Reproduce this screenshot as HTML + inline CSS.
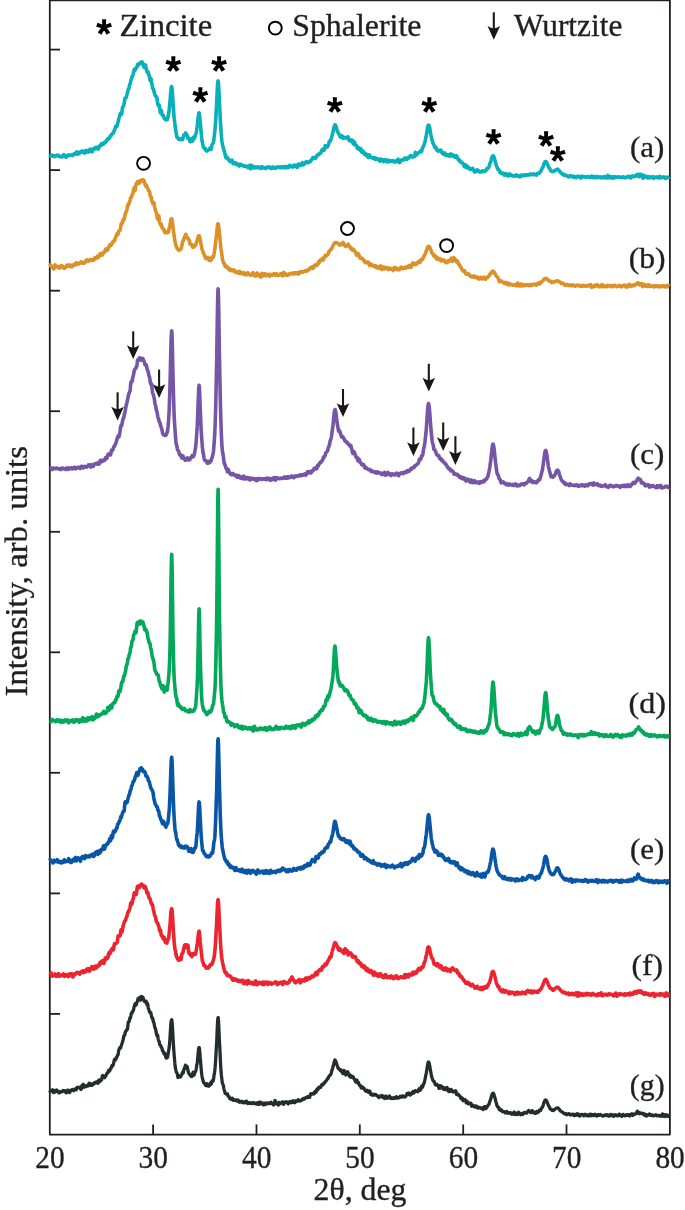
<!DOCTYPE html>
<html lang="en"><head><meta charset="utf-8"><title>XRD patterns</title>
<style>html,body{margin:0;padding:0;background:#fff}svg{display:block}text{font-family:"Liberation Serif","DejaVu Serif",serif;fill:#231f20;stroke:#231f20;stroke-width:0.35px}.ast{font-family:"Liberation Sans","DejaVu Sans",sans-serif;font-weight:normal;fill:#000;stroke:#000;stroke-width:1.5px;stroke-linejoin:miter}</style></head><body>
<svg width="685" height="1210" viewBox="0 0 685 1210">
<rect width="685" height="1210" fill="#fff"/>
<g stroke="#231f20" stroke-width="1.8" fill="none" stroke-linecap="butt" stroke-linejoin="round">
<path d="M49.8 1134.6 V0.3 H669.9 V1134.6 Z"/>
<path d="M49.8 49.6 h10.2"/>
<path d="M49.8 170.1 h10.2"/>
<path d="M49.8 290.7 h10.2"/>
<path d="M49.8 411.2 h10.2"/>
<path d="M49.8 531.8 h10.2"/>
<path d="M49.8 652.3 h10.2"/>
<path d="M49.8 772.8 h10.2"/>
<path d="M49.8 893.4 h10.2"/>
<path d="M49.8 1013.9 h10.2"/>
<path d="M153.1 1134.6 v-10.2"/>
<path d="M256.5 1134.6 v-10.2"/>
<path d="M359.8 1134.6 v-10.2"/>
<path d="M463.2 1134.6 v-10.2"/>
<path d="M566.5 1134.6 v-10.2"/>
</g>
<g fill="none" stroke-linejoin="round" stroke-linecap="butt">
<polyline stroke="#08b0b9" stroke-width="3.6" points="49.8,155.7 50.1,156.3 50.4,156.4 50.7,156.0 51.0,155.2 51.3,155.0 51.6,155.3 52.0,155.8 52.3,155.4 52.6,155.4 52.9,155.6 53.2,156.0 53.5,156.4 53.8,155.9 54.1,155.9 54.4,156.2 54.7,156.5 55.0,156.5 55.4,156.5 55.7,156.2 56.0,155.8 56.3,155.6 56.6,155.5 56.9,155.5 57.2,155.2 57.5,155.0 57.8,155.1 58.1,155.2 58.5,155.2 58.8,155.8 59.1,156.5 59.4,156.6 59.7,156.3 60.0,156.3 60.3,156.6 60.6,156.8 60.9,156.9 61.2,156.9 61.5,156.6 61.9,156.1 62.2,156.0 62.5,156.6 62.8,156.6 63.1,156.0 63.4,155.3 63.7,154.6 64.0,154.8 64.3,155.3 64.6,155.7 65.0,156.4 65.3,156.7 65.6,157.0 65.9,157.2 66.2,156.9 66.5,156.3 66.8,155.9 67.1,155.8 67.4,155.3 67.7,155.3 68.1,155.0 68.4,155.3 68.7,155.7 69.0,155.5 69.3,155.4 69.6,155.0 69.9,155.0 70.2,155.0 70.5,155.0 70.8,155.0 71.1,154.9 71.5,155.1 71.8,155.1 72.1,155.0 72.4,155.0 72.7,155.6 73.0,155.3 73.3,154.7 73.6,154.2 73.9,154.0 74.2,153.9 74.6,153.7 74.9,153.4 75.2,153.5 75.5,154.0 75.8,153.5 76.1,153.3 76.4,152.3 76.7,151.9 77.0,152.9 77.3,154.1 77.6,154.2 78.0,153.2 78.3,152.3 78.6,152.6 78.9,153.6 79.2,153.5 79.5,152.8 79.8,152.3 80.1,152.2 80.4,152.0 80.7,151.9 81.1,152.0 81.4,152.2 81.7,152.2 82.0,151.6 82.3,151.0 82.6,151.3 82.9,151.7 83.2,151.6 83.5,151.6 83.8,151.6 84.1,152.7 84.5,153.2 84.8,152.5 85.1,151.3 85.4,150.7 85.7,151.8 86.0,152.5 86.3,152.3 86.6,151.4 86.9,150.6 87.2,150.7 87.6,150.7 87.9,150.6 88.2,151.3 88.5,151.7 88.8,152.0 89.1,151.7 89.4,151.3 89.7,150.4 90.0,149.2 90.3,149.1 90.7,149.4 91.0,150.3 91.3,150.8 91.6,151.1 91.9,151.6 92.2,151.7 92.5,151.4 92.8,150.5 93.1,149.5 93.4,148.8 93.7,148.4 94.1,148.3 94.4,148.3 94.7,148.6 95.0,148.9 95.3,148.2 95.6,147.5 95.9,147.3 96.2,148.0 96.5,148.7 96.8,148.3 97.2,147.4 97.5,147.1 97.8,147.5 98.1,148.4 98.4,149.0 98.7,148.2 99.0,147.3 99.3,146.3 99.6,145.9 99.9,146.3 100.2,146.1 100.6,145.8 100.9,144.9 101.2,144.1 101.5,143.6 101.8,143.5 102.1,143.8 102.4,143.9 102.7,144.3 103.0,144.5 103.3,144.4 103.7,143.9 104.0,143.2 104.3,142.7 104.6,142.1 104.9,142.0 105.2,142.0 105.5,142.2 105.8,141.7 106.1,141.3 106.4,140.9 106.8,140.3 107.1,140.1 107.4,139.4 107.7,139.5 108.0,139.4 108.3,138.8 108.6,138.0 108.9,138.0 109.2,138.4 109.5,138.1 109.8,137.4 110.2,136.0 110.5,136.0 110.8,135.8 111.1,135.5 111.4,135.4 111.7,134.3 112.0,133.9 112.3,133.5 112.6,133.5 112.9,133.6 113.3,133.1 113.6,132.4 113.9,131.7 114.2,130.8 114.5,130.0 114.8,129.1 115.1,128.4 115.4,127.7 115.7,126.5 116.0,125.9 116.3,125.8 116.7,126.5 117.0,126.2 117.3,125.1 117.6,123.6 117.9,122.5 118.2,121.8 118.5,120.0 118.8,118.9 119.1,117.7 119.4,116.9 119.8,116.1 120.1,114.4 120.4,113.3 120.7,113.1 121.0,114.1 121.3,114.4 121.6,114.0 121.9,112.4 122.2,109.8 122.5,108.0 122.8,106.8 123.2,106.3 123.5,106.0 123.8,105.1 124.1,103.7 124.4,101.8 124.7,99.8 125.0,98.5 125.3,98.0 125.6,97.8 125.9,97.9 126.3,97.2 126.6,96.1 126.9,94.6 127.2,93.4 127.5,92.9 127.8,91.3 128.1,89.8 128.4,89.2 128.7,88.8 129.0,87.7 129.4,85.9 129.7,84.5 130.0,84.0 130.3,83.1 130.6,82.1 130.9,80.4 131.2,79.5 131.5,78.6 131.8,76.9 132.1,76.7 132.4,76.2 132.8,75.4 133.1,74.7 133.4,73.2 133.7,71.7 134.0,70.4 134.3,69.4 134.6,69.7 134.9,70.3 135.2,69.9 135.5,69.2 135.9,68.2 136.2,68.0 136.5,67.7 136.8,67.2 137.1,66.7 137.4,65.4 137.7,64.2 138.0,64.1 138.3,64.5 138.6,64.9 138.9,64.7 139.3,63.6 139.6,63.4 139.9,63.1 140.2,63.0 140.5,62.5 140.8,62.7 141.1,63.1 141.4,62.6 141.7,62.4 142.0,61.9 142.4,62.7 142.7,63.2 143.0,63.5 143.3,65.6 143.6,66.6 143.9,67.1 144.2,66.1 144.5,65.3 144.8,65.4 145.1,64.8 145.5,65.2 145.8,66.3 146.1,68.7 146.4,69.9 146.7,70.2 147.0,71.7 147.3,72.4 147.6,72.7 147.9,72.2 148.2,71.9 148.5,73.7 148.9,75.2 149.2,75.8 149.5,76.3 149.8,78.0 150.1,80.4 150.4,80.7 150.7,79.8 151.0,78.8 151.3,80.0 151.6,82.3 152.0,84.3 152.3,86.5 152.6,87.9 152.9,88.8 153.2,88.7 153.5,89.2 153.8,90.5 154.1,92.1 154.4,93.1 154.7,94.1 155.0,94.9 155.4,95.9 155.7,96.4 156.0,96.3 156.3,96.9 156.6,96.8 156.9,97.9 157.2,99.8 157.5,101.9 157.8,104.2 158.1,104.9 158.5,105.9 158.8,105.5 159.1,105.0 159.4,105.7 159.7,107.8 160.0,111.0 160.3,112.8 160.6,112.8 160.9,111.1 161.2,110.4 161.5,111.0 161.9,113.2 162.2,114.9 162.5,115.3 162.8,115.1 163.1,115.1 163.4,115.6 163.7,116.5 164.0,117.7 164.3,118.1 164.6,118.7 165.0,118.8 165.3,119.2 165.6,119.7 165.9,119.7 166.2,119.2 166.5,119.2 166.8,119.4 167.1,119.7 167.4,119.3 167.7,117.9 168.1,116.5 168.4,114.8 168.7,113.3 169.0,111.7 169.3,109.1 169.6,105.8 169.9,102.3 170.2,98.8 170.5,94.9 170.8,91.2 171.1,88.3 171.5,86.7 171.7,86.8 171.8,87.0 172.1,89.1 172.4,92.7 172.7,97.2 173.0,102.0 173.3,106.6 173.6,111.0 173.9,114.9 174.2,118.4 174.6,121.4 174.9,123.9 175.2,126.6 175.5,128.9 175.8,130.6 176.1,132.3 176.4,134.1 176.7,136.0 177.0,137.3 177.3,137.7 177.6,137.7 178.0,137.7 178.3,138.4 178.6,139.3 178.9,139.5 179.2,139.4 179.5,138.8 179.8,139.0 180.1,139.3 180.4,138.9 180.7,139.0 181.1,139.1 181.4,138.9 181.7,138.9 182.0,139.4 182.3,139.3 182.6,139.5 182.9,138.4 183.2,137.1 183.5,136.5 183.8,134.9 184.2,134.9 184.5,135.2 184.8,135.1 185.1,134.8 185.4,133.5 185.7,133.0 186.0,133.7 186.3,134.0 186.6,134.4 186.9,134.7 187.2,135.7 187.6,137.6 187.9,138.5 188.2,138.3 188.5,138.2 188.8,138.3 189.1,138.8 189.4,139.7 189.7,140.7 190.0,141.6 190.3,141.7 190.7,141.2 191.0,140.0 191.3,139.5 191.6,139.0 191.9,139.6 192.2,140.8 192.5,141.0 192.8,140.5 193.1,138.4 193.4,137.4 193.7,137.7 194.1,138.0 194.4,138.2 194.7,137.4 195.0,136.2 195.3,135.5 195.6,134.8 195.9,134.0 196.2,132.9 196.5,131.0 196.8,128.6 197.2,126.2 197.5,123.7 197.8,120.8 198.1,118.1 198.4,115.5 198.7,113.5 199.0,112.8 199.1,112.8 199.3,113.5 199.6,115.5 199.9,118.6 200.2,122.2 200.6,126.0 200.9,129.7 201.2,132.8 201.5,135.9 201.8,138.7 202.1,141.0 202.4,142.4 202.7,143.7 203.0,145.4 203.3,146.8 203.7,147.8 204.0,147.8 204.3,147.8 204.6,147.8 204.9,148.2 205.2,149.2 205.5,149.7 205.8,150.1 206.1,150.4 206.4,150.7 206.8,151.2 207.1,150.9 207.4,150.5 207.7,150.3 208.0,150.0 208.3,150.2 208.6,149.8 208.9,149.7 209.2,149.4 209.5,149.0 209.8,148.4 210.2,147.8 210.5,148.3 210.8,148.9 211.1,149.3 211.4,148.1 211.7,146.3 212.0,144.9 212.3,143.9 212.6,143.8 212.9,143.5 213.3,142.7 213.6,141.5 213.9,139.3 214.2,136.9 214.5,134.1 214.8,131.3 215.1,128.5 215.4,125.0 215.7,120.7 216.0,115.1 216.3,108.8 216.7,102.1 217.0,95.2 217.3,89.0 217.6,84.1 217.9,81.3 218.1,81.0 218.2,81.2 218.5,83.6 218.8,88.4 219.1,94.6 219.4,101.6 219.8,108.8 220.1,115.3 220.4,121.1 220.7,126.0 221.0,130.4 221.3,134.7 221.6,138.3 221.9,141.3 222.2,143.2 222.5,144.7 222.9,146.2 223.2,147.6 223.5,149.0 223.8,149.8 224.1,150.4 224.4,151.6 224.7,152.7 225.0,153.8 225.3,155.3 225.6,156.4 225.9,157.5 226.3,157.9 226.6,157.6 226.9,157.5 227.2,157.1 227.5,157.6 227.8,158.1 228.1,158.9 228.4,159.8 228.7,159.6 229.0,159.9 229.4,160.3 229.7,160.9 230.0,161.7 230.3,161.1 230.6,160.7 230.9,160.6 231.2,160.6 231.5,160.9 231.8,160.2 232.1,160.3 232.4,161.4 232.8,162.7 233.1,163.6 233.4,163.3 233.7,162.8 234.0,163.0 234.3,163.4 234.6,163.4 234.9,163.4 235.2,163.2 235.5,162.7 235.9,163.2 236.2,163.8 236.5,164.2 236.8,164.7 237.1,164.3 237.4,164.0 237.7,164.5 238.0,164.5 238.3,164.7 238.6,165.1 238.9,165.5 239.3,166.0 239.6,165.6 239.9,164.4 240.2,164.1 240.5,164.2 240.8,164.9 241.1,165.0 241.4,164.7 241.7,164.7 242.0,165.2 242.4,165.6 242.7,165.7 243.0,165.8 243.3,165.9 243.6,166.1 243.9,165.9 244.2,165.7 244.5,165.8 244.8,166.4 245.1,166.4 245.5,166.4 245.8,166.2 246.1,166.3 246.4,166.4 246.7,166.3 247.0,166.2 247.3,166.3 247.6,167.1 247.9,167.6 248.2,167.6 248.5,167.6 248.9,166.9 249.2,166.2 249.5,165.4 249.8,165.2 250.1,166.7 250.4,167.9 250.7,168.7 251.0,168.5 251.3,167.2 251.6,165.9 252.0,165.5 252.3,166.2 252.6,167.0 252.9,167.5 253.2,167.0 253.5,167.2 253.8,167.9 254.1,168.0 254.4,167.8 254.7,167.3 255.0,166.9 255.4,167.4 255.7,167.4 256.0,167.4 256.3,167.7 256.6,167.6 256.9,167.5 257.2,167.2 257.5,166.8 257.8,166.7 258.1,166.7 258.5,167.1 258.8,167.4 259.1,167.7 259.4,167.9 259.7,167.6 260.0,167.7 260.3,168.0 260.6,168.4 260.9,168.2 261.2,167.4 261.6,166.8 261.9,166.7 262.2,167.3 262.5,167.7 262.8,168.0 263.1,167.9 263.4,167.5 263.7,167.5 264.0,167.8 264.3,167.8 264.6,167.6 265.0,167.9 265.3,168.3 265.6,168.4 265.9,168.5 266.2,168.2 266.5,167.9 266.8,167.6 267.1,167.1 267.4,167.0 267.7,167.2 268.1,167.2 268.4,167.4 268.7,167.2 269.0,166.9 269.3,167.2 269.6,167.5 269.9,167.4 270.2,167.7 270.5,167.7 270.8,168.2 271.1,168.6 271.5,168.3 271.8,167.7 272.1,167.0 272.4,166.9 272.7,167.5 273.0,167.9 273.3,168.0 273.6,168.2 273.9,168.0 274.2,168.0 274.6,167.7 274.9,167.5 275.2,167.4 275.5,167.5 275.8,168.1 276.1,168.1 276.4,167.6 276.7,167.0 277.0,167.0 277.3,167.4 277.6,167.0 278.0,167.0 278.3,167.1 278.6,167.2 278.9,167.2 279.2,166.8 279.5,167.2 279.8,167.6 280.1,167.7 280.4,167.4 280.7,166.8 281.1,167.0 281.4,167.5 281.7,167.8 282.0,167.7 282.3,167.3 282.6,167.2 282.9,166.7 283.2,166.9 283.5,167.0 283.8,167.0 284.2,167.4 284.5,167.4 284.8,167.7 285.1,167.5 285.4,166.6 285.7,166.3 286.0,166.7 286.3,167.1 286.6,167.7 286.9,167.4 287.2,166.9 287.6,166.9 287.9,166.8 288.2,167.5 288.5,167.5 288.8,167.0 289.1,166.2 289.4,165.5 289.7,165.4 290.0,165.4 290.3,165.9 290.7,166.2 291.0,166.1 291.3,166.6 291.6,166.8 291.9,166.8 292.2,166.9 292.5,166.8 292.8,167.1 293.1,166.5 293.4,165.4 293.7,165.3 294.1,165.9 294.4,166.1 294.7,165.9 295.0,165.9 295.3,165.9 295.6,165.7 295.9,165.0 296.2,165.2 296.5,166.5 296.8,167.3 297.2,167.4 297.5,166.6 297.8,165.5 298.1,164.9 298.4,164.5 298.7,164.0 299.0,164.1 299.3,164.0 299.6,164.6 299.9,165.2 300.3,165.6 300.6,165.3 300.9,164.9 301.2,164.7 301.5,164.9 301.8,164.9 302.1,163.7 302.4,162.7 302.7,163.0 303.0,164.1 303.3,164.8 303.7,164.6 304.0,164.1 304.3,164.1 304.6,163.8 304.9,163.2 305.2,162.9 305.5,162.6 305.8,162.1 306.1,161.7 306.4,161.8 306.8,162.3 307.1,162.7 307.4,162.5 307.7,162.7 308.0,162.8 308.3,162.7 308.6,162.6 308.9,162.1 309.2,161.7 309.5,161.3 309.8,161.3 310.2,161.6 310.5,161.4 310.8,160.8 311.1,159.9 311.4,159.7 311.7,159.7 312.0,159.2 312.3,158.9 312.6,157.9 312.9,157.5 313.3,157.6 313.6,157.5 313.9,158.1 314.2,157.8 314.5,157.5 314.8,157.5 315.1,157.7 315.4,158.3 315.7,158.0 316.0,157.3 316.3,156.4 316.7,156.1 317.0,155.7 317.3,155.4 317.6,155.0 317.9,154.6 318.2,154.4 318.5,154.6 318.8,154.5 319.1,154.2 319.4,153.7 319.8,153.2 320.1,153.4 320.4,153.2 320.7,153.1 321.0,152.3 321.3,151.6 321.6,150.6 321.9,150.1 322.2,150.0 322.5,149.4 322.9,149.2 323.2,149.5 323.5,150.2 323.8,150.4 324.1,150.3 324.4,149.3 324.7,147.8 325.0,146.4 325.3,145.6 325.6,146.3 325.9,147.6 326.3,147.4 326.6,147.3 326.9,147.1 327.2,146.9 327.5,146.7 327.8,146.1 328.1,145.5 328.4,144.7 328.7,143.6 329.0,142.1 329.4,141.6 329.7,141.4 330.0,141.2 330.3,141.0 330.6,140.1 330.9,139.5 331.2,138.5 331.5,137.8 331.8,136.6 332.1,135.3 332.4,134.1 332.8,132.8 333.1,131.5 333.4,129.9 333.7,128.4 334.0,127.1 334.3,126.2 334.6,125.6 334.9,125.1 334.9,124.9 335.2,124.9 335.5,125.4 335.9,126.1 336.2,127.1 336.5,128.3 336.8,129.6 337.1,130.6 337.4,131.3 337.7,131.8 338.0,132.2 338.3,133.0 338.6,133.6 339.0,134.2 339.3,135.1 339.6,135.6 339.9,136.3 340.2,136.9 340.5,137.1 340.8,136.6 341.1,135.8 341.4,135.6 341.7,135.7 342.0,136.1 342.4,136.2 342.7,136.7 343.0,137.8 343.3,138.3 343.6,138.1 343.9,137.7 344.2,137.5 344.5,137.4 344.8,137.8 345.1,138.0 345.5,137.9 345.8,138.0 346.1,137.8 346.4,138.1 346.7,137.9 347.0,137.3 347.3,137.1 347.6,136.9 347.9,136.7 348.2,137.4 348.5,138.6 348.9,139.7 349.2,140.5 349.5,140.2 349.8,140.6 350.1,140.2 350.4,139.8 350.7,140.0 351.0,140.5 351.3,141.4 351.6,141.3 352.0,140.8 352.3,140.2 352.6,140.8 352.9,142.4 353.2,143.8 353.5,143.7 353.8,142.4 354.1,141.7 354.4,142.0 354.7,143.3 355.0,144.6 355.4,145.2 355.7,145.2 356.0,145.0 356.3,145.1 356.6,145.7 356.9,146.5 357.2,147.8 357.5,148.4 357.8,148.6 358.1,148.2 358.5,147.5 358.8,147.9 359.1,148.7 359.4,149.5 359.7,150.0 360.0,150.1 360.3,149.7 360.6,148.6 360.9,148.8 361.2,150.2 361.6,151.9 361.9,152.2 362.2,150.8 362.5,150.9 362.8,151.0 363.1,151.3 363.4,151.8 363.7,152.4 364.0,153.7 364.3,153.9 364.6,154.5 365.0,154.6 365.3,153.9 365.6,153.5 365.9,153.6 366.2,154.7 366.5,155.5 366.8,155.4 367.1,154.7 367.4,154.9 367.7,155.7 368.1,157.0 368.4,157.5 368.7,156.5 369.0,155.4 369.3,154.9 369.6,155.6 369.9,156.6 370.2,156.9 370.5,156.8 370.8,156.7 371.1,157.0 371.5,157.6 371.8,157.6 372.1,157.8 372.4,158.1 372.7,158.3 373.0,158.2 373.3,158.1 373.6,158.2 373.9,157.8 374.2,157.7 374.6,157.8 374.9,158.5 375.2,159.3 375.5,159.2 375.8,159.2 376.1,159.1 376.4,159.1 376.7,158.5 377.0,158.7 377.3,158.7 377.7,158.8 378.0,159.1 378.3,159.1 378.6,159.8 378.9,160.2 379.2,160.4 379.5,160.6 379.8,161.2 380.1,161.0 380.4,160.5 380.7,159.8 381.1,159.0 381.4,159.3 381.7,159.8 382.0,160.2 382.3,160.0 382.6,159.8 382.9,159.8 383.2,160.9 383.5,161.7 383.8,161.7 384.2,161.2 384.5,160.5 384.8,160.2 385.1,159.8 385.4,159.6 385.7,159.6 386.0,159.9 386.3,160.2 386.6,160.7 386.9,161.4 387.2,162.0 387.6,161.8 387.9,160.9 388.2,160.3 388.5,160.2 388.8,160.6 389.1,160.9 389.4,161.2 389.7,161.5 390.0,161.5 390.3,161.1 390.7,160.6 391.0,160.6 391.3,160.7 391.6,160.7 391.9,161.0 392.2,161.3 392.5,161.4 392.8,161.0 393.1,160.7 393.4,161.0 393.7,161.6 394.1,161.9 394.4,161.3 394.7,161.2 395.0,161.3 395.3,161.7 395.6,162.0 395.9,161.2 396.2,160.8 396.5,160.5 396.8,160.9 397.2,161.4 397.5,160.5 397.8,159.5 398.1,159.2 398.4,160.1 398.7,161.3 399.0,162.1 399.3,162.5 399.6,162.6 399.9,162.4 400.3,161.1 400.6,160.4 400.9,160.1 401.2,160.1 401.5,160.4 401.8,160.3 402.1,160.2 402.4,160.1 402.7,159.8 403.0,159.7 403.3,159.8 403.7,159.9 404.0,159.4 404.3,158.9 404.6,158.3 404.9,158.0 405.2,158.5 405.5,158.9 405.8,159.3 406.1,159.3 406.4,159.4 406.8,159.3 407.1,159.2 407.4,158.5 407.7,157.7 408.0,157.7 408.3,157.4 408.6,157.7 408.9,157.9 409.2,157.6 409.5,157.4 409.8,156.9 410.2,156.1 410.5,155.8 410.8,155.5 411.1,155.9 411.4,156.3 411.7,156.6 412.0,156.6 412.3,156.6 412.6,156.9 412.9,156.6 413.3,156.5 413.6,156.1 413.9,156.3 414.2,156.7 414.5,156.5 414.8,155.4 415.1,153.5 415.4,152.4 415.7,152.8 416.0,153.9 416.4,154.9 416.7,154.7 417.0,154.0 417.3,153.6 417.6,153.6 417.9,153.2 418.2,153.2 418.5,152.8 418.8,152.5 419.1,152.4 419.4,152.1 419.8,151.9 420.1,151.3 420.4,151.0 420.7,150.7 421.0,151.4 421.3,151.7 421.6,151.3 421.9,150.5 422.2,149.0 422.5,147.9 422.9,147.1 423.2,146.8 423.5,146.3 423.8,145.8 424.1,144.6 424.4,143.6 424.7,142.7 425.0,141.7 425.3,140.5 425.6,138.9 425.9,137.1 426.3,135.3 426.6,133.4 426.9,131.7 427.2,129.8 427.5,128.1 427.8,126.7 428.1,125.6 428.4,125.1 428.5,125.0 428.7,125.1 429.0,125.7 429.4,126.7 429.7,127.9 430.0,129.6 430.3,131.7 430.6,133.7 430.9,135.2 431.2,136.5 431.5,138.0 431.8,139.5 432.1,140.5 432.4,141.5 432.8,142.5 433.1,143.3 433.4,144.0 433.7,144.4 434.0,145.1 434.3,146.1 434.6,146.9 434.9,147.5 435.2,147.8 435.5,147.5 435.9,147.3 436.2,147.9 436.5,149.3 436.8,150.2 437.1,150.0 437.4,149.8 437.7,150.2 438.0,150.9 438.3,151.2 438.6,150.7 439.0,150.5 439.3,150.3 439.6,150.3 439.9,150.7 440.2,150.8 440.5,150.6 440.8,150.2 441.1,150.5 441.4,151.4 441.7,152.3 442.0,152.8 442.4,153.2 442.7,153.9 443.0,154.0 443.3,153.7 443.6,153.4 443.9,153.2 444.2,152.9 444.5,152.8 444.8,153.0 445.1,154.2 445.5,155.2 445.8,155.4 446.1,155.2 446.4,155.2 446.7,155.5 447.0,155.5 447.3,155.1 447.6,154.6 447.9,155.0 448.2,155.6 448.5,155.7 448.9,155.5 449.2,155.8 449.5,156.0 449.8,156.3 450.1,155.7 450.4,154.4 450.7,154.0 451.0,154.5 451.3,155.3 451.6,155.4 452.0,154.9 452.3,154.7 452.6,155.4 452.9,156.4 453.2,156.4 453.5,156.2 453.8,155.3 454.1,155.2 454.4,155.6 454.7,156.3 455.1,157.3 455.4,157.3 455.7,157.2 456.0,156.7 456.3,155.9 456.6,155.9 456.9,156.5 457.2,157.2 457.5,158.2 457.8,158.8 458.1,159.4 458.5,159.9 458.8,159.4 459.1,159.5 459.4,160.2 459.7,161.2 460.0,161.8 460.3,161.7 460.6,161.8 460.9,162.1 461.2,161.9 461.6,162.2 461.9,162.3 462.2,162.8 462.5,163.3 462.8,163.6 463.1,164.0 463.4,164.4 463.7,165.0 464.0,165.8 464.3,166.7 464.6,166.5 465.0,165.4 465.3,164.7 465.6,165.1 465.9,166.6 466.2,167.6 466.5,167.4 466.8,167.1 467.1,166.6 467.4,166.4 467.7,166.3 468.1,167.0 468.4,167.8 468.7,168.5 469.0,168.8 469.3,168.2 469.6,168.5 469.9,168.4 470.2,168.8 470.5,169.5 470.8,169.4 471.1,169.3 471.5,169.0 471.8,169.0 472.1,169.1 472.4,168.9 472.7,168.4 473.0,168.9 473.3,169.5 473.6,170.1 473.9,170.6 474.2,171.1 474.6,171.8 474.9,172.0 475.2,171.3 475.5,170.9 475.8,170.8 476.1,170.9 476.4,171.0 476.7,170.2 477.0,169.8 477.3,169.9 477.7,170.3 478.0,170.5 478.3,170.6 478.6,170.9 478.9,171.4 479.2,171.6 479.5,172.0 479.8,172.0 480.1,172.2 480.4,171.8 480.7,171.5 481.1,171.5 481.4,171.6 481.7,171.7 482.0,171.2 482.3,170.9 482.6,170.8 482.9,171.2 483.2,171.8 483.5,171.8 483.8,171.7 484.2,171.2 484.5,171.2 484.8,171.2 485.1,170.6 485.4,170.5 485.7,170.6 486.0,170.5 486.3,169.8 486.6,169.0 486.9,168.5 487.2,168.4 487.6,168.4 487.9,168.5 488.2,168.2 488.5,167.8 488.8,167.2 489.1,166.3 489.4,165.2 489.7,164.1 490.0,163.2 490.3,162.6 490.7,161.9 491.0,160.9 491.3,159.8 491.6,158.6 491.9,157.5 492.2,156.6 492.5,156.1 492.8,155.9 493.0,155.8 493.1,155.8 493.4,155.9 493.8,156.6 494.1,157.4 494.4,158.3 494.7,159.5 495.0,160.6 495.3,161.7 495.6,162.8 495.9,163.9 496.2,164.9 496.5,165.9 496.8,166.6 497.2,167.5 497.5,168.4 497.8,169.0 498.1,169.6 498.4,169.7 498.7,169.8 499.0,170.0 499.3,170.5 499.6,171.5 499.9,172.3 500.3,172.3 500.6,172.3 500.9,172.4 501.2,173.0 501.5,173.6 501.8,173.3 502.1,173.2 502.4,173.1 502.7,173.4 503.0,173.4 503.3,173.3 503.7,173.4 504.0,173.8 504.3,174.7 504.6,175.2 504.9,175.2 505.2,174.4 505.5,173.6 505.8,173.6 506.1,174.2 506.4,174.8 506.8,175.0 507.1,175.1 507.4,175.3 507.7,175.8 508.0,176.0 508.3,175.9 508.6,175.2 508.9,174.3 509.2,174.0 509.5,173.9 509.8,174.4 510.2,175.2 510.5,175.6 510.8,175.7 511.1,175.3 511.4,175.1 511.7,175.1 512.0,175.3 512.3,175.5 512.6,175.7 512.9,176.0 513.3,175.9 513.6,175.8 513.9,176.1 514.2,176.2 514.5,176.3 514.8,176.2 515.1,175.7 515.4,175.4 515.7,175.0 516.0,175.0 516.4,175.0 516.7,175.0 517.0,175.4 517.3,175.6 517.6,176.0 517.9,176.1 518.2,176.1 518.5,175.9 518.8,175.6 519.1,176.0 519.4,176.4 519.8,176.9 520.1,176.7 520.4,176.3 520.7,175.8 521.0,175.3 521.3,175.1 521.6,175.5 521.9,175.9 522.2,176.0 522.5,175.8 522.9,175.6 523.2,175.5 523.5,175.1 523.8,175.0 524.1,174.9 524.4,174.8 524.7,174.8 525.0,174.7 525.3,175.1 525.6,175.2 525.9,175.3 526.3,175.2 526.6,174.7 526.9,174.7 527.2,174.9 527.5,175.0 527.8,174.9 528.1,174.7 528.4,174.6 528.7,175.0 529.0,174.9 529.4,174.8 529.7,174.7 529.7,174.4 530.0,174.2 530.3,174.0 530.6,174.2 530.9,174.5 531.2,174.8 531.5,174.7 531.8,174.5 532.1,174.5 532.5,174.2 532.8,174.1 533.1,173.9 533.4,173.9 533.7,174.4 534.0,174.6 534.3,174.8 534.6,174.8 534.9,174.7 535.2,174.6 535.5,174.4 535.9,174.5 536.2,174.9 536.5,175.1 536.8,174.7 537.1,174.1 537.4,173.6 537.7,173.4 538.0,173.3 538.3,173.4 538.6,173.3 539.0,173.2 539.3,173.2 539.6,172.6 539.9,172.2 540.2,171.7 540.5,171.7 540.8,171.4 541.1,170.6 541.4,169.6 541.7,168.9 542.0,168.4 542.4,168.0 542.7,167.5 543.0,166.9 543.3,166.0 543.6,165.0 543.9,164.3 544.2,163.5 544.5,162.9 544.8,162.2 545.1,161.7 545.5,161.5 545.7,161.5 545.8,161.6 546.1,161.7 546.4,162.0 546.7,162.5 547.0,163.2 547.3,164.0 547.6,164.7 547.9,165.4 548.2,166.1 548.5,166.8 548.9,167.6 549.2,168.1 549.5,168.3 549.8,168.8 550.1,169.4 550.4,170.1 550.7,170.5 551.0,170.7 551.3,171.0 551.6,171.4 552.0,171.5 552.3,171.4 552.6,171.5 552.9,171.6 553.2,171.5 553.5,171.4 553.8,171.3 554.1,171.0 554.4,170.8 554.7,170.6 555.1,170.4 555.4,170.3 555.7,170.2 556.0,169.8 556.3,169.7 556.6,169.6 556.9,169.4 557.2,169.2 557.5,169.1 557.5,169.2 557.8,169.4 558.1,169.7 558.5,169.9 558.8,170.2 559.1,170.6 559.4,170.9 559.7,171.3 560.0,171.5 560.3,172.0 560.6,172.5 560.9,172.8 561.2,173.2 561.6,173.4 561.9,173.4 562.2,173.6 562.5,174.0 562.8,174.5 563.1,174.8 563.4,174.5 563.7,174.3 564.0,174.5 564.3,175.0 564.6,175.5 565.0,175.3 565.3,175.0 565.6,175.1 565.9,175.3 566.2,175.7 566.5,175.7 566.8,175.7 567.1,175.7 567.4,175.9 567.7,176.1 568.1,176.6 568.4,176.9 568.7,177.0 569.0,176.7 569.3,176.4 569.6,176.3 569.9,175.9 570.2,175.5 570.5,175.5 570.8,175.8 571.2,176.4 571.5,176.7 571.8,176.4 572.1,176.2 572.4,176.3 572.7,176.6 573.0,176.5 573.3,176.1 573.6,176.2 573.9,177.0 574.2,177.2 574.6,176.9 574.9,176.6 575.2,176.7 575.5,177.4 575.8,177.6 576.1,177.7 576.4,177.2 576.7,176.9 577.0,176.7 577.3,176.2 577.7,176.2 578.0,176.1 578.3,176.5 578.6,176.6 578.9,176.6 579.2,176.7 579.5,176.5 579.8,176.6 580.1,176.9 580.4,177.8 580.7,178.1 581.1,177.8 581.4,177.1 581.7,176.4 582.0,176.6 582.3,176.4 582.6,176.5 582.9,176.9 583.2,176.8 583.5,176.8 583.8,176.7 584.2,176.6 584.5,177.0 584.8,177.1 585.1,177.1 585.4,177.5 585.7,177.2 586.0,177.2 586.3,177.1 586.6,176.8 586.9,176.8 587.2,176.6 587.6,176.9 587.9,177.0 588.2,176.9 588.5,176.7 588.8,177.0 589.1,177.4 589.4,177.6 589.7,177.2 590.0,176.9 590.3,177.0 590.7,177.1 591.0,177.4 591.3,176.8 591.6,176.1 591.9,176.2 592.2,176.9 592.5,177.3 592.8,177.5 593.1,177.1 593.4,176.9 593.8,176.6 594.1,176.5 594.4,177.4 594.7,177.8 595.0,177.7 595.3,177.4 595.6,177.7 595.9,177.7 596.2,177.2 596.5,176.8 596.8,176.5 597.2,176.9 597.5,176.9 597.8,177.1 598.1,177.4 598.4,177.3 598.7,177.0 599.0,177.0 599.3,177.2 599.6,177.1 599.9,176.8 600.3,176.7 600.6,177.2 600.9,177.9 601.2,177.9 601.5,177.2 601.8,177.2 602.1,177.5 602.4,177.6 602.7,177.4 603.0,177.0 603.3,176.9 603.7,176.9 604.0,177.0 604.3,177.4 604.6,177.7 604.9,177.4 605.2,176.7 605.5,176.5 605.8,177.0 606.1,177.5 606.4,177.9 606.8,178.0 607.1,177.7 607.4,176.9 607.7,176.0 608.0,175.5 608.3,175.8 608.6,176.7 608.9,177.4 609.2,177.9 609.5,177.6 609.9,177.6 610.2,177.7 610.5,177.8 610.8,177.6 611.1,176.6 611.4,176.5 611.7,176.7 612.0,177.4 612.3,178.1 612.6,178.2 612.9,178.3 613.3,178.0 613.6,177.5 613.9,177.1 614.2,176.7 614.5,176.6 614.8,176.7 615.1,177.1 615.4,177.5 615.7,177.2 616.0,177.0 616.4,177.2 616.7,177.3 617.0,177.3 617.3,177.0 617.6,176.7 617.9,176.8 618.2,176.9 618.5,176.8 618.8,177.0 619.1,177.2 619.4,177.1 619.8,177.1 620.1,177.2 620.4,177.3 620.7,177.6 621.0,177.6 621.3,177.4 621.6,177.5 621.9,177.5 622.2,177.1 622.5,177.0 622.9,176.9 623.2,177.3 623.5,177.4 623.8,177.1 624.1,177.2 624.4,177.3 624.7,177.7 625.0,177.8 625.3,177.7 625.6,177.6 625.9,177.2 626.3,177.2 626.6,177.2 626.9,177.0 627.2,176.8 627.5,176.6 627.8,176.8 628.1,177.0 628.4,176.9 628.7,176.5 629.0,176.3 629.4,176.5 629.7,176.9 630.0,177.5 630.3,177.9 630.6,177.9 630.9,177.6 631.2,177.2 631.5,177.2 631.8,176.8 632.1,176.1 632.5,175.8 632.8,176.4 633.1,176.6 633.4,176.6 633.7,176.4 634.0,176.3 634.3,176.5 634.6,176.1 634.9,176.2 635.2,176.1 635.5,176.3 635.9,176.2 636.2,175.7 636.5,175.3 636.8,174.8 637.1,174.7 637.4,175.0 637.7,175.1 638.0,174.6 638.3,174.2 638.5,174.4 638.6,175.5 639.0,176.4 639.3,176.7 639.6,176.3 639.9,175.9 640.2,174.9 640.5,174.3 640.8,174.7 641.1,174.9 641.4,175.1 641.7,174.6 642.0,174.7 642.4,175.8 642.7,177.3 643.0,178.3 643.3,178.0 643.6,176.7 643.9,175.7 644.2,175.9 644.5,176.4 644.8,176.5 645.1,176.2 645.5,176.1 645.8,176.5 646.1,176.8 646.4,177.2 646.7,177.4 647.0,177.5 647.3,177.8 647.6,177.6 647.9,177.1 648.2,176.6 648.6,176.7 648.9,177.4 649.2,177.8 649.5,177.5 649.8,177.3 650.1,177.1 650.4,177.0 650.7,177.1 651.0,177.1 651.3,177.5 651.6,177.7 652.0,177.6 652.3,177.5 652.6,176.8 652.9,176.6 653.2,177.4 653.5,178.0 653.8,178.4 654.1,177.9 654.4,177.5 654.7,177.4 655.1,177.4 655.4,177.3 655.7,177.1 656.0,177.1 656.3,177.1 656.6,176.9 656.9,177.2 657.2,177.6 657.5,177.5 657.8,177.6 658.1,177.3 658.5,177.6 658.8,178.0 659.1,177.7 659.4,176.9 659.7,176.3 660.0,176.4 660.3,177.2 660.6,177.9 660.9,177.7 661.2,177.5 661.6,177.4 661.9,177.5 662.2,177.5 662.5,177.2 662.8,177.5 663.1,177.5 663.4,177.5 663.7,177.3 664.0,176.9 664.3,177.1 664.6,177.4 665.0,178.1 665.3,178.5 665.6,178.2 665.9,178.0 666.2,177.4 666.5,177.2 666.8,177.3 667.1,177.5 667.4,177.7 667.7,177.2 668.1,177.2 668.4,177.4 668.7,177.4 669.0,177.0 669.3,176.5"/>
<polyline stroke="#dc9128" stroke-width="3.6" points="49.8,265.7 50.1,265.0 50.4,264.8 50.7,265.8 51.0,266.2 51.3,266.7 51.6,267.1 52.0,267.1 52.3,267.1 52.6,266.5 52.9,266.6 53.2,267.8 53.5,268.7 53.8,269.0 54.1,268.4 54.4,267.3 54.7,266.0 55.0,264.9 55.4,265.0 55.7,265.6 56.0,266.1 56.3,266.5 56.6,266.8 56.9,266.8 57.2,266.6 57.5,266.8 57.8,267.5 58.1,267.5 58.5,266.8 58.8,266.5 59.1,266.8 59.4,267.5 59.7,268.1 60.0,267.2 60.3,267.0 60.6,266.5 60.9,266.1 61.2,266.1 61.5,265.6 61.9,266.1 62.2,266.6 62.5,266.4 62.8,266.3 63.1,266.8 63.4,267.6 63.7,268.2 64.0,268.2 64.3,268.4 64.6,268.3 65.0,268.1 65.3,267.4 65.6,267.0 65.9,267.1 66.2,266.4 66.5,265.8 66.8,265.6 67.1,265.3 67.4,265.0 67.7,265.3 68.1,265.6 68.4,266.2 68.7,266.3 69.0,265.8 69.3,265.8 69.6,265.4 69.9,265.0 70.2,264.9 70.5,265.0 70.8,265.7 71.1,266.2 71.5,266.8 71.8,266.9 72.1,266.6 72.4,266.4 72.7,265.7 73.0,265.3 73.3,265.0 73.6,264.6 73.9,264.5 74.2,264.7 74.6,265.0 74.9,265.1 75.2,263.7 75.5,263.3 75.8,263.5 76.1,263.4 76.4,263.6 76.7,262.9 77.0,263.4 77.3,263.9 77.6,264.1 78.0,264.3 78.3,264.1 78.6,263.9 78.9,263.8 79.2,263.3 79.5,263.2 79.8,263.2 80.1,263.0 80.4,262.9 80.7,262.1 81.1,261.8 81.4,262.2 81.7,262.1 82.0,262.2 82.3,262.4 82.6,262.6 82.9,263.2 83.2,263.0 83.5,262.7 83.8,263.2 84.1,263.2 84.5,263.1 84.8,262.3 85.1,261.7 85.4,261.7 85.7,261.6 86.0,260.9 86.3,260.1 86.6,259.9 86.9,259.8 87.2,260.2 87.6,260.9 87.9,261.5 88.2,261.4 88.5,261.0 88.8,260.9 89.1,260.8 89.4,260.7 89.7,260.1 90.0,259.8 90.3,259.6 90.7,259.7 91.0,259.9 91.3,259.8 91.6,259.7 91.9,259.8 92.2,260.5 92.5,260.3 92.8,260.0 93.1,259.5 93.4,259.7 93.7,260.2 94.1,259.6 94.4,258.9 94.7,258.0 95.0,257.7 95.3,258.4 95.6,258.7 95.9,258.4 96.2,258.5 96.5,258.0 96.8,257.8 97.2,257.3 97.5,256.1 97.8,256.3 98.1,256.7 98.4,257.1 98.7,257.2 99.0,256.4 99.3,255.2 99.6,254.7 99.9,254.1 100.2,253.7 100.6,254.0 100.9,254.3 101.2,254.6 101.5,254.8 101.8,255.1 102.1,255.2 102.4,255.0 102.7,254.0 103.0,253.0 103.3,252.3 103.7,252.1 104.0,252.3 104.3,252.4 104.6,252.1 104.9,251.1 105.2,250.3 105.5,249.8 105.8,249.0 106.1,249.1 106.4,249.4 106.8,249.8 107.1,250.5 107.4,250.2 107.7,250.1 108.0,249.0 108.3,247.5 108.6,247.3 108.9,247.2 109.2,246.9 109.5,245.6 109.8,244.8 110.2,244.6 110.5,245.1 110.8,245.5 111.1,245.1 111.4,244.8 111.7,244.2 112.0,244.0 112.3,243.3 112.6,242.5 112.9,241.7 113.3,241.2 113.6,241.2 113.9,240.9 114.2,241.1 114.5,240.8 114.8,239.7 115.1,238.6 115.4,237.7 115.7,237.1 116.0,236.5 116.3,235.4 116.7,234.3 117.0,233.8 117.3,234.4 117.6,234.8 117.9,234.5 118.2,233.3 118.5,231.7 118.8,231.0 119.1,231.0 119.4,230.7 119.8,230.6 120.1,230.1 120.4,228.4 120.7,226.8 121.0,224.8 121.3,223.4 121.6,223.3 121.9,223.5 122.2,223.5 122.5,222.5 122.8,221.0 123.2,219.7 123.5,219.9 123.8,220.0 124.1,219.2 124.4,218.2 124.7,216.2 125.0,215.0 125.3,213.6 125.6,213.0 125.9,212.4 126.3,211.6 126.6,210.8 126.9,209.7 127.2,208.4 127.5,206.5 127.8,205.1 128.1,204.2 128.4,204.4 128.7,204.5 129.0,204.0 129.4,202.7 129.7,201.2 130.0,200.2 130.3,199.0 130.6,197.8 130.9,197.6 131.2,197.6 131.5,196.7 131.8,195.7 132.1,194.6 132.4,194.4 132.8,194.1 133.1,192.3 133.4,190.6 133.7,188.7 134.0,187.9 134.3,188.5 134.6,189.9 134.9,190.7 135.2,189.8 135.5,188.0 135.9,185.2 136.2,183.7 136.5,183.6 136.8,183.9 137.1,182.7 137.4,181.8 137.7,182.0 138.0,182.8 138.3,183.2 138.6,182.9 138.9,183.4 139.3,183.1 139.6,181.9 139.9,180.6 140.2,180.6 140.5,181.7 140.8,181.4 141.1,181.2 141.4,181.1 141.7,181.0 142.0,180.6 142.4,179.8 142.7,179.8 143.0,180.8 143.3,180.8 143.6,180.2 143.9,180.2 144.2,181.5 144.5,182.8 144.8,183.6 145.1,184.8 145.5,185.7 145.8,186.2 146.1,185.4 146.4,185.0 146.7,186.0 147.0,187.2 147.3,187.8 147.6,188.2 147.9,188.9 148.2,189.6 148.5,190.8 148.9,190.8 149.2,191.2 149.5,191.8 149.8,192.9 150.1,195.3 150.4,196.4 150.7,197.0 151.0,196.7 151.3,197.3 151.6,199.5 152.0,201.0 152.3,201.9 152.6,202.8 152.9,203.8 153.2,203.9 153.5,203.1 153.8,202.5 154.1,203.7 154.4,205.5 154.7,207.4 155.0,208.6 155.4,210.0 155.7,210.9 156.0,211.7 156.3,212.8 156.6,213.9 156.9,216.0 157.2,217.5 157.5,218.9 157.8,218.5 158.1,217.3 158.5,215.5 158.8,215.8 159.1,218.3 159.4,221.3 159.7,222.9 160.0,223.6 160.3,224.0 160.6,224.9 160.9,224.9 161.2,223.9 161.5,225.0 161.9,226.6 162.2,228.0 162.5,228.2 162.8,228.5 163.1,228.6 163.4,229.5 163.7,229.4 164.0,229.8 164.3,231.0 164.6,231.9 165.0,232.8 165.3,232.7 165.6,232.6 165.9,232.1 166.2,232.2 166.5,232.1 166.8,232.0 167.1,232.4 167.4,232.5 167.7,232.7 168.1,232.5 168.4,232.0 168.7,230.8 169.0,229.3 169.3,228.1 169.6,226.9 169.9,225.6 170.2,223.9 170.5,221.9 170.8,220.3 171.1,219.1 171.5,218.7 171.7,218.8 171.8,218.9 172.1,220.0 172.4,222.0 172.7,224.7 173.0,227.4 173.3,229.8 173.6,231.9 173.9,234.1 174.2,236.3 174.6,238.9 174.9,240.9 175.2,242.4 175.5,243.7 175.8,244.7 176.1,245.9 176.4,246.6 176.7,247.2 177.0,248.0 177.3,248.7 177.6,248.8 178.0,249.0 178.3,249.8 178.6,250.2 178.9,250.2 179.2,250.3 179.5,249.6 179.8,249.7 180.1,249.6 180.4,249.3 180.7,249.3 181.1,248.6 181.4,247.7 181.7,246.7 182.0,244.8 182.3,242.9 182.6,241.8 182.9,240.9 183.2,241.1 183.5,240.7 183.8,239.1 184.2,237.8 184.5,237.0 184.8,237.0 185.1,236.8 185.4,235.4 185.7,234.3 186.0,234.6 186.3,235.9 186.6,237.0 186.9,237.7 187.2,237.6 187.6,237.7 187.9,238.0 188.2,238.7 188.5,239.4 188.8,239.8 189.1,239.9 189.4,240.5 189.7,242.4 190.0,243.7 190.3,244.2 190.7,243.8 191.0,243.8 191.3,244.3 191.6,244.6 191.9,244.8 192.2,245.9 192.5,247.0 192.8,247.3 193.1,246.7 193.4,246.0 193.7,246.5 194.1,246.8 194.4,246.0 194.7,245.2 195.0,245.0 195.3,245.2 195.6,245.2 195.9,244.3 196.2,243.5 196.5,242.6 196.8,241.7 197.2,240.6 197.5,239.3 197.8,238.1 198.1,237.0 198.4,236.1 198.7,235.7 199.0,235.7 199.1,235.9 199.3,236.1 199.6,236.9 199.9,238.2 200.2,239.9 200.6,241.6 200.9,243.3 201.2,245.0 201.5,246.6 201.8,248.2 202.1,249.2 202.4,250.1 202.7,250.6 203.0,251.7 203.3,253.1 203.7,253.7 204.0,254.2 204.3,254.7 204.6,255.5 204.9,256.2 205.2,257.4 205.5,258.3 205.8,258.5 206.1,258.2 206.4,257.8 206.8,257.9 207.1,258.3 207.4,258.1 207.7,257.4 208.0,257.5 208.3,258.1 208.6,259.3 208.9,260.1 209.2,259.6 209.5,259.2 209.8,259.1 210.2,259.6 210.5,260.3 210.8,260.5 211.1,259.9 211.4,258.9 211.7,257.6 212.0,257.1 212.3,257.3 212.6,257.6 212.9,257.7 213.3,257.2 213.6,256.0 213.9,254.6 214.2,253.0 214.5,251.3 214.8,249.3 215.1,247.0 215.4,244.4 215.7,241.9 216.0,239.3 216.3,236.4 216.7,233.2 217.0,229.9 217.3,227.1 217.6,224.8 217.9,223.7 218.1,223.7 218.2,223.9 218.5,225.2 218.8,227.4 219.1,230.3 219.4,233.5 219.8,236.6 220.1,240.0 220.4,243.4 220.7,246.3 221.0,249.0 221.3,251.0 221.6,252.9 221.9,255.0 222.2,257.1 222.5,259.3 222.9,260.8 223.2,261.8 223.5,262.7 223.8,263.0 224.1,263.2 224.4,264.2 224.7,265.2 225.0,266.0 225.3,266.6 225.6,266.9 225.9,267.0 226.3,266.5 226.6,266.2 226.9,266.6 227.2,267.3 227.5,267.3 227.8,267.4 228.1,268.2 228.4,269.2 228.7,269.5 229.0,269.1 229.4,268.7 229.7,268.6 230.0,268.9 230.3,269.4 230.6,270.4 230.9,270.6 231.2,270.0 231.5,269.8 231.8,269.8 232.1,270.4 232.4,270.8 232.8,270.6 233.1,270.3 233.4,270.3 233.7,269.8 234.0,270.2 234.3,270.2 234.6,270.6 234.9,271.6 235.2,271.9 235.5,272.5 235.9,272.3 236.2,271.8 236.5,271.7 236.8,271.7 237.1,272.2 237.4,272.5 237.7,272.2 238.0,272.4 238.3,272.8 238.6,273.2 238.9,272.9 239.3,272.0 239.6,271.3 239.9,271.7 240.2,272.7 240.5,273.4 240.8,273.5 241.1,273.0 241.4,273.0 241.7,272.9 242.0,272.7 242.4,272.9 242.7,273.3 243.0,273.9 243.3,273.6 243.6,272.7 243.9,272.6 244.2,273.2 244.5,274.3 244.8,274.7 245.1,274.4 245.5,273.8 245.8,273.8 246.1,273.9 246.4,274.0 246.7,274.6 247.0,274.6 247.3,274.4 247.6,273.4 247.9,272.6 248.2,273.0 248.5,273.6 248.9,273.9 249.2,274.1 249.5,274.4 249.8,274.8 250.1,275.0 250.4,275.3 250.7,275.1 251.0,275.0 251.3,275.1 251.6,275.0 252.0,274.8 252.3,274.1 252.6,272.9 252.9,272.6 253.2,273.3 253.5,273.6 253.8,274.5 254.1,275.2 254.4,275.9 254.7,276.0 255.0,275.2 255.4,274.8 255.7,275.1 256.0,275.8 256.3,275.3 256.6,274.3 256.9,273.3 257.2,273.0 257.5,273.7 257.8,274.7 258.1,275.5 258.5,275.8 258.8,275.5 259.1,274.8 259.4,275.1 259.7,274.9 260.0,274.8 260.3,275.2 260.6,276.3 260.9,277.1 261.2,276.2 261.6,274.5 261.9,273.4 262.2,273.7 262.5,274.3 262.8,275.1 263.1,275.5 263.4,275.6 263.7,275.0 264.0,274.3 264.3,274.2 264.6,273.7 265.0,273.9 265.3,274.4 265.6,275.1 265.9,275.8 266.2,275.6 266.5,275.0 266.8,274.7 267.1,274.4 267.4,274.5 267.7,274.9 268.1,275.0 268.4,274.7 268.7,274.4 269.0,274.8 269.3,275.7 269.6,276.2 269.9,275.6 270.2,275.1 270.5,275.1 270.8,274.8 271.1,274.4 271.5,274.6 271.8,274.8 272.1,275.2 272.4,274.8 272.7,274.5 273.0,274.9 273.3,274.7 273.6,274.1 273.9,273.6 274.2,273.8 274.6,274.5 274.9,274.9 275.2,274.5 275.5,275.0 275.8,275.3 276.1,275.3 276.4,274.6 276.7,273.8 277.0,274.1 277.3,274.8 277.6,275.4 278.0,275.4 278.3,275.2 278.6,275.0 278.9,275.0 279.2,274.8 279.5,275.0 279.8,274.8 280.1,274.7 280.4,274.2 280.7,273.6 281.1,274.2 281.4,274.5 281.7,274.9 282.0,275.5 282.3,275.8 282.6,275.9 282.9,275.1 283.2,273.5 283.5,272.6 283.8,272.3 284.2,273.1 284.5,274.3 284.8,274.4 285.1,274.3 285.4,273.8 285.7,274.1 286.0,275.0 286.3,275.4 286.6,275.2 286.9,274.7 287.2,274.7 287.6,275.1 287.9,275.2 288.2,274.6 288.5,274.3 288.8,273.9 289.1,273.9 289.4,274.1 289.7,273.6 290.0,273.6 290.3,273.4 290.7,273.6 291.0,273.9 291.3,274.0 291.6,274.0 291.9,273.6 292.2,273.5 292.5,273.6 292.8,273.7 293.1,273.5 293.4,272.8 293.7,272.9 294.1,273.5 294.4,274.0 294.7,273.9 295.0,273.0 295.3,272.9 295.6,272.7 295.9,273.0 296.2,273.0 296.5,272.9 296.8,272.9 297.2,272.7 297.5,272.8 297.8,273.2 298.1,274.1 298.4,274.2 298.7,273.8 299.0,272.7 299.3,272.2 299.6,272.4 299.9,272.7 300.3,272.4 300.6,271.6 300.9,271.6 301.2,271.8 301.5,272.1 301.8,272.2 302.1,272.0 302.4,272.2 302.7,272.2 303.0,271.9 303.3,271.6 303.7,271.5 304.0,271.6 304.3,271.4 304.6,271.0 304.9,270.7 305.2,270.8 305.5,270.8 305.8,271.0 306.1,270.6 306.4,270.6 306.8,271.0 307.1,270.5 307.4,270.3 307.7,270.0 308.0,270.0 308.3,270.4 308.6,269.6 308.9,269.3 309.2,269.2 309.5,268.9 309.8,268.7 310.2,267.9 310.5,267.8 310.8,267.9 311.1,267.9 311.4,267.6 311.7,267.1 312.0,266.9 312.3,266.7 312.6,267.4 312.9,268.3 313.3,268.1 313.6,267.6 313.9,266.6 314.2,265.8 314.5,265.7 314.8,265.1 315.1,264.9 315.4,265.1 315.7,265.6 316.0,265.8 316.3,265.5 316.7,265.0 317.0,264.6 317.3,264.9 317.6,264.7 317.9,263.6 318.2,262.5 318.5,262.0 318.8,262.5 319.1,262.8 319.4,261.8 319.8,260.7 320.1,260.1 320.4,259.8 320.7,260.0 321.0,259.9 321.3,260.1 321.6,260.1 321.9,259.3 322.2,258.7 322.5,259.1 322.9,259.9 323.2,260.0 323.5,258.8 323.8,257.6 324.1,257.7 324.4,257.2 324.7,257.0 325.0,255.8 325.3,255.4 325.6,256.1 325.9,255.9 326.3,256.0 326.6,255.6 326.9,255.1 327.2,254.9 327.5,254.6 327.8,254.1 328.1,254.3 328.4,253.3 328.7,252.4 329.0,251.4 329.4,250.8 329.7,251.0 330.0,250.5 330.3,250.2 330.6,249.8 330.9,249.3 331.2,249.0 331.5,248.5 331.8,248.1 332.1,247.9 332.4,247.1 332.8,246.1 333.1,245.4 333.4,244.6 333.7,244.2 334.0,243.8 334.3,243.3 334.6,243.0 334.9,242.7 334.9,242.8 335.2,242.7 335.5,242.7 335.9,242.6 336.2,242.5 336.5,242.6 336.8,242.9 337.1,243.1 337.4,243.1 337.7,243.1 338.0,243.2 338.3,243.6 338.6,244.0 339.0,244.6 339.3,245.0 339.6,245.1 339.9,245.0 340.2,244.4 340.5,244.4 340.8,244.3 341.1,244.2 341.4,244.5 341.7,244.3 342.0,244.4 342.4,243.6 342.7,242.8 343.0,242.5 343.3,242.8 343.6,243.9 343.9,244.4 344.2,244.8 344.5,244.9 344.8,245.2 345.1,245.9 345.5,246.4 345.8,246.2 346.1,245.8 346.4,245.5 346.7,245.4 347.0,245.5 347.3,245.2 347.6,245.0 347.9,244.4 348.2,244.2 348.5,244.8 348.9,246.0 349.2,246.6 349.5,246.7 349.8,246.7 350.1,246.7 350.4,248.0 350.7,248.5 351.0,248.3 351.3,248.0 351.6,248.1 352.0,249.1 352.3,250.1 352.6,250.0 352.9,249.4 353.2,249.4 353.5,249.4 353.8,250.1 354.1,250.6 354.4,251.0 354.7,251.0 355.0,251.3 355.4,251.9 355.7,252.6 356.0,253.7 356.3,254.3 356.6,254.8 356.9,255.3 357.2,255.3 357.5,254.8 357.8,254.1 358.1,253.6 358.5,254.1 358.8,254.9 359.1,255.6 359.4,256.5 359.7,257.3 360.0,257.9 360.3,258.3 360.6,258.3 360.9,258.1 361.2,258.0 361.6,258.2 361.9,258.2 362.2,258.3 362.5,258.7 362.8,259.4 363.1,259.8 363.4,259.9 363.7,260.1 364.0,260.3 364.3,261.0 364.6,261.7 365.0,262.2 365.3,262.7 365.6,262.5 365.9,262.7 366.2,262.6 366.5,262.1 366.8,262.0 367.1,262.1 367.4,262.5 367.7,262.3 368.1,262.0 368.4,262.2 368.7,262.8 369.0,264.1 369.3,265.2 369.6,265.5 369.9,265.5 370.2,264.3 370.5,263.9 370.8,264.5 371.1,265.0 371.5,265.1 371.8,264.5 372.1,264.6 372.4,265.5 372.7,265.9 373.0,265.8 373.3,265.5 373.6,265.7 373.9,266.1 374.2,266.3 374.6,266.0 374.9,265.5 375.2,265.5 375.5,265.9 375.8,267.1 376.1,267.6 376.4,267.0 376.7,266.5 377.0,266.3 377.3,266.6 377.7,266.9 378.0,267.4 378.3,267.8 378.6,268.4 378.9,268.3 379.2,267.5 379.5,267.3 379.8,267.0 380.1,266.9 380.4,266.5 380.7,265.8 381.1,266.2 381.4,267.4 381.7,268.7 382.0,269.5 382.3,269.2 382.6,268.3 382.9,268.0 383.2,267.6 383.5,267.2 383.8,266.9 384.2,267.1 384.5,268.1 384.8,268.8 385.1,268.5 385.4,267.6 385.7,267.5 386.0,267.8 386.3,268.1 386.6,268.5 386.9,268.5 387.2,268.1 387.6,267.7 387.9,267.8 388.2,268.7 388.5,269.6 388.8,269.4 389.1,268.9 389.4,268.6 389.7,268.5 390.0,268.2 390.3,268.2 390.7,268.5 391.0,268.7 391.3,268.9 391.6,269.5 391.9,269.6 392.2,269.5 392.5,269.5 392.8,270.0 393.1,270.5 393.4,269.8 393.7,268.3 394.1,267.6 394.4,267.6 394.7,267.6 395.0,268.4 395.3,268.6 395.6,268.5 395.9,268.2 396.2,268.0 396.5,268.8 396.8,269.6 397.2,269.6 397.5,269.2 397.8,269.1 398.1,268.8 398.4,269.4 398.7,269.8 399.0,269.9 399.3,269.8 399.6,269.2 399.9,269.0 400.3,268.5 400.6,267.8 400.9,267.2 401.2,267.1 401.5,267.6 401.8,267.7 402.1,268.0 402.4,268.2 402.7,268.5 403.0,268.7 403.3,268.7 403.7,268.5 404.0,267.9 404.3,267.8 404.6,267.8 404.9,267.9 405.2,268.1 405.5,268.1 405.8,267.7 406.1,266.8 406.4,266.9 406.8,267.0 407.1,267.5 407.4,267.2 407.7,266.6 408.0,267.1 408.3,266.7 408.6,267.0 408.9,266.2 409.2,265.5 409.5,265.2 409.8,265.3 410.2,266.2 410.5,266.8 410.8,267.4 411.1,267.2 411.4,266.3 411.7,265.6 412.0,265.2 412.3,264.6 412.6,263.6 412.9,262.9 413.3,263.2 413.6,264.1 413.9,264.7 414.2,264.3 414.5,264.0 414.8,263.5 415.1,263.5 415.4,263.8 415.7,264.2 416.0,264.7 416.4,264.2 416.7,263.5 417.0,262.7 417.3,262.6 417.6,263.0 417.9,262.8 418.2,261.9 418.5,261.4 418.8,261.4 419.1,261.9 419.4,262.2 419.8,262.4 420.1,262.4 420.4,261.6 420.7,260.5 421.0,259.8 421.3,259.4 421.6,259.3 421.9,259.2 422.2,259.2 422.5,259.4 422.9,258.7 423.2,258.0 423.5,257.1 423.8,256.5 424.1,255.9 424.4,255.3 424.7,254.9 425.0,254.2 425.3,253.6 425.6,252.7 425.9,251.7 426.3,250.9 426.6,250.2 426.9,249.4 427.2,248.5 427.5,247.5 427.8,246.9 428.1,246.6 428.4,246.4 428.5,246.4 428.7,246.3 429.0,246.5 429.4,246.8 429.7,247.4 430.0,248.1 430.3,248.9 430.6,249.5 430.9,249.9 431.2,250.8 431.5,251.8 431.8,252.7 432.1,253.3 432.4,253.4 432.8,253.6 433.1,254.2 433.4,254.9 433.7,255.5 434.0,256.0 434.3,255.8 434.6,255.8 434.9,255.7 435.2,255.8 435.5,256.6 435.9,257.2 436.2,258.7 436.5,258.8 436.8,258.3 437.1,257.9 437.4,257.7 437.7,258.8 438.0,259.3 438.3,258.8 438.6,258.6 439.0,258.8 439.3,259.6 439.6,259.6 439.9,259.0 440.2,258.9 440.5,259.4 440.8,260.8 441.1,261.0 441.4,260.8 441.7,260.3 442.0,259.9 442.4,260.3 442.7,260.8 443.0,260.9 443.3,260.6 443.6,260.4 443.9,259.9 444.2,260.2 444.5,260.8 444.8,261.5 445.1,261.9 445.5,262.0 445.8,262.5 446.1,262.5 446.4,262.7 446.7,262.4 447.0,262.6 447.3,262.5 447.6,261.8 447.9,261.0 448.2,260.7 448.5,260.9 448.9,261.1 449.2,261.4 449.5,261.2 449.8,260.7 450.1,260.5 450.4,260.2 450.7,259.4 451.0,258.8 451.3,258.2 451.6,258.5 452.0,259.9 452.3,260.9 452.6,261.4 452.9,260.3 453.2,258.9 453.5,258.0 453.8,257.7 454.1,258.3 454.4,258.3 454.7,258.8 455.1,259.0 455.4,259.7 455.7,260.4 456.0,260.9 456.3,261.8 456.6,262.0 456.9,261.8 457.2,261.3 457.5,261.0 457.8,261.8 458.1,262.8 458.5,264.0 458.8,264.5 459.1,264.3 459.4,264.8 459.7,265.3 460.0,265.9 460.3,266.7 460.6,266.9 460.9,267.1 461.2,267.5 461.6,268.3 461.9,269.5 462.2,269.8 462.5,270.2 462.8,270.6 463.1,271.0 463.4,271.1 463.7,271.2 464.0,271.1 464.3,270.7 464.6,270.8 465.0,271.6 465.3,272.9 465.6,273.3 465.9,273.4 466.2,273.9 466.5,274.2 466.8,274.1 467.1,274.1 467.4,274.1 467.7,274.1 468.1,274.0 468.4,273.6 468.7,274.0 469.0,274.8 469.3,275.2 469.6,275.3 469.9,275.2 470.2,275.6 470.5,276.3 470.8,276.6 471.1,276.6 471.5,276.6 471.8,276.9 472.1,277.1 472.4,276.8 472.7,276.3 473.0,276.3 473.3,276.6 473.6,276.8 473.9,276.2 474.2,276.0 474.6,276.6 474.9,277.4 475.2,277.6 475.5,277.2 475.8,276.9 476.1,277.3 476.4,277.8 476.7,277.8 477.0,277.4 477.3,276.9 477.7,277.3 478.0,277.8 478.3,278.4 478.6,278.8 478.9,279.0 479.2,279.1 479.5,278.8 479.8,278.4 480.1,277.8 480.4,277.7 480.7,277.3 481.1,277.4 481.4,277.5 481.7,278.3 482.0,279.0 482.3,278.8 482.6,278.5 482.9,278.6 483.2,278.5 483.5,278.4 483.8,277.8 484.2,277.2 484.5,277.5 484.8,277.9 485.1,278.9 485.4,279.3 485.7,278.7 486.0,278.0 486.3,277.7 486.6,277.8 486.9,277.9 487.2,277.8 487.6,277.5 487.9,277.1 488.2,276.5 488.5,276.1 488.8,275.9 489.1,275.8 489.4,275.2 489.7,274.7 490.0,274.1 490.3,273.9 490.7,273.7 491.0,273.3 491.3,272.9 491.6,272.3 491.9,271.7 492.2,271.3 492.5,271.0 492.8,271.0 493.0,271.1 493.1,271.1 493.4,271.4 493.8,271.7 494.1,272.1 494.4,272.5 494.7,273.0 495.0,273.7 495.3,274.3 495.6,274.8 495.9,275.3 496.2,275.8 496.5,276.2 496.8,276.6 497.2,276.8 497.5,277.2 497.8,277.6 498.1,278.1 498.4,278.8 498.7,279.5 499.0,280.6 499.3,281.5 499.6,281.9 499.9,281.5 500.3,281.2 500.6,280.9 500.9,281.0 501.2,281.0 501.5,281.0 501.8,281.6 502.1,281.7 502.4,282.0 502.7,282.1 503.0,282.3 503.3,282.8 503.7,282.9 504.0,282.8 504.3,282.7 504.6,282.3 504.9,282.6 505.2,283.1 505.5,283.8 505.8,283.9 506.1,283.0 506.4,282.6 506.8,282.5 507.1,283.2 507.4,284.3 507.7,284.6 508.0,284.8 508.3,284.6 508.6,284.4 508.9,284.0 509.2,283.5 509.5,283.8 509.8,284.4 510.2,284.8 510.5,284.5 510.8,284.2 511.1,284.2 511.4,284.3 511.7,284.5 512.0,284.8 512.3,284.9 512.6,285.0 512.9,285.0 513.3,285.1 513.6,285.3 513.9,285.3 514.2,285.0 514.5,284.9 514.8,284.7 515.1,284.6 515.4,285.0 515.7,285.1 516.0,285.5 516.4,285.6 516.7,285.8 517.0,285.7 517.3,284.2 517.6,283.1 517.9,283.3 518.2,284.7 518.5,285.7 518.8,285.6 519.1,285.2 519.4,285.2 519.8,285.7 520.1,286.0 520.4,285.7 520.7,284.8 521.0,284.0 521.3,284.2 521.6,284.8 521.9,285.5 522.2,285.9 522.5,285.7 522.9,285.3 523.2,284.8 523.5,284.7 523.8,284.6 524.1,284.8 524.4,285.4 524.7,285.8 525.0,285.7 525.3,285.3 525.6,285.1 525.9,284.9 526.3,284.9 526.6,284.9 526.9,285.3 527.2,285.2 527.5,284.8 527.8,284.9 528.1,285.0 528.4,285.5 528.7,285.5 529.0,285.6 529.4,285.4 529.7,284.7 529.7,284.6 530.0,284.3 530.3,284.6 530.6,285.0 530.9,285.1 531.2,285.5 531.5,285.6 531.8,285.4 532.1,285.3 532.5,284.5 532.8,284.4 533.1,284.2 533.4,284.3 533.7,284.2 534.0,284.1 534.3,284.3 534.6,284.4 534.9,284.6 535.2,284.4 535.5,284.4 535.9,284.9 536.2,285.3 536.5,285.1 536.8,284.5 537.1,284.2 537.4,284.1 537.7,283.9 538.0,283.2 538.3,282.9 538.6,282.9 539.0,283.3 539.3,283.8 539.6,283.9 539.9,283.7 540.2,283.3 540.5,282.7 540.8,282.2 541.1,282.1 541.4,281.8 541.7,281.6 542.0,281.5 542.4,281.2 542.7,281.0 543.0,280.6 543.3,280.2 543.6,279.8 543.9,279.3 544.2,278.9 544.5,278.8 544.8,278.8 545.1,278.6 545.5,278.4 545.7,278.4 545.8,278.4 546.1,278.4 546.4,278.5 546.7,278.6 547.0,278.9 547.3,279.1 547.6,279.4 547.9,279.8 548.2,280.2 548.5,280.6 548.9,280.9 549.2,280.9 549.5,280.8 549.8,280.8 550.1,281.1 550.4,281.3 550.7,281.5 551.0,281.7 551.3,282.0 551.6,282.4 552.0,282.6 552.3,282.6 552.6,282.3 552.9,282.0 553.2,281.7 553.5,281.8 553.8,282.0 554.1,282.0 554.4,281.7 554.7,281.5 555.1,281.4 555.4,281.3 555.7,281.3 556.0,281.2 556.3,281.0 556.6,280.9 556.9,280.8 557.2,280.8 557.5,280.9 557.5,281.0 557.8,281.1 558.1,281.1 558.5,281.2 558.8,281.3 559.1,281.5 559.4,281.8 559.7,282.0 560.0,282.2 560.3,282.4 560.6,282.7 560.9,283.1 561.2,283.4 561.6,283.5 561.9,283.3 562.2,282.9 562.5,283.0 562.8,283.3 563.1,283.7 563.4,284.0 563.7,283.8 564.0,283.8 564.3,284.0 564.6,284.4 565.0,285.2 565.3,285.5 565.6,285.5 565.9,285.1 566.2,284.6 566.5,284.6 566.8,284.5 567.1,284.5 567.4,284.5 567.7,284.9 568.1,285.3 568.4,285.4 568.7,285.3 569.0,285.3 569.3,285.5 569.6,285.5 569.9,285.2 570.2,285.0 570.5,285.1 570.8,285.0 571.2,285.3 571.5,285.9 571.8,286.0 572.1,285.9 572.4,285.2 572.7,284.8 573.0,284.9 573.3,285.0 573.6,285.4 573.9,285.4 574.2,285.5 574.6,285.6 574.9,286.0 575.2,286.2 575.5,286.1 575.8,285.7 576.1,285.7 576.4,285.6 576.7,285.3 577.0,285.4 577.3,285.3 577.7,285.4 578.0,285.1 578.3,285.1 578.6,285.3 578.9,285.8 579.2,285.9 579.5,285.7 579.8,285.9 580.1,285.8 580.4,286.0 580.7,286.2 581.1,286.0 581.4,285.6 581.7,285.5 582.0,285.8 582.3,286.3 582.6,285.9 582.9,285.3 583.2,285.3 583.5,285.5 583.8,285.7 584.2,285.8 584.5,286.1 584.8,286.0 585.1,285.9 585.4,286.0 585.7,285.9 586.0,285.7 586.3,285.5 586.6,285.8 586.9,286.2 587.2,286.2 587.6,286.0 587.9,285.6 588.2,285.7 588.5,285.8 588.8,285.7 589.1,285.8 589.4,285.6 589.7,285.4 590.0,284.9 590.3,284.5 590.7,284.7 591.0,285.4 591.3,286.8 591.6,287.3 591.9,286.9 592.2,286.6 592.5,285.9 592.8,286.0 593.1,286.0 593.4,286.2 593.8,286.7 594.1,286.5 594.4,285.9 594.7,285.3 595.0,285.2 595.3,285.4 595.6,285.7 595.9,286.1 596.2,286.0 596.5,285.7 596.8,285.1 597.2,284.6 597.5,284.9 597.8,285.2 598.1,285.4 598.4,285.9 598.7,286.3 599.0,286.3 599.3,286.2 599.6,286.5 599.9,287.0 600.3,286.8 600.6,286.5 600.9,286.0 601.2,285.7 601.5,285.1 601.8,284.5 602.1,284.5 602.4,285.1 602.7,285.7 603.0,286.5 603.3,286.9 603.7,286.5 604.0,286.2 604.3,286.0 604.6,285.9 604.9,286.1 605.2,286.1 605.5,286.3 605.8,286.2 606.1,286.0 606.4,286.5 606.8,286.7 607.1,286.5 607.4,285.8 607.7,285.4 608.0,285.8 608.3,285.8 608.6,285.7 608.9,285.8 609.2,285.9 609.5,285.8 609.9,285.4 610.2,285.7 610.5,286.2 610.8,286.6 611.1,286.5 611.4,286.3 611.7,285.9 612.0,285.9 612.3,286.3 612.6,286.6 612.9,286.7 613.3,285.9 613.6,285.3 613.9,285.4 614.2,285.5 614.5,285.6 614.8,285.4 615.1,285.5 615.4,285.7 615.7,285.9 616.0,286.1 616.4,286.3 616.7,286.7 617.0,286.6 617.3,286.3 617.6,286.3 617.9,286.1 618.2,286.2 618.5,286.0 618.8,285.7 619.1,285.8 619.4,285.3 619.8,285.5 620.1,285.8 620.4,286.0 620.7,286.1 621.0,286.0 621.3,286.3 621.6,286.9 621.9,286.6 622.2,286.1 622.5,286.0 622.9,285.8 623.2,285.7 623.5,285.3 623.8,285.2 624.1,285.4 624.4,285.2 624.7,285.0 625.0,285.2 625.3,286.1 625.6,286.8 625.9,287.0 626.3,286.7 626.6,286.3 626.9,286.8 627.2,287.1 627.5,286.7 627.8,285.8 628.1,285.0 628.4,285.0 628.7,284.8 629.0,284.6 629.4,284.4 629.7,285.0 630.0,286.1 630.3,286.5 630.6,286.3 630.9,285.9 631.2,285.7 631.5,285.7 631.8,285.7 632.1,285.3 632.5,285.3 632.8,285.8 633.1,285.6 633.4,285.6 633.7,285.0 634.0,285.0 634.3,285.6 634.6,285.4 634.9,285.1 635.2,284.3 635.5,284.2 635.9,284.3 636.2,284.2 636.5,284.4 636.8,284.2 637.1,284.0 637.4,283.3 637.7,282.7 638.0,282.7 638.3,282.9 638.5,283.4 638.6,283.7 639.0,284.1 639.3,284.5 639.6,284.9 639.9,284.8 640.2,284.1 640.5,283.9 640.8,284.1 641.1,284.1 641.4,283.8 641.7,283.6 642.0,284.3 642.4,285.7 642.7,286.5 643.0,286.6 643.3,286.0 643.6,285.1 643.9,284.6 644.2,284.3 644.5,284.5 644.8,285.1 645.1,285.8 645.5,286.0 645.8,285.9 646.1,286.0 646.4,286.3 646.7,286.4 647.0,286.1 647.3,286.0 647.6,285.7 647.9,285.3 648.2,284.8 648.6,284.8 648.9,285.5 649.2,285.9 649.5,286.3 649.8,286.4 650.1,286.5 650.4,286.5 650.7,286.0 651.0,286.1 651.3,286.3 651.6,286.1 652.0,286.0 652.3,285.8 652.6,285.9 652.9,286.0 653.2,286.1 653.5,286.5 653.8,286.9 654.1,286.7 654.4,286.3 654.7,286.0 655.1,285.8 655.4,285.7 655.7,285.8 656.0,286.4 656.3,286.2 656.6,286.3 656.9,286.3 657.2,286.1 657.5,286.0 657.8,285.9 658.1,286.2 658.5,286.6 658.8,286.9 659.1,286.9 659.4,286.8 659.7,286.3 660.0,286.1 660.3,285.8 660.6,286.1 660.9,286.3 661.2,286.6 661.6,286.7 661.9,286.2 662.2,286.4 662.5,286.3 662.8,286.4 663.1,286.2 663.4,285.7 663.7,286.0 664.0,286.0 664.3,286.5 664.6,286.8 665.0,286.3 665.3,286.0 665.6,285.7 665.9,285.8 666.2,286.2 666.5,286.5 666.8,286.9 667.1,286.9 667.4,286.7 667.7,286.2 668.1,285.5 668.4,285.4 668.7,285.5 669.0,285.8 669.3,286.1"/>
<polyline stroke="#7655a6" stroke-width="3.6" points="49.8,468.2 50.1,468.3 50.4,468.4 50.7,468.0 51.0,468.0 51.3,468.0 51.6,468.5 52.0,469.4 52.3,469.6 52.6,469.3 52.9,468.4 53.2,468.0 53.5,468.0 53.8,468.3 54.1,468.5 54.4,468.3 54.7,468.5 55.0,468.6 55.4,468.6 55.7,468.6 56.0,468.6 56.3,468.3 56.6,468.1 56.9,468.2 57.2,468.5 57.5,468.6 57.8,468.4 58.1,468.6 58.5,468.7 58.8,469.0 59.1,469.0 59.4,468.8 59.7,469.2 60.0,468.7 60.3,468.9 60.6,469.6 60.9,469.6 61.2,469.3 61.5,468.6 61.9,468.1 62.2,468.4 62.5,468.2 62.8,468.2 63.1,468.4 63.4,468.4 63.7,468.7 64.0,468.9 64.3,468.9 64.6,468.8 65.0,468.9 65.3,468.9 65.6,469.5 65.9,469.1 66.2,468.6 66.5,468.3 66.8,467.9 67.1,468.5 67.4,468.9 67.7,469.4 68.1,469.4 68.4,468.5 68.7,468.3 69.0,467.9 69.3,468.5 69.6,468.5 69.9,468.2 70.2,468.7 70.5,468.7 70.8,468.5 71.1,467.9 71.5,467.8 71.8,468.3 72.1,468.9 72.4,469.0 72.7,468.7 73.0,468.5 73.3,467.9 73.6,467.7 73.9,467.8 74.2,467.5 74.6,467.3 74.9,467.3 75.2,468.4 75.5,468.9 75.8,468.4 76.1,467.9 76.4,467.9 76.7,468.2 77.0,468.0 77.3,467.6 77.6,467.4 78.0,467.3 78.3,467.2 78.6,467.3 78.9,467.4 79.2,467.5 79.5,467.7 79.8,468.4 80.1,468.6 80.4,468.2 80.7,467.4 81.1,466.7 81.4,466.2 81.7,466.2 82.0,466.2 82.3,466.8 82.6,467.3 82.9,467.6 83.2,468.0 83.5,467.7 83.8,467.3 84.1,466.7 84.5,466.3 84.8,466.6 85.1,466.8 85.4,466.8 85.7,466.5 86.0,466.6 86.3,467.0 86.6,467.2 86.9,466.8 87.2,466.4 87.6,466.3 87.9,466.1 88.2,465.5 88.5,464.7 88.8,464.7 89.1,465.4 89.4,465.9 89.7,465.9 90.0,465.7 90.3,466.5 90.7,467.1 91.0,466.5 91.3,465.3 91.6,464.5 91.9,465.2 92.2,465.6 92.5,466.1 92.8,466.5 93.1,466.4 93.4,466.2 93.7,465.4 94.1,464.6 94.4,464.3 94.7,464.0 95.0,463.7 95.3,463.6 95.6,463.9 95.9,464.0 96.2,464.0 96.5,463.4 96.8,463.2 97.2,463.5 97.5,464.0 97.8,464.2 98.1,463.4 98.4,463.0 98.7,462.7 99.0,463.3 99.3,463.9 99.6,463.0 99.9,461.5 100.2,460.5 100.6,460.4 100.9,460.5 101.2,460.2 101.5,460.4 101.8,461.2 102.1,461.6 102.4,461.1 102.7,460.6 103.0,460.4 103.3,460.8 103.7,460.3 104.0,460.2 104.3,460.5 104.6,460.3 104.9,460.1 105.2,458.9 105.5,457.8 105.8,457.5 106.1,457.8 106.4,458.3 106.8,458.4 107.1,457.6 107.4,456.5 107.7,455.5 108.0,454.4 108.3,454.1 108.6,454.0 108.9,454.2 109.2,454.1 109.5,454.1 109.8,454.6 110.2,454.9 110.5,455.0 110.8,453.9 111.1,452.4 111.4,450.8 111.7,450.0 112.0,450.3 112.3,450.1 112.6,450.3 112.9,449.7 113.3,448.3 113.6,447.4 113.9,446.6 114.2,446.7 114.5,446.0 114.8,445.4 115.1,444.5 115.4,444.2 115.7,443.8 116.0,442.6 116.3,441.9 116.7,440.3 117.0,438.9 117.3,438.0 117.6,437.1 117.9,436.3 118.2,436.1 118.5,436.4 118.8,436.9 119.1,436.5 119.4,434.6 119.8,432.6 120.1,430.7 120.4,428.1 120.7,426.4 121.0,425.6 121.3,426.0 121.6,425.7 121.9,424.6 122.2,423.2 122.5,421.3 122.8,419.8 123.2,418.5 123.5,418.1 123.8,417.6 124.1,415.9 124.4,414.1 124.7,413.3 125.0,411.9 125.3,410.8 125.6,408.5 125.9,406.7 126.3,405.0 126.6,403.6 126.9,402.9 127.2,401.3 127.5,400.3 127.8,398.4 128.1,397.0 128.4,395.6 128.7,394.3 129.0,393.2 129.4,392.4 129.7,391.9 130.0,390.7 130.3,388.7 130.6,385.2 130.9,382.4 131.2,381.8 131.5,381.7 131.8,381.8 132.1,381.3 132.4,379.5 132.8,378.0 133.1,376.3 133.4,375.0 133.7,373.9 134.0,372.0 134.3,370.2 134.6,369.4 134.9,369.2 135.2,369.0 135.5,368.7 135.9,367.8 136.2,367.5 136.5,367.0 136.8,365.8 137.1,364.0 137.4,361.4 137.7,360.0 138.0,359.6 138.3,359.6 138.6,360.3 138.9,359.7 139.3,358.3 139.6,357.8 139.9,357.9 140.2,358.4 140.5,359.0 140.8,359.5 141.1,360.1 141.4,359.7 141.7,358.9 142.0,358.4 142.4,358.6 142.7,359.1 143.0,358.7 143.3,359.6 143.6,360.1 143.9,360.8 144.2,361.9 144.5,363.0 144.8,364.3 145.1,364.9 145.5,364.9 145.8,364.6 146.1,364.6 146.4,365.5 146.7,366.6 147.0,368.4 147.3,370.0 147.6,370.4 147.9,370.8 148.2,371.6 148.5,373.4 148.9,375.5 149.2,376.2 149.5,376.8 149.8,378.7 150.1,380.7 150.4,383.1 150.7,383.9 151.0,383.8 151.3,383.6 151.6,385.0 152.0,387.8 152.3,390.8 152.6,392.6 152.9,393.7 153.2,394.3 153.5,395.3 153.8,396.4 154.1,397.4 154.4,399.5 154.7,401.6 155.0,403.8 155.4,405.0 155.7,406.3 156.0,408.2 156.3,409.8 156.6,410.9 156.9,411.4 157.2,412.9 157.5,414.9 157.8,416.6 158.1,417.9 158.5,418.5 158.8,419.8 159.1,421.4 159.4,421.9 159.7,422.2 160.0,422.8 160.3,424.1 160.6,425.6 160.9,426.2 161.2,427.2 161.5,428.3 161.9,429.5 162.2,431.0 162.5,432.5 162.8,434.0 163.1,434.3 163.4,434.5 163.7,434.6 164.0,435.1 164.3,435.0 164.6,435.0 165.0,435.0 165.3,434.9 165.6,435.4 165.9,435.1 166.2,434.8 166.5,433.8 166.8,433.0 167.1,432.7 167.4,431.9 167.7,429.6 168.1,426.2 168.4,422.6 168.7,418.7 169.0,413.7 169.3,406.7 169.6,398.4 169.9,388.8 170.2,377.5 170.5,364.4 170.8,351.1 171.1,339.5 171.5,332.4 171.7,330.9 171.8,331.2 172.1,337.1 172.4,348.2 172.7,361.9 173.0,375.7 173.3,388.0 173.6,398.8 173.9,408.6 174.2,417.1 174.6,423.6 174.9,428.3 175.2,432.2 175.5,436.2 175.8,440.2 176.1,443.0 176.4,444.3 176.7,445.5 177.0,446.9 177.3,448.6 177.6,449.8 178.0,450.2 178.3,450.9 178.6,451.6 178.9,452.2 179.2,453.0 179.5,454.2 179.8,455.0 180.1,455.3 180.4,454.8 180.7,454.8 181.1,455.9 181.4,456.8 181.7,458.0 182.0,458.0 182.3,457.1 182.6,456.5 182.9,455.9 183.2,456.6 183.5,457.8 183.8,458.4 184.2,458.7 184.5,458.8 184.8,459.5 185.1,460.2 185.4,460.3 185.7,460.0 186.0,459.6 186.3,459.6 186.6,459.1 186.9,458.3 187.2,457.9 187.6,458.1 187.9,459.1 188.2,459.9 188.5,459.5 188.8,459.0 189.1,458.8 189.4,459.5 189.7,459.9 190.0,459.1 190.3,458.4 190.7,457.5 191.0,458.0 191.3,457.8 191.6,457.2 191.9,456.5 192.2,455.5 192.5,455.7 192.8,455.8 193.1,456.2 193.4,456.6 193.7,455.8 194.1,454.9 194.4,453.6 194.7,452.1 195.0,450.6 195.3,448.9 195.6,447.1 195.9,444.4 196.2,441.1 196.5,437.1 196.8,432.3 197.2,426.9 197.5,420.1 197.8,412.5 198.1,404.3 198.4,396.1 198.7,389.3 199.0,385.7 199.1,385.3 199.3,386.3 199.6,391.2 199.9,399.0 200.2,407.9 200.6,416.6 200.9,424.3 201.2,430.6 201.5,435.5 201.8,439.5 202.1,443.3 202.4,447.2 202.7,450.1 203.0,452.4 203.3,453.9 203.7,455.4 204.0,457.6 204.3,459.2 204.6,460.1 204.9,460.2 205.2,460.5 205.5,460.8 205.8,460.9 206.1,460.8 206.4,461.4 206.8,462.2 207.1,462.9 207.4,463.3 207.7,463.3 208.0,463.2 208.3,462.1 208.6,461.3 208.9,461.4 209.2,462.1 209.5,462.6 209.8,462.4 210.2,461.6 210.5,461.6 210.8,461.5 211.1,460.5 211.4,459.6 211.7,458.1 212.0,457.9 212.3,456.9 212.6,455.5 212.9,454.6 213.3,452.5 213.6,450.0 213.9,446.1 214.2,442.2 214.5,438.0 214.8,432.3 215.1,425.5 215.4,417.0 215.7,406.8 216.0,394.0 216.3,378.6 216.7,360.5 217.0,340.4 217.3,319.9 217.6,302.2 217.9,291.0 218.1,288.7 218.2,289.3 218.5,297.7 218.8,313.8 219.1,334.2 219.4,354.8 219.8,373.8 220.1,390.1 220.4,403.5 220.7,415.0 221.0,424.4 221.3,432.6 221.6,439.8 221.9,445.3 222.2,448.8 222.5,451.7 222.9,453.8 223.2,455.6 223.5,457.9 223.8,460.2 224.1,462.5 224.4,463.8 224.7,464.3 225.0,464.8 225.3,465.7 225.6,466.9 225.9,468.2 226.3,468.4 226.6,468.6 226.9,469.4 227.2,470.8 227.5,471.8 227.8,470.9 228.1,470.0 228.4,469.5 228.7,470.8 229.0,472.0 229.4,472.5 229.7,472.8 230.0,473.1 230.3,474.0 230.6,474.3 230.9,474.5 231.2,474.7 231.5,474.6 231.8,474.6 232.1,474.0 232.4,473.6 232.8,473.6 233.1,473.5 233.4,474.0 233.7,474.3 234.0,474.6 234.3,474.9 234.6,475.4 234.9,475.7 235.2,475.7 235.5,475.5 235.9,475.2 236.2,475.1 236.5,475.8 236.8,476.5 237.1,477.1 237.4,477.1 237.7,476.3 238.0,475.9 238.3,475.6 238.6,475.5 238.9,475.7 239.3,476.4 239.6,477.2 239.9,477.8 240.2,478.0 240.5,477.3 240.8,477.3 241.1,476.9 241.4,477.2 241.7,477.8 242.0,477.8 242.4,478.5 242.7,478.8 243.0,478.5 243.3,477.4 243.6,476.2 243.9,476.3 244.2,477.4 244.5,478.4 244.8,478.9 245.1,479.1 245.5,479.0 245.8,478.1 246.1,477.5 246.4,477.5 246.7,478.0 247.0,477.9 247.3,477.5 247.6,477.6 247.9,478.4 248.2,479.1 248.5,479.0 248.9,478.2 249.2,477.8 249.5,478.5 249.8,479.2 250.1,480.0 250.4,479.7 250.7,479.0 251.0,478.7 251.3,478.5 251.6,478.4 252.0,478.6 252.3,478.9 252.6,478.6 252.9,478.6 253.2,478.5 253.5,478.6 253.8,478.8 254.1,478.7 254.4,479.2 254.7,479.6 255.0,479.4 255.4,479.1 255.7,479.2 256.0,480.0 256.3,480.6 256.6,480.7 256.9,480.5 257.2,480.0 257.5,479.3 257.8,478.6 258.1,478.4 258.5,478.8 258.8,479.4 259.1,479.5 259.4,479.3 259.7,479.1 260.0,479.0 260.3,479.0 260.6,478.6 260.9,478.5 261.2,478.8 261.6,479.1 261.9,479.4 262.2,479.4 262.5,479.2 262.8,479.0 263.1,478.7 263.4,478.8 263.7,478.9 264.0,479.0 264.3,478.6 264.6,478.7 265.0,479.3 265.3,479.5 265.6,479.5 265.9,479.4 266.2,479.7 266.5,479.5 266.8,478.9 267.1,478.2 267.4,478.4 267.7,478.9 268.1,478.5 268.4,478.3 268.7,478.4 269.0,479.0 269.3,479.6 269.6,479.9 269.9,480.1 270.2,480.1 270.5,480.2 270.8,479.1 271.1,478.6 271.5,478.7 271.8,479.0 272.1,479.6 272.4,479.0 272.7,478.6 273.0,478.4 273.3,478.1 273.6,478.0 273.9,477.6 274.2,477.5 274.6,478.2 274.9,479.2 275.2,480.0 275.5,480.1 275.8,479.7 276.1,479.0 276.4,478.3 276.7,477.7 277.0,477.8 277.3,478.3 277.6,478.4 278.0,478.1 278.3,478.2 278.6,478.3 278.9,478.7 279.2,478.6 279.5,478.5 279.8,478.7 280.1,478.5 280.4,478.5 280.7,478.2 281.1,478.1 281.4,478.1 281.7,478.0 282.0,478.3 282.3,478.4 282.6,478.5 282.9,478.3 283.2,478.1 283.5,478.0 283.8,477.8 284.2,477.2 284.5,477.0 284.8,477.6 285.1,478.0 285.4,478.2 285.7,477.8 286.0,477.5 286.3,477.9 286.6,478.1 286.9,478.2 287.2,477.4 287.6,476.7 287.9,476.6 288.2,477.2 288.5,477.8 288.8,477.7 289.1,477.5 289.4,477.6 289.7,477.7 290.0,477.6 290.3,477.4 290.7,477.1 291.0,476.7 291.3,476.0 291.6,476.1 291.9,476.4 292.2,476.5 292.5,476.3 292.8,476.4 293.1,477.0 293.4,477.6 293.7,477.8 294.1,477.6 294.4,477.1 294.7,476.3 295.0,476.0 295.3,476.0 295.6,476.2 295.9,476.1 296.2,475.9 296.5,476.3 296.8,476.4 297.2,476.3 297.5,476.0 297.8,475.8 298.1,476.0 298.4,475.9 298.7,475.6 299.0,475.3 299.3,475.0 299.6,475.1 299.9,475.3 300.3,475.7 300.6,475.8 300.9,475.1 301.2,474.8 301.5,474.7 301.8,474.7 302.1,475.1 302.4,475.1 302.7,475.3 303.0,475.1 303.3,474.5 303.7,474.6 304.0,474.3 304.3,474.2 304.6,474.0 304.9,474.4 305.2,475.1 305.5,475.3 305.8,475.1 306.1,474.6 306.4,474.4 306.8,473.9 307.1,473.1 307.4,472.0 307.7,471.6 308.0,472.1 308.3,472.9 308.6,473.0 308.9,472.4 309.2,471.7 309.5,471.7 309.8,471.5 310.2,471.8 310.5,471.9 310.8,472.3 311.1,472.9 311.4,472.3 311.7,471.7 312.0,470.7 312.3,470.7 312.6,470.9 312.9,470.8 313.3,470.2 313.6,469.6 313.9,469.0 314.2,468.4 314.5,468.6 314.8,468.1 315.1,468.1 315.4,468.1 315.7,468.2 316.0,468.9 316.3,468.9 316.7,468.7 317.0,467.7 317.3,466.3 317.6,465.4 317.9,465.5 318.2,465.9 318.5,465.7 318.8,464.8 319.1,463.9 319.4,463.7 319.8,462.9 320.1,462.5 320.4,462.2 320.7,462.1 321.0,462.3 321.3,461.6 321.6,461.2 321.9,460.8 322.2,460.7 322.5,460.5 322.9,459.2 323.2,458.1 323.5,457.1 323.8,457.1 324.1,457.4 324.4,456.8 324.7,456.1 325.0,455.8 325.3,454.9 325.6,453.5 325.9,452.6 326.3,452.3 326.6,452.0 326.9,451.5 327.2,451.2 327.5,450.9 327.8,450.3 328.1,448.7 328.4,447.4 328.7,446.9 329.0,446.0 329.4,444.9 329.7,443.5 330.0,441.6 330.3,440.4 330.6,439.7 330.9,439.0 331.2,437.9 331.5,436.2 331.8,434.1 332.1,431.7 332.4,429.3 332.8,426.8 333.1,424.4 333.4,421.4 333.7,418.1 334.0,414.8 334.3,412.2 334.6,410.5 334.9,409.7 334.9,409.6 335.2,409.5 335.5,410.7 335.9,412.8 336.2,415.3 336.5,417.9 336.8,420.3 337.1,422.6 337.4,424.7 337.7,426.2 338.0,427.9 338.3,429.6 338.6,430.9 339.0,431.6 339.3,431.1 339.6,430.7 339.9,431.6 340.2,432.5 340.5,433.5 340.8,434.5 341.1,435.4 341.4,436.7 341.7,437.0 342.0,436.5 342.4,436.3 342.7,436.4 343.0,437.1 343.3,438.0 343.6,438.2 343.9,438.5 344.2,438.8 344.5,439.7 344.8,440.7 345.1,441.0 345.5,441.1 345.8,441.3 346.1,441.9 346.4,442.2 346.7,442.2 347.0,442.1 347.3,442.5 347.6,443.4 347.9,443.4 348.2,443.9 348.5,444.4 348.9,444.7 349.2,444.9 349.5,445.0 349.8,446.0 350.1,446.2 350.4,445.9 350.7,445.5 351.0,445.9 351.3,447.4 351.6,448.5 352.0,450.1 352.3,451.5 352.6,452.7 352.9,453.5 353.2,452.8 353.5,452.5 353.8,452.0 354.1,451.8 354.4,452.5 354.7,453.1 355.0,454.5 355.4,455.3 355.7,456.0 356.0,456.8 356.3,457.5 356.6,457.7 356.9,457.3 357.2,457.6 357.5,459.3 357.8,460.5 358.1,460.9 358.5,460.2 358.8,459.0 359.1,459.2 359.4,459.9 359.7,461.4 360.0,462.3 360.3,462.2 360.6,462.7 360.9,463.0 361.2,463.7 361.6,464.5 361.9,464.7 362.2,465.0 362.5,464.9 362.8,464.5 363.1,464.5 363.4,464.7 363.7,464.8 364.0,465.3 364.3,465.9 364.6,467.3 365.0,468.1 365.3,468.2 365.6,467.9 365.9,467.7 366.2,467.9 366.5,467.9 366.8,468.4 367.1,468.5 367.4,468.9 367.7,469.1 368.1,469.4 368.4,469.6 368.7,469.6 369.0,469.7 369.3,469.6 369.6,469.6 369.9,469.4 370.2,469.8 370.5,470.2 370.8,470.8 371.1,471.4 371.5,471.4 371.8,471.2 372.1,471.1 372.4,471.1 372.7,471.3 373.0,471.4 373.3,471.4 373.6,471.7 373.9,472.0 374.2,472.2 374.6,472.5 374.9,472.2 375.2,472.0 375.5,471.9 375.8,472.0 376.1,472.5 376.4,473.1 376.7,473.1 377.0,472.6 377.3,472.1 377.7,471.8 378.0,472.1 378.3,472.4 378.6,472.5 378.9,472.7 379.2,472.6 379.5,472.9 379.8,473.3 380.1,473.5 380.4,473.6 380.7,473.1 381.1,473.1 381.4,473.6 381.7,474.3 382.0,474.7 382.3,474.6 382.6,474.4 382.9,474.3 383.2,473.8 383.5,473.8 383.8,473.4 384.2,472.8 384.5,472.4 384.8,473.0 385.1,474.5 385.4,475.2 385.7,475.1 386.0,474.5 386.3,474.4 386.6,474.8 386.9,474.6 387.2,474.1 387.6,473.1 387.9,472.4 388.2,473.1 388.5,473.9 388.8,474.2 389.1,473.9 389.4,473.4 389.7,473.8 390.0,474.6 390.3,475.0 390.7,475.3 391.0,475.3 391.3,475.5 391.6,475.1 391.9,474.3 392.2,473.8 392.5,474.1 392.8,474.5 393.1,474.7 393.4,474.7 393.7,474.2 394.1,474.1 394.4,474.3 394.7,474.6 395.0,475.0 395.3,475.0 395.6,474.6 395.9,474.3 396.2,473.6 396.5,473.1 396.8,473.0 397.2,473.4 397.5,473.6 397.8,474.1 398.1,474.9 398.4,475.6 398.7,475.7 399.0,474.8 399.3,474.1 399.6,473.6 399.9,473.8 400.3,473.8 400.6,473.6 400.9,473.1 401.2,472.8 401.5,473.2 401.8,473.3 402.1,473.0 402.4,472.7 402.7,473.1 403.0,473.6 403.3,473.7 403.7,473.2 404.0,472.6 404.3,472.6 404.6,472.2 404.9,472.0 405.2,471.8 405.5,472.0 405.8,472.3 406.1,472.6 406.4,472.5 406.8,472.0 407.1,471.3 407.4,470.6 407.7,470.8 408.0,471.4 408.3,471.4 408.6,471.4 408.9,471.1 409.2,470.9 409.5,471.0 409.8,470.3 410.2,469.7 410.5,469.1 410.8,468.6 411.1,469.0 411.4,469.4 411.7,468.7 412.0,468.2 412.3,467.9 412.6,468.1 412.9,467.8 413.3,467.6 413.6,467.7 413.9,467.7 414.2,467.1 414.5,465.9 414.8,465.7 415.1,465.7 415.4,465.8 415.7,465.5 416.0,465.5 416.4,464.9 416.7,464.6 417.0,464.3 417.3,464.0 417.6,464.0 417.9,463.6 418.2,463.2 418.5,462.7 418.8,461.7 419.1,460.5 419.4,459.5 419.8,458.9 420.1,459.1 420.4,459.3 420.7,459.3 421.0,458.4 421.3,456.9 421.6,455.9 421.9,456.0 422.2,455.8 422.5,455.5 422.9,453.8 423.2,451.7 423.5,450.0 423.8,448.0 424.1,447.0 424.4,445.8 424.7,444.1 425.0,441.6 425.3,438.8 425.6,436.2 425.9,433.0 426.3,429.1 426.6,424.5 426.9,419.8 427.2,415.3 427.5,411.2 427.8,407.7 428.1,405.1 428.4,403.7 428.5,403.5 428.7,403.9 429.0,405.6 429.4,408.6 429.7,412.1 430.0,416.3 430.3,420.5 430.6,424.7 430.9,428.4 431.2,431.4 431.5,434.6 431.8,437.5 432.1,440.5 432.4,442.6 432.8,443.6 433.1,444.7 433.4,446.2 433.7,448.3 434.0,449.6 434.3,449.7 434.6,449.5 434.9,449.8 435.2,450.6 435.5,451.3 435.9,452.0 436.2,453.1 436.5,454.2 436.8,454.7 437.1,454.5 437.4,454.8 437.7,455.5 438.0,455.8 438.3,455.8 438.6,455.5 439.0,456.1 439.3,457.3 439.6,458.2 439.9,458.7 440.2,458.4 440.5,458.3 440.8,458.4 441.1,458.8 441.4,459.5 441.7,460.5 442.0,460.9 442.4,460.8 442.7,460.4 443.0,461.0 443.3,461.6 443.6,461.9 443.9,462.7 444.2,462.7 444.5,463.3 444.8,462.9 445.1,463.1 445.5,464.0 445.8,464.4 446.1,464.6 446.4,464.7 446.7,465.4 447.0,466.3 447.3,467.1 447.6,467.2 447.9,467.3 448.2,467.7 448.5,468.3 448.9,468.9 449.2,469.0 449.5,468.8 449.8,468.8 450.1,469.0 450.4,470.0 450.7,470.8 451.0,470.7 451.3,470.5 451.6,470.2 452.0,470.5 452.3,471.0 452.6,471.3 452.9,471.4 453.2,471.7 453.5,472.4 453.8,473.5 454.1,474.2 454.4,474.1 454.7,473.6 455.1,473.7 455.4,473.9 455.7,474.2 456.0,474.4 456.3,474.5 456.6,474.3 456.9,474.2 457.2,474.3 457.5,474.7 457.8,475.5 458.1,475.5 458.5,475.5 458.8,475.6 459.1,476.0 459.4,476.8 459.7,477.4 460.0,477.2 460.3,477.0 460.6,476.9 460.9,477.3 461.2,478.1 461.6,478.3 461.9,478.5 462.2,478.0 462.5,477.5 462.8,477.8 463.1,478.5 463.4,478.9 463.7,478.4 464.0,477.9 464.3,478.2 464.6,478.7 465.0,479.4 465.3,480.3 465.6,480.5 465.9,480.8 466.2,481.1 466.5,480.7 466.8,480.1 467.1,479.1 467.4,479.1 467.7,479.8 468.1,480.2 468.4,480.5 468.7,480.7 469.0,480.4 469.3,479.9 469.6,480.1 469.9,481.2 470.2,482.3 470.5,481.9 470.8,480.8 471.1,480.1 471.5,480.1 471.8,481.0 472.1,481.5 472.4,482.0 472.7,482.7 473.0,482.6 473.3,482.7 473.6,482.3 473.9,481.7 474.2,481.2 474.6,480.7 474.9,481.2 475.2,482.2 475.5,482.5 475.8,482.6 476.1,482.6 476.4,482.8 476.7,482.6 477.0,482.1 477.3,482.0 477.7,482.0 478.0,482.0 478.3,482.0 478.6,482.3 478.9,483.0 479.2,483.4 479.5,483.0 479.8,482.3 480.1,481.8 480.4,481.7 480.7,482.3 481.1,482.6 481.4,482.3 481.7,482.3 482.0,482.2 482.3,482.0 482.6,481.8 482.9,481.2 483.2,481.0 483.5,481.4 483.8,481.7 484.2,481.6 484.5,480.9 484.8,480.1 485.1,479.7 485.4,479.5 485.7,479.2 486.0,479.0 486.3,479.3 486.6,478.9 486.9,478.4 487.2,477.4 487.6,477.0 487.9,476.4 488.2,475.3 488.5,473.9 488.8,472.4 489.1,471.1 489.4,469.5 489.7,468.0 490.0,465.7 490.3,463.3 490.7,460.8 491.0,458.1 491.3,455.2 491.6,452.1 491.9,449.5 492.2,447.2 492.5,445.6 492.8,444.4 493.0,444.1 493.1,444.1 493.4,444.9 493.8,446.6 494.1,448.8 494.4,451.5 494.7,454.4 495.0,457.4 495.3,460.3 495.6,462.7 495.9,465.1 496.2,467.4 496.5,469.8 496.8,472.1 497.2,473.5 497.5,474.4 497.8,474.5 498.1,475.0 498.4,475.9 498.7,477.1 499.0,478.3 499.3,478.8 499.6,479.2 499.9,479.3 500.3,480.0 500.6,480.9 500.9,482.1 501.2,482.9 501.5,482.8 501.8,482.5 502.1,482.4 502.4,482.3 502.7,482.4 503.0,482.4 503.3,482.0 503.7,482.5 504.0,482.8 504.3,483.2 504.6,483.4 504.9,483.1 505.2,483.2 505.5,483.7 505.8,484.0 506.1,484.6 506.4,484.7 506.8,484.5 507.1,484.2 507.4,483.9 507.7,484.1 508.0,484.5 508.3,485.0 508.6,485.2 508.9,484.8 509.2,484.2 509.5,483.9 509.8,484.2 510.2,484.4 510.5,484.4 510.8,484.6 511.1,484.8 511.4,485.1 511.7,484.9 512.0,484.9 512.3,484.8 512.6,484.5 512.9,485.0 513.3,485.3 513.6,485.6 513.9,485.2 514.2,484.5 514.5,484.5 514.8,484.4 515.1,484.1 515.4,483.8 515.7,484.2 516.0,484.7 516.4,485.6 516.7,486.0 517.0,486.0 517.3,485.7 517.6,484.9 517.9,485.3 518.2,485.3 518.5,485.2 518.8,485.2 519.1,485.2 519.4,485.7 519.8,485.3 520.1,485.0 520.4,484.6 520.7,484.8 521.0,484.8 521.3,484.4 521.6,484.1 521.9,483.8 522.2,484.1 522.5,484.1 522.9,483.7 523.2,483.8 523.5,484.2 523.8,484.9 524.1,485.0 524.4,484.4 524.7,483.7 525.0,483.2 525.3,483.2 525.6,483.4 525.9,483.3 526.3,483.2 526.6,483.1 526.9,482.7 527.2,482.3 527.5,482.1 527.8,481.7 528.1,481.3 528.4,480.6 528.7,480.2 529.0,479.5 529.4,478.6 529.7,478.4 529.7,478.6 530.0,479.7 530.3,480.7 530.6,481.0 530.9,481.6 531.2,481.4 531.5,481.2 531.8,480.9 532.1,480.7 532.5,481.4 532.8,482.0 533.1,482.5 533.4,482.2 533.7,482.0 534.0,481.8 534.3,481.8 534.6,481.9 534.9,482.0 535.2,482.4 535.5,482.6 535.9,482.8 536.2,482.8 536.5,482.7 536.8,482.2 537.1,481.3 537.4,481.1 537.7,481.3 538.0,481.1 538.3,480.3 538.6,479.7 539.0,479.5 539.3,479.8 539.6,479.9 539.9,479.2 540.2,478.3 540.5,476.8 540.8,475.8 541.1,474.7 541.4,473.7 541.7,472.5 542.0,471.4 542.4,470.0 542.7,468.1 543.0,466.1 543.3,463.8 543.6,461.6 543.9,459.3 544.2,457.0 544.5,454.8 544.8,452.9 545.1,451.4 545.5,450.6 545.7,450.4 545.8,450.5 546.1,451.1 546.4,452.3 546.7,454.1 547.0,456.1 547.3,458.2 547.6,460.5 547.9,462.8 548.2,465.2 548.5,466.9 548.9,468.4 549.2,469.7 549.5,471.0 549.8,472.1 550.1,473.0 550.4,474.3 550.7,475.8 551.0,476.7 551.3,476.5 551.6,475.9 552.0,476.1 552.3,476.6 552.6,477.2 552.9,477.2 553.2,476.9 553.5,476.5 553.8,476.3 554.1,476.1 554.4,475.8 554.7,475.3 555.1,474.6 555.4,473.9 555.7,473.1 556.0,472.3 556.3,471.5 556.6,470.8 556.9,470.4 557.2,470.2 557.5,470.2 557.5,470.1 557.8,470.3 558.1,470.7 558.5,471.2 558.8,472.0 559.1,473.1 559.4,474.3 559.7,475.3 560.0,476.1 560.3,476.8 560.6,477.7 560.9,478.7 561.2,479.6 561.6,480.1 561.9,480.7 562.2,481.0 562.5,481.3 562.8,481.8 563.1,481.9 563.4,481.9 563.7,482.1 564.0,482.6 564.3,483.3 564.6,483.8 565.0,483.5 565.3,483.2 565.6,483.6 565.9,484.2 566.2,484.7 566.5,484.6 566.8,484.3 567.1,484.3 567.4,484.3 567.7,484.2 568.1,484.2 568.4,484.2 568.7,484.4 569.0,485.2 569.3,485.6 569.6,485.3 569.9,484.8 570.2,483.9 570.5,484.3 570.8,484.8 571.2,485.0 571.5,485.1 571.8,485.1 572.1,485.3 572.4,485.3 572.7,485.2 573.0,485.0 573.3,485.2 573.6,485.2 573.9,485.4 574.2,485.6 574.6,485.7 574.9,485.7 575.2,485.3 575.5,485.0 575.8,484.9 576.1,485.1 576.4,485.1 576.7,484.8 577.0,484.9 577.3,485.4 577.7,485.9 578.0,486.2 578.3,486.0 578.6,486.2 578.9,486.0 579.2,485.7 579.5,485.9 579.8,485.6 580.1,485.5 580.4,485.1 580.7,485.2 581.1,485.6 581.4,485.7 581.7,485.7 582.0,485.2 582.3,485.0 582.6,484.7 582.9,484.9 583.2,485.1 583.5,485.4 583.8,485.6 584.2,485.7 584.5,486.1 584.8,486.1 585.1,486.1 585.4,485.6 585.7,485.0 586.0,484.7 586.3,484.9 586.6,485.1 586.9,485.1 587.2,485.3 587.6,485.5 587.9,485.7 588.2,485.4 588.5,484.7 588.8,484.2 589.1,483.9 589.4,483.9 589.7,484.0 590.0,484.0 590.3,483.9 590.7,483.9 591.0,483.6 591.3,483.5 591.6,483.7 591.9,484.0 592.2,484.6 592.5,484.9 592.8,485.0 593.1,485.1 593.1,484.7 593.4,483.7 593.8,483.0 594.1,483.2 594.4,483.7 594.7,484.0 595.0,484.3 595.3,484.3 595.6,484.7 595.9,484.6 596.2,484.2 596.5,484.1 596.8,484.0 597.2,484.0 597.5,483.9 597.8,484.3 598.1,484.9 598.4,485.6 598.7,485.6 599.0,485.8 599.3,485.8 599.6,485.6 599.9,485.5 600.3,485.2 600.6,485.4 600.9,485.8 601.2,486.2 601.5,486.3 601.8,486.4 602.1,486.1 602.4,486.0 602.7,486.0 603.0,486.0 603.3,485.9 603.7,485.7 604.0,485.6 604.3,485.5 604.6,485.4 604.9,485.0 605.2,484.7 605.5,485.1 605.8,485.9 606.1,486.5 606.4,486.6 606.8,486.2 607.1,486.2 607.4,486.5 607.7,486.9 608.0,487.2 608.3,487.3 608.6,486.8 608.9,486.0 609.2,485.6 609.5,485.5 609.9,485.8 610.2,485.7 610.5,485.2 610.8,485.2 611.1,485.4 611.4,486.0 611.7,486.3 612.0,486.3 612.3,486.4 612.6,486.6 612.9,486.7 613.3,486.6 613.6,486.7 613.9,486.4 614.2,486.3 614.5,486.2 614.8,486.1 615.1,486.2 615.4,485.8 615.7,485.6 616.0,485.8 616.4,485.9 616.7,485.6 617.0,485.6 617.3,485.5 617.6,485.8 617.9,486.1 618.2,486.1 618.5,486.2 618.8,486.1 619.1,486.2 619.4,486.4 619.8,486.9 620.1,487.2 620.4,487.3 620.7,486.7 621.0,486.0 621.3,485.7 621.6,486.0 621.9,486.1 622.2,486.3 622.5,486.2 622.9,485.8 623.2,485.7 623.5,485.3 623.8,485.5 624.1,486.0 624.4,486.6 624.7,486.5 625.0,485.9 625.3,485.4 625.6,485.2 625.9,485.6 626.3,485.7 626.6,486.3 626.9,486.4 627.2,486.5 627.5,486.6 627.8,485.8 628.1,485.0 628.4,484.7 628.7,485.1 629.0,485.5 629.4,485.8 629.7,485.6 630.0,486.1 630.3,486.4 630.6,486.1 630.9,485.7 631.2,484.8 631.5,484.8 631.8,484.3 632.1,483.9 632.5,483.7 632.8,483.1 633.1,482.6 633.4,482.4 633.7,482.4 634.0,482.9 634.3,483.4 634.6,483.3 634.9,483.1 635.2,482.7 635.5,482.1 635.9,481.7 636.2,481.3 636.5,481.1 636.8,480.5 637.1,479.8 637.4,479.2 637.7,478.7 638.0,478.4 638.3,478.2 638.5,478.4 638.6,478.9 639.0,479.4 639.3,479.5 639.6,479.5 639.9,479.7 640.2,479.4 640.5,479.9 640.8,480.4 641.1,481.7 641.4,483.0 641.7,483.0 642.0,482.8 642.4,482.3 642.7,482.6 643.0,482.8 643.3,482.9 643.6,483.2 643.9,483.4 644.2,484.0 644.5,484.3 644.8,485.1 645.1,485.7 645.5,485.9 645.8,485.8 646.1,485.2 646.4,485.4 646.7,485.5 647.0,485.5 647.3,485.1 647.6,484.6 647.9,484.6 648.2,484.8 648.6,485.4 648.9,486.0 649.2,486.5 649.5,487.1 649.8,487.0 650.1,486.8 650.4,486.0 650.7,485.6 651.0,486.1 651.3,486.2 651.6,486.5 652.0,486.6 652.3,486.4 652.6,485.9 652.9,485.5 653.2,485.5 653.5,486.1 653.8,486.3 654.1,486.4 654.4,486.6 654.7,486.6 655.1,486.8 655.4,487.0 655.7,487.5 656.0,487.8 656.3,487.7 656.6,487.2 656.9,486.2 657.2,485.6 657.5,485.8 657.8,486.2 658.1,486.7 658.5,487.2 658.8,487.2 659.1,487.1 659.4,487.0 659.7,486.9 660.0,486.4 660.3,485.6 660.6,485.3 660.9,486.0 661.2,486.8 661.6,487.6 661.9,488.0 662.2,488.0 662.5,487.8 662.8,487.6 663.1,487.5 663.4,487.5 663.7,487.4 664.0,487.3 664.3,487.2 664.6,486.8 665.0,486.5 665.3,486.3 665.6,486.5 665.9,487.0 666.2,486.9 666.5,486.8 666.8,486.6 667.1,486.4 667.4,486.3 667.7,486.3 668.1,486.9 668.4,487.5 668.7,487.8 669.0,487.9 669.3,487.7"/>
<polyline stroke="#04a85a" stroke-width="3.6" points="49.8,720.9 50.1,721.1 50.4,721.2 50.7,721.3 51.0,721.6 51.3,721.2 51.6,720.2 52.0,719.7 52.3,719.5 52.6,720.1 52.9,720.7 53.2,720.5 53.5,720.5 53.8,720.5 54.1,720.9 54.4,720.9 54.7,720.5 55.0,720.5 55.4,721.0 55.7,721.7 56.0,721.4 56.3,720.7 56.6,720.4 56.9,719.9 57.2,720.2 57.5,720.1 57.8,719.9 58.1,720.8 58.5,721.0 58.8,721.2 59.1,721.0 59.4,720.5 59.7,720.3 60.0,720.2 60.3,720.9 60.6,721.9 60.9,722.4 61.2,722.0 61.5,721.3 61.9,721.3 62.2,721.0 62.5,720.7 62.8,720.5 63.1,721.1 63.4,721.7 63.7,722.0 64.0,721.6 64.3,720.9 64.6,720.6 65.0,720.0 65.3,720.5 65.6,720.4 65.9,720.6 66.2,720.5 66.5,720.4 66.8,721.0 67.1,720.5 67.4,720.3 67.7,720.0 68.1,721.0 68.4,722.4 68.7,722.8 69.0,721.9 69.3,721.0 69.6,720.9 69.9,720.6 70.2,720.9 70.5,720.8 70.8,720.8 71.1,721.2 71.5,720.9 71.8,720.5 72.1,720.6 72.4,719.9 72.7,720.0 73.0,720.4 73.3,721.2 73.6,722.2 73.9,722.2 74.2,722.2 74.6,721.3 74.9,720.9 75.2,720.5 75.5,719.9 75.8,720.2 76.1,720.1 76.4,720.6 76.7,720.2 77.0,719.5 77.3,719.7 77.6,720.5 78.0,721.0 78.3,721.4 78.6,721.3 78.9,721.8 79.2,722.3 79.5,721.4 79.8,720.8 80.1,719.8 80.4,719.9 80.7,720.0 81.1,720.7 81.4,721.5 81.7,721.2 82.0,720.2 82.3,719.0 82.6,718.2 82.9,717.7 83.2,718.6 83.5,719.6 83.8,721.0 84.1,721.2 84.5,720.2 84.8,719.4 85.1,719.0 85.4,719.4 85.7,720.3 86.0,720.7 86.3,720.5 86.6,721.0 86.9,720.2 87.2,719.9 87.6,718.7 87.9,717.8 88.2,717.9 88.5,718.2 88.8,719.4 89.1,719.9 89.4,719.8 89.7,719.5 90.0,719.1 90.3,718.4 90.7,717.5 91.0,718.5 91.3,719.0 91.6,718.9 91.9,717.5 92.2,716.6 92.5,717.8 92.8,718.9 93.1,719.9 93.4,719.4 93.7,718.9 94.1,718.0 94.4,717.7 94.7,718.2 95.0,717.9 95.3,718.1 95.6,717.0 95.9,715.7 96.2,714.8 96.5,714.0 96.8,714.0 97.2,714.4 97.5,715.8 97.8,716.7 98.1,716.6 98.4,716.1 98.7,715.4 99.0,715.5 99.3,715.6 99.6,715.5 99.9,715.2 100.2,714.6 100.6,714.4 100.9,714.3 101.2,714.3 101.5,714.0 101.8,713.7 102.1,713.7 102.4,713.6 102.7,713.3 103.0,712.5 103.3,712.1 103.7,711.4 104.0,712.5 104.3,713.6 104.6,713.3 104.9,712.9 105.2,712.2 105.5,713.0 105.8,713.2 106.1,712.9 106.4,712.3 106.8,711.8 107.1,710.7 107.4,709.5 107.7,708.1 108.0,707.3 108.3,708.1 108.6,709.1 108.9,710.2 109.2,709.6 109.5,708.2 109.8,707.3 110.2,706.5 110.5,705.4 110.8,705.3 111.1,706.6 111.4,707.6 111.7,707.9 112.0,706.3 112.3,705.0 112.6,704.1 112.9,703.6 113.3,703.8 113.6,702.9 113.9,702.6 114.2,702.4 114.5,702.7 114.8,702.5 115.1,701.1 115.4,699.9 115.7,699.8 116.0,700.2 116.3,698.9 116.7,697.7 117.0,696.3 117.3,696.4 117.6,697.0 117.9,696.4 118.2,695.4 118.5,692.9 118.8,691.3 119.1,690.8 119.4,691.4 119.8,691.8 120.1,691.0 120.4,689.9 120.7,688.2 121.0,686.5 121.3,684.5 121.6,682.9 121.9,682.2 122.2,681.7 122.5,682.0 122.8,681.5 123.2,679.0 123.5,677.2 123.8,676.0 124.1,676.3 124.4,676.0 124.7,674.2 125.0,673.7 125.3,672.0 125.6,671.0 125.9,668.6 126.3,666.3 126.6,665.2 126.9,664.7 127.2,664.0 127.5,662.1 127.8,659.8 128.1,658.3 128.4,658.5 128.7,657.7 129.0,655.7 129.4,654.0 129.7,653.5 130.0,652.1 130.3,650.2 130.6,647.9 130.9,646.8 131.2,646.9 131.5,645.4 131.8,643.0 132.1,640.9 132.4,640.4 132.8,640.5 133.1,639.3 133.4,637.1 133.7,634.8 134.0,634.6 134.3,633.7 134.6,632.6 134.9,631.4 135.2,631.8 135.5,632.9 135.9,632.9 136.2,631.5 136.5,628.5 136.8,625.4 137.1,622.9 137.4,622.6 137.7,623.4 138.0,623.6 138.3,624.4 138.6,623.3 138.9,621.7 139.3,622.0 139.6,622.7 139.9,624.0 140.2,622.6 140.5,620.9 140.8,621.7 141.1,623.3 141.4,623.2 141.7,622.1 142.0,621.4 142.4,621.9 142.7,622.1 143.0,622.2 143.3,623.8 143.6,624.5 143.9,625.8 144.2,626.9 144.5,628.4 144.8,630.0 145.1,629.8 145.5,629.1 145.8,629.5 146.1,630.0 146.4,630.8 146.7,631.8 147.0,632.0 147.3,634.2 147.6,635.3 147.9,638.0 148.2,639.0 148.5,639.8 148.9,642.0 149.2,642.2 149.5,643.5 149.8,643.4 150.1,644.2 150.4,646.8 150.7,648.4 151.0,649.0 151.3,650.4 151.6,652.2 152.0,655.0 152.3,656.7 152.6,657.3 152.9,658.7 153.2,660.0 153.5,660.6 153.8,661.6 154.1,663.8 154.4,666.2 154.7,669.2 155.0,670.5 155.4,671.0 155.7,671.8 156.0,672.1 156.3,673.4 156.6,674.0 156.9,674.4 157.2,674.6 157.5,674.8 157.8,675.1 158.1,674.9 158.5,676.9 158.8,678.8 159.1,680.4 159.4,681.9 159.7,681.7 160.0,682.9 160.3,684.9 160.6,685.4 160.9,686.4 161.2,686.6 161.5,687.5 161.9,688.8 162.2,688.2 162.5,687.2 162.8,685.9 163.1,685.9 163.4,687.6 163.7,689.8 164.0,691.1 164.3,692.1 164.6,691.1 165.0,689.6 165.3,688.0 165.6,687.4 165.9,687.7 166.2,687.5 166.5,688.1 166.8,688.9 167.1,690.2 167.4,689.2 167.7,686.0 168.1,683.0 168.4,679.7 168.7,676.8 169.0,672.9 169.3,667.6 169.6,661.0 169.9,651.4 170.2,637.6 170.5,619.0 170.8,596.8 171.1,574.2 171.5,557.8 171.7,554.2 171.8,555.1 172.1,568.0 172.4,590.1 172.7,613.6 173.0,633.9 173.3,649.6 173.6,662.2 173.9,671.8 174.2,678.6 174.6,683.8 174.9,687.2 175.2,690.5 175.5,693.8 175.8,695.7 176.1,697.1 176.4,697.8 176.7,698.7 177.0,701.1 177.3,703.3 177.6,705.1 178.0,704.5 178.3,703.6 178.6,703.8 178.9,704.8 179.2,706.5 179.5,706.3 179.8,706.6 180.1,706.9 180.4,707.3 180.7,707.4 181.1,707.2 181.4,707.7 181.7,708.5 182.0,709.2 182.3,709.3 182.6,708.9 182.9,708.9 183.2,709.1 183.5,708.9 183.8,708.7 184.2,708.3 184.5,708.6 184.8,709.5 185.1,710.0 185.4,710.8 185.7,711.0 186.0,710.8 186.3,710.8 186.6,710.9 186.9,710.7 187.2,710.6 187.6,710.9 187.9,710.8 188.2,711.6 188.5,711.9 188.8,711.7 189.1,711.9 189.4,710.9 189.7,710.3 190.0,709.7 190.3,709.8 190.7,710.8 191.0,711.3 191.3,711.5 191.6,711.3 191.9,711.5 192.2,711.5 192.5,711.5 192.8,711.0 193.1,710.5 193.4,710.6 193.7,710.9 194.1,710.2 194.4,709.6 194.7,708.4 195.0,708.2 195.3,707.8 195.6,706.3 195.9,703.7 196.2,699.6 196.5,695.4 196.8,690.5 197.2,684.5 197.5,676.0 197.8,664.8 198.1,650.6 198.4,634.3 198.7,618.7 199.0,609.4 199.1,608.7 199.3,611.2 199.6,623.3 199.9,640.1 200.2,656.0 200.6,669.3 200.9,679.8 201.2,688.4 201.5,694.9 201.8,699.5 202.1,702.5 202.4,704.8 202.7,706.5 203.0,707.6 203.3,709.0 203.7,710.0 204.0,710.9 204.3,711.0 204.6,710.6 204.9,711.1 205.2,711.6 205.5,712.3 205.8,712.8 206.1,713.2 206.4,713.8 206.8,714.7 207.1,714.5 207.4,713.8 207.7,713.6 208.0,712.9 208.3,713.3 208.6,712.7 208.9,711.7 209.2,711.3 209.5,711.1 209.8,712.2 210.2,712.3 210.5,711.9 210.8,711.2 211.1,710.4 211.4,710.6 211.7,709.9 212.0,708.7 212.3,707.0 212.6,705.7 212.9,705.2 213.3,704.4 213.6,703.0 213.9,700.0 214.2,697.0 214.5,693.9 214.8,690.8 215.1,686.4 215.4,678.9 215.7,668.7 216.0,656.1 216.3,639.4 216.7,616.9 217.0,588.3 217.3,554.6 217.6,520.2 217.9,494.7 218.1,489.2 218.2,490.6 218.5,510.4 218.8,544.1 219.1,579.4 219.4,610.5 219.8,635.1 220.1,653.3 220.4,667.2 220.7,677.8 221.0,686.4 221.3,693.1 221.6,697.3 221.9,700.2 222.2,702.5 222.5,704.7 222.9,706.9 223.2,709.4 223.5,712.0 223.8,712.9 224.1,712.8 224.4,713.4 224.7,715.2 225.0,717.3 225.3,717.4 225.6,716.8 225.9,716.7 226.3,718.1 226.6,720.0 226.9,721.2 227.2,721.5 227.5,722.0 227.8,722.0 228.1,721.9 228.4,722.0 228.7,721.6 229.0,722.0 229.4,722.3 229.7,722.3 230.0,722.5 230.3,722.6 230.6,723.6 230.9,724.9 231.2,725.2 231.5,725.1 231.8,724.1 232.1,724.1 232.4,723.9 232.8,723.9 233.1,724.5 233.4,724.4 233.7,724.8 234.0,725.1 234.3,726.0 234.6,726.6 234.9,726.1 235.2,725.8 235.5,725.2 235.9,724.9 236.2,725.8 236.5,726.0 236.8,726.1 237.1,725.2 237.4,724.8 237.7,725.7 238.0,726.9 238.3,727.3 238.6,726.9 238.9,726.8 239.3,726.5 239.6,726.8 239.9,727.6 240.2,727.9 240.5,728.5 240.8,727.9 241.1,727.0 241.4,726.6 241.7,726.2 242.0,726.9 242.4,727.8 242.7,728.5 243.0,729.0 243.3,728.5 243.6,727.8 243.9,727.2 244.2,726.9 244.5,727.3 244.8,727.8 245.1,728.2 245.5,727.9 245.8,727.4 246.1,727.4 246.4,728.0 246.7,728.3 247.0,728.3 247.3,728.3 247.6,728.5 247.9,729.0 248.2,728.6 248.5,728.3 248.9,728.2 249.2,727.7 249.5,727.9 249.8,728.4 250.1,728.7 250.4,729.1 250.7,728.8 251.0,728.9 251.3,728.4 251.6,727.5 252.0,727.7 252.3,728.5 252.6,730.1 252.9,730.9 253.2,731.1 253.5,730.5 253.8,729.0 254.1,727.2 254.4,726.3 254.7,726.7 255.0,728.1 255.4,729.1 255.7,729.6 256.0,729.2 256.3,729.0 256.6,729.1 256.9,729.4 257.2,730.1 257.5,729.5 257.8,729.3 258.1,728.7 258.5,728.8 258.8,729.3 259.1,729.4 259.4,729.5 259.7,729.0 260.0,728.8 260.3,728.0 260.6,727.9 260.9,728.2 261.2,728.8 261.6,729.1 261.9,728.8 262.2,728.7 262.5,729.2 262.8,729.4 263.1,729.5 263.4,729.3 263.7,729.1 264.0,729.2 264.3,728.6 264.6,728.0 265.0,727.7 265.3,727.6 265.6,727.8 265.9,728.6 266.2,729.4 266.5,730.4 266.8,729.8 267.1,728.7 267.4,728.1 267.7,728.1 268.1,728.9 268.4,729.2 268.7,729.5 269.0,729.4 269.3,728.4 269.6,727.6 269.9,727.0 270.2,727.4 270.5,728.3 270.8,728.9 271.1,729.1 271.5,728.9 271.8,729.4 272.1,729.7 272.4,729.8 272.7,729.5 273.0,729.3 273.3,728.7 273.6,728.7 273.9,728.6 274.2,728.7 274.6,729.1 274.9,728.9 275.2,729.0 275.5,727.7 275.8,726.7 276.1,726.3 276.4,726.6 276.7,727.1 277.0,727.4 277.3,727.6 277.6,728.2 278.0,729.1 278.3,729.0 278.6,728.9 278.9,728.8 279.2,728.7 279.5,728.9 279.8,727.8 280.1,727.4 280.4,727.7 280.7,727.7 281.1,728.0 281.4,727.6 281.7,727.8 282.0,727.8 282.3,727.6 282.6,728.1 282.9,728.2 283.2,728.2 283.5,728.2 283.8,728.5 284.2,728.5 284.5,728.5 284.8,728.0 285.1,727.9 285.4,727.3 285.7,726.4 286.0,726.2 286.3,726.5 286.6,727.5 286.9,727.9 287.2,728.0 287.6,727.7 287.9,727.6 288.2,727.4 288.5,727.0 288.8,726.8 289.1,726.6 289.4,727.6 289.7,728.1 290.0,728.6 290.3,728.7 290.7,727.5 291.0,726.8 291.3,726.5 291.6,726.2 291.9,726.0 292.2,726.6 292.5,727.3 292.8,727.9 293.1,727.3 293.4,725.8 293.7,725.7 294.1,725.9 294.4,726.0 294.7,726.7 295.0,727.5 295.3,728.2 295.6,727.9 295.9,726.7 296.2,725.3 296.5,725.0 296.8,725.2 297.2,725.4 297.5,725.3 297.8,725.1 298.1,725.4 298.4,725.3 298.7,725.6 299.0,725.8 299.3,725.5 299.6,725.4 299.9,724.6 300.3,725.1 300.6,726.2 300.9,726.5 301.2,727.2 301.5,726.4 301.8,725.7 302.1,724.8 302.4,723.8 302.7,723.3 303.0,723.3 303.3,723.7 303.7,723.9 304.0,723.6 304.3,724.1 304.6,725.1 304.9,725.2 305.2,724.3 305.5,723.5 305.8,723.8 306.1,723.8 306.4,723.5 306.8,722.8 307.1,722.5 307.4,722.9 307.7,723.2 308.0,723.3 308.3,721.9 308.6,720.9 308.9,721.4 309.2,722.0 309.5,722.7 309.8,721.7 310.2,721.1 310.5,721.3 310.8,720.4 311.1,720.3 311.4,720.7 311.7,721.1 312.0,721.0 312.3,719.7 312.6,719.0 312.9,719.4 313.3,719.8 313.6,719.5 313.9,719.5 314.2,719.4 314.5,719.4 314.8,718.7 315.1,717.5 315.4,716.5 315.7,715.9 316.0,715.8 316.3,716.3 316.7,716.6 317.0,716.5 317.3,715.2 317.6,714.4 317.9,714.3 318.2,714.7 318.5,715.2 318.8,714.4 319.1,713.9 319.4,712.6 319.8,711.5 320.1,711.6 320.4,711.3 320.7,711.5 321.0,711.0 321.3,709.8 321.6,710.0 321.9,709.6 322.2,709.6 322.5,710.1 322.9,708.9 323.2,707.8 323.5,706.8 323.8,706.0 324.1,706.7 324.4,706.6 324.7,706.1 325.0,705.6 325.3,704.3 325.6,702.5 325.9,700.5 326.3,699.5 326.6,699.4 326.9,700.4 327.2,700.4 327.5,698.7 327.8,696.6 328.1,695.6 328.4,696.4 328.7,697.3 329.0,696.5 329.4,695.2 329.7,693.8 330.0,692.4 330.3,691.2 330.6,690.1 330.9,689.3 331.2,687.5 331.5,685.6 331.8,683.5 332.1,681.9 332.4,679.9 332.8,677.3 333.1,673.6 333.4,668.9 333.7,663.4 334.0,657.7 334.3,652.2 334.6,647.9 334.9,646.1 334.9,646.2 335.2,647.4 335.5,651.0 335.9,655.8 336.2,660.4 336.5,664.5 336.8,668.1 337.1,671.4 337.4,674.1 337.7,676.2 338.0,678.4 338.3,680.7 338.6,682.4 339.0,682.1 339.3,681.7 339.6,682.7 339.9,684.5 340.2,685.9 340.5,686.1 340.8,685.5 341.1,684.9 341.4,685.0 341.7,685.3 342.0,685.7 342.4,685.8 342.7,686.3 343.0,686.8 343.3,687.5 343.6,687.9 343.9,688.6 344.2,689.5 344.5,689.8 344.8,690.5 345.1,690.7 345.5,690.6 345.8,689.6 346.1,689.6 346.4,690.5 346.7,691.3 347.0,691.1 347.3,690.6 347.6,690.8 347.9,691.6 348.2,692.7 348.5,693.5 348.9,695.2 349.2,695.8 349.5,695.9 349.8,695.5 350.1,695.1 350.4,696.0 350.7,697.1 351.0,698.2 351.3,698.9 351.6,699.4 352.0,699.7 352.3,700.0 352.6,700.1 352.9,700.3 353.2,700.2 353.5,700.8 353.8,701.6 354.1,702.9 354.4,704.2 354.7,703.9 355.0,703.5 355.4,703.4 355.7,703.6 356.0,704.9 356.3,705.4 356.6,706.5 356.9,707.7 357.2,708.3 357.5,708.4 357.8,707.7 358.1,707.6 358.5,708.6 358.8,710.8 359.1,712.7 359.4,712.5 359.7,711.2 360.0,709.9 360.3,710.0 360.6,711.2 360.9,711.1 361.2,711.2 361.6,711.6 361.9,712.7 362.2,713.7 362.5,714.2 362.8,714.0 363.1,714.4 363.4,714.9 363.7,715.7 364.0,715.7 364.3,715.4 364.6,715.4 365.0,715.1 365.3,715.2 365.6,715.2 365.9,716.1 366.2,716.9 366.5,717.2 366.8,716.9 367.1,716.6 367.4,717.5 367.7,718.5 368.1,719.7 368.4,719.7 368.7,719.0 369.0,718.6 369.3,718.6 369.6,719.2 369.9,719.9 370.2,720.3 370.5,719.9 370.8,719.2 371.1,718.3 371.5,718.7 371.8,719.3 372.1,719.9 372.4,720.4 372.7,721.0 373.0,721.3 373.3,720.9 373.6,720.0 373.9,719.7 374.2,720.3 374.6,720.9 374.9,721.0 375.2,720.6 375.5,720.0 375.8,720.1 376.1,720.7 376.4,721.0 376.7,721.4 377.0,721.7 377.3,722.1 377.7,722.2 378.0,722.1 378.3,721.9 378.6,721.8 378.9,721.3 379.2,721.4 379.5,722.0 379.8,722.2 380.1,721.9 380.4,721.8 380.7,722.2 381.1,722.5 381.4,722.0 381.7,721.6 382.0,722.4 382.3,723.3 382.6,723.3 382.9,722.4 383.2,722.0 383.5,721.8 383.8,721.7 384.2,721.6 384.5,721.5 384.8,722.9 385.1,723.6 385.4,723.8 385.7,724.0 386.0,723.5 386.3,722.8 386.6,722.3 386.9,721.8 387.2,722.0 387.6,722.8 387.9,722.8 388.2,723.0 388.5,722.9 388.8,722.8 389.1,723.8 389.4,724.0 389.7,723.7 390.0,723.5 390.3,723.2 390.7,723.3 391.0,722.8 391.3,722.7 391.6,722.7 391.9,723.4 392.2,724.4 392.5,724.8 392.8,725.0 393.1,724.4 393.4,723.8 393.7,723.8 394.1,723.0 394.4,722.0 394.7,721.4 395.0,721.3 395.3,722.4 395.6,723.4 395.9,724.2 396.2,724.6 396.5,724.4 396.8,724.3 397.2,723.9 397.5,723.4 397.8,722.8 398.1,722.2 398.4,722.1 398.7,722.3 399.0,722.4 399.3,722.4 399.6,722.2 399.9,722.7 400.3,723.9 400.6,724.3 400.9,724.4 401.2,723.8 401.5,723.1 401.8,722.8 402.1,722.1 402.4,721.8 402.7,721.5 403.0,721.3 403.3,721.2 403.7,721.0 404.0,721.4 404.3,722.3 404.6,723.2 404.9,723.1 405.2,722.7 405.5,722.1 405.8,722.4 406.1,721.6 406.4,720.8 406.8,720.2 407.1,720.1 407.4,721.1 407.7,721.4 408.0,721.5 408.3,721.0 408.6,720.3 408.9,720.2 409.2,720.1 409.5,719.7 409.8,719.0 410.2,718.7 410.5,718.9 410.8,718.7 411.1,718.1 411.4,717.5 411.7,717.3 412.0,717.6 412.3,718.2 412.6,719.5 412.9,720.4 413.3,720.4 413.6,718.8 413.9,716.8 414.2,715.9 414.5,715.7 414.8,715.7 415.1,715.7 415.4,715.7 415.7,716.0 416.0,716.3 416.4,715.5 416.7,715.3 417.0,715.1 417.3,714.7 417.6,714.5 417.9,713.6 418.2,712.9 418.5,712.3 418.8,712.1 419.1,712.1 419.4,712.0 419.8,711.3 420.1,710.0 420.4,709.5 420.7,709.3 421.0,709.3 421.3,709.0 421.6,708.4 421.9,708.4 422.2,708.4 422.5,707.2 422.9,705.9 423.2,704.9 423.5,704.4 423.8,703.5 424.1,702.2 424.4,700.1 424.7,698.1 425.0,695.2 425.3,692.1 425.6,689.4 425.9,686.1 426.3,681.9 426.6,676.2 426.9,669.8 427.2,662.5 427.5,654.8 427.8,647.4 428.1,641.3 428.4,638.1 428.5,637.8 428.7,638.5 429.0,642.4 429.4,648.8 429.7,656.8 430.0,664.8 430.3,671.6 430.6,676.8 430.9,680.8 431.2,684.8 431.5,688.8 431.8,692.3 432.1,695.2 432.4,695.8 432.8,695.9 433.1,696.2 433.4,697.8 433.7,699.9 434.0,700.9 434.3,701.8 434.6,702.2 434.9,703.3 435.2,703.6 435.5,703.4 435.9,703.5 436.2,703.7 436.5,704.4 436.8,704.3 437.1,704.5 437.4,705.3 437.7,705.9 438.0,706.1 438.3,705.7 438.6,705.9 439.0,706.7 439.3,707.0 439.6,706.6 439.9,706.3 440.2,707.8 440.5,709.6 440.8,710.0 441.1,709.9 441.4,709.2 441.7,709.3 442.0,710.2 442.4,711.1 442.7,712.1 443.0,712.0 443.3,710.2 443.6,709.4 443.9,709.6 444.2,711.3 444.5,713.6 444.8,714.1 445.1,713.8 445.5,713.1 445.8,713.3 446.1,714.9 446.4,715.6 446.7,715.0 447.0,714.4 447.3,714.4 447.6,715.6 447.9,717.3 448.2,718.0 448.5,718.8 448.9,719.1 449.2,719.2 449.5,720.0 449.8,720.2 450.1,720.0 450.4,719.2 450.7,719.0 451.0,719.2 451.3,719.6 451.6,719.8 452.0,720.1 452.3,721.2 452.6,722.5 452.9,722.4 453.2,722.5 453.5,722.1 453.8,722.4 454.1,723.7 454.4,724.2 454.7,724.6 455.1,724.1 455.4,723.6 455.7,724.0 456.0,724.8 456.3,725.2 456.6,725.8 456.9,726.0 457.2,726.5 457.5,726.9 457.8,727.0 458.1,727.7 458.5,727.4 458.8,726.9 459.1,726.1 459.4,726.2 459.7,726.5 460.0,726.2 460.3,727.0 460.6,728.1 460.9,729.3 461.2,729.5 461.6,728.7 461.9,728.8 462.2,728.8 462.5,728.8 462.8,728.6 463.1,728.8 463.4,729.0 463.7,729.4 464.0,729.5 464.3,729.3 464.6,729.7 465.0,729.7 465.3,729.0 465.6,728.9 465.9,729.1 466.2,729.9 466.5,730.9 466.8,730.9 467.1,731.3 467.4,731.3 467.7,731.7 468.1,731.7 468.4,731.3 468.7,731.0 469.0,730.2 469.3,730.2 469.6,730.2 469.9,730.2 470.2,730.6 470.5,731.2 470.8,731.5 471.1,731.7 471.5,731.0 471.8,730.7 472.1,731.1 472.4,731.4 472.7,731.6 473.0,731.7 473.3,732.1 473.6,732.2 473.9,732.0 474.2,731.5 474.6,731.0 474.9,731.1 475.2,731.5 475.5,732.2 475.8,732.4 476.1,732.4 476.4,732.7 476.7,732.7 477.0,732.5 477.3,732.1 477.7,732.0 478.0,732.6 478.3,733.2 478.6,733.3 478.9,733.2 479.2,732.6 479.5,732.6 479.8,733.1 480.1,733.0 480.4,732.1 480.7,731.0 481.1,730.7 481.4,730.9 481.7,731.4 482.0,731.8 482.3,732.3 482.6,732.9 482.9,732.4 483.2,732.5 483.5,732.8 483.8,732.9 484.2,732.3 484.5,730.8 484.8,730.2 485.1,730.2 485.4,730.5 485.7,731.1 486.0,731.2 486.3,730.9 486.6,730.2 486.9,729.6 487.2,729.0 487.6,727.8 487.9,726.6 488.2,725.8 488.5,725.4 488.8,724.8 489.1,723.8 489.4,722.4 489.7,720.7 490.0,718.3 490.3,715.5 490.7,712.4 491.0,708.8 491.3,704.8 491.6,700.1 491.9,694.8 492.2,689.5 492.5,685.2 492.8,682.5 493.0,682.0 493.1,682.0 493.4,684.0 493.8,687.8 494.1,692.4 494.4,697.2 494.7,702.2 495.0,707.1 495.3,711.5 495.6,714.8 495.9,717.3 496.2,719.8 496.5,722.4 496.8,725.1 497.2,726.7 497.5,727.6 497.8,727.9 498.1,728.2 498.4,728.7 498.7,729.1 499.0,729.6 499.3,730.0 499.6,730.3 499.9,731.2 500.3,731.9 500.6,732.3 500.9,732.3 501.2,732.0 501.5,732.2 501.8,731.9 502.1,731.8 502.4,732.0 502.7,731.8 503.0,732.1 503.3,732.7 503.7,733.5 504.0,734.7 504.3,734.3 504.6,733.4 504.9,732.9 505.2,733.0 505.5,733.9 505.8,734.3 506.1,733.7 506.4,733.7 506.8,734.1 507.1,734.5 507.4,734.6 507.7,733.8 508.0,733.8 508.3,733.5 508.6,733.7 508.9,734.1 509.2,734.0 509.5,734.6 509.8,735.1 510.2,735.2 510.5,735.2 510.8,735.0 511.1,735.4 511.4,735.6 511.7,735.7 512.0,735.2 512.3,734.3 512.6,734.1 512.9,733.6 513.3,734.5 513.6,734.6 513.9,734.2 514.2,734.4 514.5,734.0 514.8,734.6 515.1,734.2 515.4,734.2 515.7,734.6 516.0,734.7 516.4,735.3 516.7,735.6 517.0,735.4 517.3,734.7 517.6,734.1 517.9,733.5 518.2,734.0 518.5,734.5 518.8,735.4 519.1,736.2 519.4,735.8 519.8,735.0 520.1,734.3 520.4,733.5 520.7,733.1 521.0,733.6 521.3,734.2 521.6,735.4 521.9,735.2 522.2,734.7 522.5,734.4 522.9,733.9 523.2,734.1 523.5,734.3 523.8,734.4 524.1,734.4 524.4,734.4 524.7,734.5 525.0,733.9 525.3,732.7 525.6,731.9 525.9,731.8 526.3,732.6 526.6,733.9 526.9,734.6 527.2,734.0 527.5,732.1 527.8,729.6 528.1,728.2 528.4,727.9 528.7,728.0 529.0,727.7 529.4,727.1 529.7,726.7 529.7,727.0 530.0,727.2 530.3,727.7 530.6,728.5 530.9,729.2 531.2,729.7 531.5,729.7 531.8,730.4 532.1,731.2 532.5,732.0 532.8,732.1 533.1,732.1 533.4,732.1 533.7,731.6 534.0,731.3 534.3,731.2 534.6,732.0 534.9,732.9 535.2,733.8 535.5,734.1 535.9,734.0 536.2,733.4 536.5,732.8 536.8,732.7 537.1,732.0 537.4,731.4 537.7,731.0 538.0,731.2 538.3,732.4 538.6,732.9 539.0,733.1 539.3,732.6 539.6,731.3 539.9,730.6 540.2,729.9 540.5,729.5 540.8,728.8 541.1,727.9 541.4,726.9 541.7,725.6 542.0,724.0 542.4,722.2 542.7,720.6 543.0,718.5 543.3,715.7 543.6,712.4 543.9,709.0 544.2,705.7 544.5,702.1 544.8,698.2 545.1,694.9 545.5,692.8 545.7,692.6 545.8,692.9 546.1,694.4 546.4,697.1 546.7,700.7 547.0,704.6 547.3,708.3 547.6,711.8 547.9,714.6 548.2,717.1 548.5,719.3 548.9,721.3 549.2,723.7 549.5,725.8 549.8,726.8 550.1,727.5 550.4,727.6 550.7,727.4 551.0,727.6 551.3,727.7 551.6,728.2 552.0,729.1 552.3,729.5 552.6,729.5 552.9,729.1 553.2,728.6 553.5,728.1 553.8,727.8 554.1,727.4 554.4,727.1 554.7,726.9 555.1,726.1 555.4,724.8 555.7,723.3 556.0,721.5 556.3,719.6 556.6,717.9 556.9,716.4 557.2,715.6 557.5,715.3 557.5,715.3 557.8,715.7 558.1,716.7 558.5,718.3 558.8,720.1 559.1,721.9 559.4,723.8 559.7,725.4 560.0,726.4 560.3,727.2 560.6,728.1 560.9,729.2 561.2,730.4 561.6,730.4 561.9,730.9 562.2,731.3 562.5,731.9 562.8,732.6 563.1,733.5 563.4,734.2 563.7,734.1 564.0,733.5 564.3,732.9 564.6,733.2 565.0,733.5 565.3,733.9 565.6,734.0 565.9,734.0 566.2,734.1 566.5,734.8 566.8,735.1 567.1,735.1 567.4,734.5 567.7,734.0 568.1,734.6 568.4,735.0 568.7,734.9 569.0,734.6 569.3,735.0 569.6,735.0 569.9,734.7 570.2,734.0 570.5,734.0 570.8,734.6 571.2,735.0 571.5,735.1 571.8,735.0 572.1,735.0 572.4,734.9 572.7,735.3 573.0,735.5 573.3,735.7 573.6,735.8 573.9,735.6 574.2,735.5 574.6,735.2 574.9,735.1 575.2,734.8 575.5,735.1 575.8,735.0 576.1,735.2 576.4,735.1 576.7,735.0 577.0,735.3 577.3,735.5 577.7,736.6 578.0,737.5 578.3,737.6 578.6,736.7 578.9,735.3 579.2,734.6 579.5,734.5 579.8,734.6 580.1,734.5 580.4,734.9 580.7,735.4 581.1,735.2 581.4,735.0 581.7,734.6 582.0,734.6 582.3,735.3 582.6,735.9 582.9,735.9 583.2,735.4 583.5,734.7 583.8,734.8 584.2,735.5 584.5,735.9 584.8,735.5 585.1,735.2 585.4,735.1 585.7,735.0 586.0,734.9 586.3,734.6 586.6,734.6 586.9,735.0 587.2,734.3 587.6,734.1 587.9,734.1 588.2,734.1 588.5,734.4 588.8,734.1 589.1,734.0 589.4,733.8 589.7,734.0 590.0,734.4 590.3,734.5 590.7,733.7 591.0,732.5 591.3,731.7 591.6,732.0 591.9,732.8 592.2,733.3 592.5,733.8 592.8,734.0 593.1,734.4 593.1,734.4 593.4,733.3 593.8,732.9 594.1,733.2 594.4,733.2 594.7,733.1 595.0,732.9 595.3,733.7 595.6,734.2 595.9,734.0 596.2,733.7 596.5,733.5 596.8,733.7 597.2,734.3 597.5,734.5 597.8,734.5 598.1,734.1 598.4,733.7 598.7,734.4 599.0,735.1 599.3,735.8 599.6,736.1 599.9,735.9 600.3,735.2 600.6,734.6 600.9,734.6 601.2,735.0 601.5,735.3 601.8,735.2 602.1,735.0 602.4,734.8 602.7,734.7 603.0,734.8 603.3,735.8 603.7,736.6 604.0,736.3 604.3,735.6 604.6,735.1 604.9,735.6 605.2,736.1 605.5,735.3 605.8,734.9 606.1,734.7 606.4,735.6 606.8,735.9 607.1,736.1 607.4,735.8 607.7,735.8 608.0,736.2 608.3,736.2 608.6,736.5 608.9,736.4 609.2,736.5 609.5,736.4 609.9,735.9 610.2,735.3 610.5,734.6 610.8,734.4 611.1,734.8 611.4,735.1 611.7,735.8 612.0,736.3 612.3,736.6 612.6,736.9 612.9,737.1 613.3,736.9 613.6,736.3 613.9,735.8 614.2,735.3 614.5,735.3 614.8,734.9 615.1,734.5 615.4,735.1 615.7,735.8 616.0,735.9 616.4,735.7 616.7,735.2 617.0,735.0 617.3,734.8 617.6,734.4 617.9,734.8 618.2,735.2 618.5,735.6 618.8,735.6 619.1,736.2 619.4,736.7 619.8,737.0 620.1,737.1 620.4,736.1 620.7,735.6 621.0,735.9 621.3,736.7 621.6,737.3 621.9,736.2 622.2,735.2 622.5,734.8 622.9,734.9 623.2,735.3 623.5,735.7 623.8,735.8 624.1,735.7 624.4,735.6 624.7,735.5 625.0,735.4 625.3,735.1 625.6,735.6 625.9,736.0 626.3,736.2 626.6,735.7 626.9,735.0 627.2,734.8 627.5,734.6 627.8,734.9 628.1,734.7 628.4,734.4 628.7,734.1 629.0,734.3 629.4,734.7 629.7,735.2 630.0,735.5 630.3,735.3 630.6,734.6 630.9,733.6 631.2,733.5 631.5,734.0 631.8,734.7 632.1,735.0 632.5,734.3 632.8,733.7 633.1,732.9 633.4,733.0 633.7,733.3 634.0,733.5 634.3,733.1 634.6,732.5 634.9,732.1 635.2,731.1 635.5,730.8 635.9,730.1 636.2,729.6 636.5,729.4 636.8,729.2 637.1,729.1 637.4,728.8 637.7,728.7 638.0,728.6 638.3,727.6 638.5,727.1 638.6,726.9 639.0,727.6 639.3,728.5 639.6,728.6 639.9,728.9 640.2,729.5 640.5,730.2 640.8,730.9 641.1,730.8 641.4,730.3 641.7,730.6 642.0,731.5 642.4,732.1 642.7,732.4 643.0,731.8 643.3,731.8 643.6,732.6 643.9,733.0 644.2,733.9 644.5,734.2 644.8,734.4 645.1,734.4 645.5,734.0 645.8,734.3 646.1,734.9 646.4,735.2 646.7,734.8 647.0,734.2 647.3,734.3 647.6,734.6 647.9,734.7 648.2,734.6 648.6,734.7 648.9,735.4 649.2,736.2 649.5,735.9 649.8,735.7 650.1,735.7 650.4,735.7 650.7,736.3 651.0,735.6 651.3,734.7 651.6,735.0 652.0,735.2 652.3,736.0 652.6,736.0 652.9,735.4 653.2,735.3 653.5,735.6 653.8,735.6 654.1,735.6 654.4,735.3 654.7,734.9 655.1,735.5 655.4,735.5 655.7,735.8 656.0,736.0 656.3,736.0 656.6,736.5 656.9,736.8 657.2,736.9 657.5,736.7 657.8,736.2 658.1,735.7 658.5,735.9 658.8,736.0 659.1,736.1 659.4,736.3 659.7,736.1 660.0,735.7 660.3,735.4 660.6,735.6 660.9,736.1 661.2,736.4 661.6,736.2 661.9,736.3 662.2,736.4 662.5,736.1 662.8,736.0 663.1,736.2 663.4,736.3 663.7,735.7 664.0,735.3 664.3,735.7 664.6,736.6 665.0,737.0 665.3,736.7 665.6,736.7 665.9,736.5 666.2,736.1 666.5,736.0 666.8,736.3 667.1,736.6 667.4,736.2 667.7,735.7 668.1,735.8 668.4,736.5 668.7,737.0 669.0,737.0 669.3,736.9"/>
<polyline stroke="#0a56a6" stroke-width="3.6" points="49.8,860.4 50.1,859.5 50.4,859.8 50.7,860.0 51.0,860.9 51.3,861.2 51.6,860.8 52.0,861.3 52.3,861.8 52.6,862.1 52.9,863.0 53.2,862.6 53.5,861.7 53.8,861.2 54.1,860.3 54.4,860.6 54.7,860.9 55.0,860.7 55.4,861.1 55.7,861.3 56.0,861.7 56.3,861.6 56.6,861.0 56.9,860.3 57.2,859.7 57.5,859.9 57.8,860.5 58.1,861.8 58.5,862.2 58.8,862.3 59.1,861.8 59.4,861.4 59.7,861.5 60.0,861.7 60.3,862.7 60.6,862.2 60.9,861.5 61.2,861.5 61.5,862.0 61.9,862.9 62.2,862.2 62.5,861.6 62.8,861.7 63.1,862.2 63.4,862.0 63.7,861.0 64.0,859.9 64.3,859.8 64.6,860.7 65.0,861.3 65.3,861.8 65.6,861.5 65.9,861.5 66.2,861.0 66.5,861.0 66.8,860.9 67.1,860.8 67.4,861.3 67.7,860.9 68.1,860.6 68.4,859.9 68.7,858.7 69.0,858.9 69.3,860.5 69.6,861.9 69.9,862.0 70.2,860.9 70.5,860.3 70.8,861.7 71.1,862.5 71.5,862.3 71.8,861.6 72.1,861.1 72.4,861.0 72.7,860.8 73.0,860.0 73.3,859.6 73.6,859.2 73.9,859.6 74.2,860.9 74.6,860.8 74.9,859.6 75.2,857.8 75.5,857.5 75.8,859.1 76.1,860.2 76.4,860.8 76.7,860.1 77.0,859.1 77.3,858.7 77.6,858.0 78.0,857.9 78.3,857.9 78.6,858.3 78.9,859.3 79.2,858.8 79.5,858.4 79.8,859.0 80.1,860.4 80.4,861.3 80.7,859.8 81.1,858.5 81.4,857.9 81.7,858.4 82.0,857.8 82.3,856.8 82.6,856.5 82.9,856.3 83.2,856.6 83.5,857.1 83.8,858.0 84.1,858.4 84.5,858.7 84.8,858.0 85.1,857.5 85.4,856.8 85.7,855.6 86.0,856.0 86.3,856.6 86.6,857.1 86.9,857.0 87.2,856.8 87.6,856.5 87.9,856.4 88.2,856.0 88.5,856.0 88.8,856.7 89.1,856.9 89.4,857.0 89.7,856.1 90.0,855.5 90.3,855.4 90.7,855.9 91.0,855.7 91.3,855.1 91.6,854.8 91.9,854.4 92.2,854.3 92.5,854.1 92.8,854.1 93.1,855.5 93.4,856.5 93.7,856.4 94.1,856.0 94.4,854.8 94.7,854.2 95.0,853.8 95.3,853.0 95.6,852.4 95.9,852.4 96.2,852.5 96.5,852.2 96.8,851.5 97.2,851.9 97.5,853.5 97.8,854.5 98.1,854.1 98.4,853.0 98.7,851.5 99.0,850.9 99.3,850.9 99.6,851.7 99.9,853.0 100.2,852.4 100.6,851.5 100.9,849.9 101.2,849.5 101.5,849.4 101.8,849.4 102.1,850.0 102.4,849.5 102.7,849.5 103.0,847.8 103.3,846.1 103.7,845.9 104.0,846.3 104.3,848.6 104.6,849.0 104.9,848.0 105.2,847.1 105.5,845.9 105.8,845.8 106.1,845.1 106.4,844.2 106.8,844.2 107.1,844.2 107.4,844.1 107.7,844.0 108.0,842.8 108.3,842.2 108.6,842.3 108.9,841.8 109.2,841.2 109.5,839.5 109.8,838.7 110.2,839.8 110.5,840.7 110.8,839.7 111.1,837.8 111.4,835.6 111.7,835.9 112.0,837.1 112.3,837.8 112.6,836.9 112.9,834.0 113.3,831.9 113.6,831.2 113.9,831.8 114.2,832.0 114.5,832.3 114.8,831.6 115.1,831.4 115.4,831.3 115.7,830.2 116.0,829.1 116.3,828.4 116.7,828.6 117.0,828.0 117.3,826.4 117.6,824.3 117.9,824.0 118.2,823.9 118.5,823.6 118.8,822.9 119.1,821.7 119.4,821.3 119.8,820.8 120.1,819.6 120.4,818.3 120.7,816.8 121.0,816.7 121.3,817.5 121.6,816.2 121.9,815.1 122.2,813.8 122.5,813.2 122.8,812.8 123.2,811.6 123.5,811.6 123.8,811.2 124.1,811.2 124.4,808.5 124.7,805.1 125.0,802.8 125.3,801.8 125.6,802.4 125.9,802.7 126.3,802.0 126.6,801.9 126.9,802.6 127.2,802.0 127.5,801.0 127.8,799.5 128.1,798.1 128.4,797.2 128.7,795.8 129.0,795.0 129.4,794.8 129.7,793.5 130.0,791.8 130.3,790.4 130.6,790.1 130.9,789.5 131.2,788.1 131.5,786.4 131.8,785.7 132.1,785.6 132.4,784.5 132.8,783.3 133.1,781.6 133.4,781.7 133.7,781.7 134.0,780.8 134.3,780.1 134.6,779.2 134.9,778.6 135.2,777.2 135.5,776.1 135.9,775.7 136.2,774.6 136.5,773.5 136.8,772.5 137.1,772.8 137.4,774.7 137.7,775.5 138.0,775.4 138.3,774.2 138.6,772.8 138.9,771.8 139.3,771.4 139.6,770.1 139.9,768.9 140.2,769.5 140.5,770.2 140.8,770.3 141.1,768.9 141.4,767.8 141.7,769.3 142.0,769.6 142.4,769.1 142.7,769.5 143.0,770.5 143.3,771.5 143.6,771.8 143.9,771.7 144.2,772.0 144.5,772.3 144.8,771.6 145.1,772.4 145.5,774.0 145.8,775.2 146.1,776.3 146.4,776.3 146.7,776.1 147.0,776.4 147.3,776.6 147.6,777.4 147.9,778.3 148.2,780.0 148.5,780.8 148.9,781.0 149.2,781.8 149.5,782.5 149.8,784.3 150.1,785.2 150.4,786.1 150.7,787.6 151.0,788.4 151.3,788.9 151.6,789.2 152.0,789.8 152.3,790.8 152.6,791.2 152.9,792.2 153.2,793.7 153.5,795.9 153.8,798.0 154.1,799.5 154.4,800.8 154.7,801.9 155.0,803.3 155.4,804.3 155.7,804.7 156.0,805.4 156.3,806.1 156.6,806.6 156.9,807.0 157.2,806.8 157.5,808.1 157.8,810.1 158.1,810.5 158.5,810.5 158.8,811.5 159.1,813.5 159.4,815.7 159.7,816.4 160.0,816.4 160.3,817.7 160.6,818.9 160.9,819.7 161.2,819.8 161.5,820.6 161.9,822.0 162.2,822.9 162.5,823.7 162.8,823.3 163.1,822.1 163.4,821.3 163.7,821.4 164.0,823.4 164.3,824.4 164.6,824.2 165.0,824.1 165.3,824.9 165.6,826.6 165.9,827.1 166.2,826.4 166.5,825.3 166.8,824.5 167.1,824.2 167.4,823.8 167.7,823.0 168.1,821.5 168.4,818.7 168.7,815.6 169.0,812.5 169.3,809.1 169.6,803.6 169.9,796.6 170.2,788.7 170.5,780.1 170.8,771.3 171.1,763.3 171.5,758.2 171.7,757.3 171.8,757.7 172.1,762.3 172.4,770.4 172.7,780.3 173.0,790.2 173.3,799.0 173.6,807.1 173.9,812.9 174.2,818.5 174.6,823.9 174.9,828.1 175.2,831.1 175.5,832.0 175.8,832.8 176.1,835.4 176.4,837.5 176.7,839.3 177.0,839.8 177.3,839.9 177.6,841.4 178.0,842.4 178.3,844.1 178.6,844.9 178.9,845.6 179.2,846.0 179.5,845.5 179.8,845.3 180.1,845.5 180.4,846.7 180.7,847.4 181.1,847.1 181.4,846.5 181.7,846.1 182.0,846.4 182.3,846.8 182.6,847.2 182.9,847.9 183.2,847.9 183.5,847.9 183.8,847.4 184.2,847.7 184.5,848.1 184.8,847.6 185.1,846.8 185.4,846.2 185.7,846.7 186.0,847.1 186.3,847.6 186.6,846.8 186.9,846.5 187.2,847.0 187.6,847.0 187.9,848.1 188.2,848.8 188.5,850.0 188.8,851.3 189.1,850.8 189.4,850.0 189.7,850.0 190.0,850.2 190.3,850.0 190.7,848.8 191.0,848.7 191.3,850.2 191.6,851.8 191.9,852.2 192.2,851.6 192.5,852.4 192.8,852.5 193.1,852.5 193.4,851.9 193.7,850.8 194.1,849.9 194.4,848.8 194.7,848.0 195.0,847.9 195.3,848.1 195.6,847.6 195.9,845.9 196.2,842.6 196.5,838.9 196.8,835.8 197.2,832.5 197.5,828.4 197.8,822.7 198.1,816.1 198.4,809.9 198.7,804.9 199.0,802.3 199.1,801.9 199.3,802.4 199.6,805.9 199.9,811.7 200.2,818.3 200.6,825.0 200.9,831.1 201.2,836.1 201.5,840.0 201.8,843.1 202.1,846.1 202.4,848.8 202.7,850.7 203.0,850.6 203.3,851.0 203.7,852.0 204.0,852.8 204.3,853.6 204.6,853.8 204.9,854.0 205.2,854.7 205.5,855.0 205.8,855.7 206.1,856.4 206.4,856.3 206.8,856.1 207.1,855.8 207.4,856.3 207.7,857.0 208.0,857.0 208.3,856.5 208.6,856.0 208.9,856.6 209.2,856.8 209.5,856.5 209.8,856.0 210.2,855.8 210.5,855.4 210.8,854.8 211.1,854.2 211.4,853.1 211.7,853.2 212.0,852.9 212.3,853.0 212.6,853.0 212.9,850.8 213.3,848.4 213.6,845.1 213.9,842.1 214.2,841.2 214.5,839.8 214.8,837.4 215.1,832.6 215.4,826.0 215.7,818.4 216.0,810.3 216.3,800.8 216.7,789.1 217.0,775.1 217.3,760.7 217.6,748.2 217.9,740.3 218.1,738.9 218.2,739.5 218.5,745.7 218.8,757.1 219.1,770.7 219.4,784.6 219.8,797.7 220.1,809.3 220.4,818.8 220.7,826.1 221.0,831.8 221.3,836.8 221.6,840.7 221.9,843.8 222.2,846.8 222.5,848.9 222.9,850.7 223.2,852.2 223.5,853.7 223.8,855.2 224.1,856.2 224.4,857.5 224.7,859.0 225.0,859.5 225.3,859.6 225.6,859.7 225.9,860.8 226.3,861.9 226.6,861.9 226.9,862.1 227.2,861.6 227.5,862.7 227.8,863.8 228.1,864.6 228.4,864.6 228.7,863.8 229.0,864.1 229.4,865.2 229.7,866.2 230.0,866.8 230.3,867.3 230.6,866.3 230.9,866.0 231.2,866.3 231.5,867.0 231.8,867.7 232.1,867.4 232.4,867.1 232.8,867.8 233.1,868.1 233.4,868.3 233.7,868.2 234.0,867.7 234.3,868.6 234.6,869.8 234.9,870.5 235.2,869.4 235.5,868.2 235.9,867.6 236.2,868.1 236.5,868.6 236.8,869.2 237.1,870.0 237.4,870.4 237.7,870.5 238.0,870.0 238.3,870.3 238.6,870.3 238.9,870.1 239.3,869.8 239.6,869.8 239.9,870.5 240.2,871.0 240.5,871.5 240.8,871.5 241.1,870.8 241.4,870.3 241.7,869.4 242.0,869.1 242.4,869.7 242.7,871.0 243.0,871.8 243.3,871.5 243.6,871.1 243.9,870.4 244.2,870.7 244.5,871.1 244.8,871.8 245.1,872.7 245.5,872.3 245.8,871.3 246.1,870.6 246.4,870.7 246.7,872.4 247.0,873.1 247.3,872.3 247.6,871.3 247.9,870.3 248.2,870.4 248.5,870.2 248.9,870.5 249.2,871.2 249.5,872.2 249.8,872.4 250.1,873.0 250.4,873.2 250.7,873.2 251.0,872.6 251.3,871.6 251.6,871.2 252.0,870.5 252.3,870.4 252.6,870.6 252.9,870.7 253.2,870.6 253.5,870.9 253.8,871.0 254.1,871.6 254.4,872.2 254.7,872.4 255.0,872.4 255.4,872.2 255.7,872.6 256.0,873.5 256.3,874.2 256.6,873.9 256.9,872.8 257.2,871.5 257.5,870.3 257.8,870.0 258.1,870.4 258.5,871.2 258.8,871.8 259.1,872.3 259.4,872.7 259.7,872.7 260.0,872.7 260.3,872.2 260.6,871.9 260.9,871.8 261.2,871.5 261.6,871.2 261.9,871.3 262.2,871.5 262.5,871.4 262.8,871.2 263.1,871.8 263.4,872.9 263.7,873.3 264.0,873.2 264.3,872.7 264.6,871.7 265.0,871.0 265.3,870.9 265.6,871.7 265.9,872.9 266.2,873.1 266.5,872.3 266.8,871.2 267.1,870.7 267.4,871.3 267.7,872.1 268.1,872.3 268.4,872.4 268.7,872.8 269.0,873.4 269.3,873.5 269.6,873.3 269.9,872.3 270.2,871.1 270.5,870.5 270.8,870.4 271.1,871.3 271.5,872.3 271.8,872.7 272.1,872.7 272.4,871.9 272.7,871.8 273.0,872.1 273.3,871.9 273.6,872.0 273.9,871.9 274.2,871.9 274.6,871.8 274.9,871.4 275.2,872.1 275.5,872.6 275.8,872.6 276.1,872.3 276.4,872.0 276.7,871.8 277.0,871.2 277.3,870.6 277.6,870.6 278.0,870.8 278.3,870.5 278.6,870.2 278.9,870.3 279.2,871.3 279.5,871.5 279.8,871.4 280.1,870.6 280.4,869.9 280.7,869.5 281.1,869.7 281.4,870.6 281.7,870.0 282.0,869.2 282.3,868.1 282.6,868.0 282.9,868.7 283.2,869.0 283.5,869.1 283.8,869.0 284.2,869.1 284.5,869.8 284.8,870.1 285.1,870.0 285.4,869.9 285.7,870.1 286.0,870.7 286.3,871.4 286.6,871.7 286.9,871.1 287.2,870.5 287.6,870.0 287.9,870.6 288.2,871.3 288.5,871.5 288.8,870.8 289.1,869.7 289.4,869.6 289.7,869.4 290.0,869.8 290.3,870.0 290.7,870.5 291.0,870.8 291.3,870.5 291.6,870.4 291.9,870.7 292.2,871.1 292.5,870.8 292.8,870.3 293.1,869.7 293.4,868.8 293.7,868.4 294.1,868.8 294.4,869.4 294.7,869.9 295.0,869.9 295.3,869.7 295.6,869.3 295.9,869.2 296.2,869.7 296.5,870.2 296.8,870.0 297.2,869.3 297.5,868.4 297.8,868.7 298.1,868.2 298.4,868.3 298.7,868.1 299.0,867.8 299.3,868.1 299.6,867.9 299.9,868.3 300.3,868.8 300.6,869.2 300.9,868.6 301.2,867.6 301.5,867.0 301.8,867.0 302.1,867.0 302.4,867.0 302.7,867.3 303.0,867.5 303.3,868.5 303.7,868.0 304.0,867.2 304.3,866.3 304.6,865.5 304.9,865.7 305.2,865.4 305.5,865.4 305.8,865.4 306.1,865.9 306.4,866.4 306.8,866.1 307.1,865.4 307.4,864.2 307.7,863.7 308.0,864.3 308.3,865.0 308.6,864.5 308.9,863.8 309.2,863.8 309.5,864.9 309.8,865.3 310.2,864.6 310.5,863.7 310.8,862.7 311.1,862.5 311.4,861.6 311.7,860.7 312.0,860.2 312.3,859.5 312.6,859.9 312.9,860.6 313.3,860.9 313.6,860.8 313.9,860.6 314.2,860.6 314.5,861.4 314.8,862.0 315.1,861.0 315.4,859.5 315.7,857.7 316.0,856.6 316.3,857.1 316.7,857.4 317.0,857.3 317.3,857.6 317.6,857.8 317.9,858.2 318.2,858.1 318.5,856.8 318.8,855.8 319.1,854.9 319.4,853.9 319.8,853.8 320.1,853.6 320.4,854.3 320.7,854.0 321.0,853.6 321.3,853.3 321.6,852.1 321.9,852.0 322.2,851.9 322.5,852.3 322.9,852.6 323.2,851.9 323.5,851.9 323.8,851.6 324.1,851.2 324.4,850.1 324.7,849.0 325.0,848.6 325.3,848.2 325.6,848.5 325.9,848.3 326.3,847.9 326.6,847.1 326.9,847.3 327.2,847.8 327.5,847.4 327.8,846.5 328.1,844.5 328.4,844.4 328.7,844.1 329.0,843.4 329.4,843.1 329.7,841.9 330.0,842.2 330.3,842.2 330.6,842.1 330.9,841.0 331.2,839.1 331.5,837.9 331.8,836.6 332.1,836.2 332.4,835.0 332.8,833.3 333.1,831.3 333.4,829.2 333.7,827.1 334.0,825.1 334.3,823.2 334.6,821.8 334.9,821.3 334.9,821.3 335.2,821.6 335.5,822.6 335.9,824.0 336.2,825.5 336.5,827.0 336.8,828.5 337.1,830.2 337.4,831.6 337.7,833.0 338.0,834.5 338.3,835.5 338.6,836.4 339.0,836.6 339.3,836.6 339.6,836.7 339.9,837.5 340.2,838.5 340.5,838.7 340.8,838.9 341.1,838.7 341.4,838.8 341.7,839.1 342.0,839.6 342.4,839.1 342.7,838.7 343.0,838.6 343.3,839.0 343.6,839.6 343.9,839.2 344.2,838.8 344.5,839.8 344.8,840.5 345.1,841.0 345.5,841.5 345.8,841.4 346.1,842.5 346.4,842.5 346.7,841.9 347.0,841.1 347.3,840.6 347.6,841.7 347.9,842.2 348.2,841.9 348.5,842.0 348.9,842.8 349.2,843.8 349.5,843.5 349.8,841.9 350.1,841.2 350.4,842.1 350.7,843.3 351.0,844.9 351.3,845.7 351.6,845.3 352.0,845.4 352.3,845.4 352.6,846.0 352.9,846.8 353.2,846.6 353.5,848.0 353.8,848.6 354.1,848.5 354.4,848.2 354.7,848.2 355.0,849.5 355.4,849.6 355.7,849.7 356.0,849.4 356.3,849.8 356.6,849.9 356.9,850.3 357.2,851.3 357.5,851.8 357.8,851.8 358.1,851.9 358.5,851.9 358.8,852.6 359.1,852.3 359.4,852.3 359.7,852.9 360.0,853.4 360.3,854.5 360.6,855.5 360.9,856.2 361.2,856.1 361.6,855.8 361.9,855.0 362.2,854.7 362.5,854.6 362.8,854.9 363.1,855.5 363.4,856.4 363.7,856.8 364.0,857.7 364.3,858.8 364.6,858.3 365.0,857.8 365.3,857.5 365.6,857.5 365.9,858.5 366.2,858.2 366.5,858.2 366.8,858.5 367.1,859.2 367.4,860.1 367.7,860.5 368.1,860.5 368.4,860.2 368.7,860.0 369.0,860.7 369.3,861.0 369.6,861.0 369.9,861.2 370.2,860.9 370.5,861.9 370.8,861.7 371.1,861.6 371.5,862.2 371.8,862.8 372.1,863.1 372.4,862.5 372.7,862.0 373.0,861.0 373.3,860.7 373.6,861.6 373.9,862.4 374.2,863.6 374.6,863.7 374.9,863.4 375.2,863.1 375.5,863.0 375.8,863.1 376.1,863.4 376.4,864.0 376.7,864.4 377.0,865.1 377.3,865.1 377.7,864.6 378.0,864.6 378.3,864.4 378.6,864.1 378.9,863.7 379.2,863.7 379.5,864.5 379.8,865.0 380.1,865.0 380.4,864.5 380.7,864.6 381.1,865.5 381.4,866.3 381.7,866.1 382.0,865.6 382.3,865.2 382.6,864.9 382.9,865.1 383.2,865.1 383.5,865.7 383.8,865.9 384.2,864.8 384.5,864.4 384.8,864.4 385.1,865.3 385.4,866.1 385.7,866.8 386.0,867.4 386.3,867.6 386.6,867.1 386.9,865.8 387.2,865.3 387.6,865.4 387.9,866.0 388.2,866.2 388.5,866.0 388.8,866.2 389.1,866.5 389.4,866.7 389.7,866.5 390.0,866.6 390.3,867.0 390.7,866.9 391.0,866.5 391.3,865.7 391.6,865.5 391.9,865.7 392.2,865.6 392.5,865.1 392.8,865.4 393.1,865.8 393.4,866.3 393.7,866.9 394.1,867.1 394.4,867.9 394.7,867.6 395.0,866.9 395.3,866.7 395.6,866.6 395.9,866.5 396.2,866.2 396.5,866.5 396.8,866.4 397.2,866.6 397.5,866.6 397.8,866.3 398.1,866.2 398.4,865.8 398.7,865.3 399.0,865.2 399.3,865.2 399.6,865.4 399.9,865.9 400.3,865.0 400.6,863.8 400.9,863.4 401.2,864.6 401.5,866.2 401.8,866.9 402.1,866.4 402.4,865.7 402.7,865.2 403.0,865.4 403.3,865.4 403.7,864.6 404.0,863.8 404.3,863.0 404.6,863.5 404.9,863.5 405.2,863.3 405.5,862.9 405.8,863.5 406.1,864.0 406.4,864.3 406.8,863.6 407.1,862.6 407.4,862.8 407.7,863.2 408.0,864.1 408.3,863.8 408.6,863.0 408.9,862.8 409.2,862.1 409.5,861.8 409.8,861.8 410.2,861.7 410.5,862.0 410.8,861.4 411.1,860.8 411.4,861.0 411.7,860.1 412.0,859.5 412.3,858.7 412.6,858.3 412.9,858.6 413.3,858.5 413.6,858.8 413.9,859.3 414.2,860.0 414.5,860.6 414.8,861.0 415.1,861.2 415.4,860.6 415.7,859.6 416.0,859.0 416.4,858.2 416.7,857.6 417.0,857.1 417.3,856.9 417.6,857.5 417.9,857.6 418.2,858.3 418.5,858.6 418.8,857.6 419.1,856.1 419.4,854.5 419.8,854.6 420.1,855.7 420.4,856.6 420.7,856.5 421.0,855.8 421.3,855.9 421.6,855.9 421.9,855.5 422.2,854.6 422.5,853.9 422.9,853.2 423.2,851.2 423.5,848.9 423.8,848.2 424.1,847.9 424.4,847.5 424.7,846.2 425.0,844.2 425.3,842.1 425.6,839.5 425.9,836.9 426.3,834.5 426.6,831.8 426.9,828.8 427.2,825.5 427.5,822.0 427.8,818.7 428.1,816.1 428.4,814.8 428.5,814.7 428.7,815.0 429.0,816.3 429.4,818.8 429.7,821.9 430.0,825.4 430.3,828.6 430.6,831.5 430.9,834.7 431.2,837.4 431.5,839.6 431.8,841.2 432.1,842.7 432.4,844.2 432.8,845.7 433.1,847.2 433.4,848.5 433.7,849.2 434.0,849.1 434.3,850.0 434.6,851.4 434.9,852.1 435.2,851.5 435.5,850.2 435.9,850.6 436.2,851.5 436.5,852.0 436.8,852.3 437.1,851.6 437.4,851.7 437.7,852.4 438.0,853.8 438.3,855.4 438.6,855.3 439.0,854.7 439.3,854.3 439.6,854.5 439.9,855.1 440.2,854.7 440.5,854.0 440.8,854.5 441.1,854.9 441.4,855.8 441.7,855.3 442.0,854.6 442.4,855.3 442.7,855.4 443.0,856.3 443.3,856.5 443.6,857.6 443.9,858.1 444.2,857.7 444.5,858.1 444.8,858.6 445.1,859.9 445.5,860.3 445.8,859.9 446.1,859.7 446.4,859.5 446.7,859.3 447.0,859.3 447.3,859.7 447.6,860.5 447.9,859.9 448.2,859.0 448.5,858.5 448.9,859.2 449.2,860.7 449.5,861.4 449.8,862.1 450.1,862.3 450.4,862.5 450.7,862.0 451.0,861.7 451.3,862.1 451.6,862.6 452.0,862.8 452.3,862.3 452.6,861.7 452.9,861.5 453.2,861.8 453.5,862.2 453.8,862.5 454.1,863.1 454.4,862.5 454.7,861.9 455.1,862.3 455.4,863.1 455.7,864.7 456.0,865.2 456.3,864.9 456.6,863.8 456.9,863.0 457.2,862.9 457.5,863.9 457.8,865.5 458.1,866.4 458.5,867.1 458.8,867.6 459.1,868.2 459.4,868.2 459.7,867.4 460.0,867.1 460.3,868.1 460.6,869.5 460.9,869.8 461.2,869.4 461.6,868.7 461.9,868.2 462.2,868.3 462.5,868.5 462.8,869.8 463.1,869.9 463.4,869.4 463.7,869.4 464.0,869.7 464.3,870.9 464.6,871.6 465.0,871.7 465.3,871.3 465.6,870.5 465.9,870.6 466.2,871.5 466.5,872.2 466.8,872.0 467.1,871.2 467.4,871.1 467.7,872.4 468.1,873.6 468.4,873.7 468.7,873.3 469.0,872.9 469.3,872.7 469.6,872.5 469.9,872.1 470.2,872.6 470.5,873.5 470.8,874.1 471.1,874.6 471.5,874.4 471.8,874.3 472.1,873.6 472.4,872.9 472.7,872.8 473.0,872.6 473.3,873.4 473.6,874.2 473.9,874.6 474.2,875.2 474.6,875.6 474.9,875.9 475.2,876.0 475.5,876.0 475.8,875.9 476.1,875.5 476.4,874.2 476.7,872.9 477.0,872.5 477.3,873.5 477.7,874.4 478.0,874.7 478.3,874.8 478.6,875.0 478.9,875.8 479.2,876.0 479.5,876.0 479.8,875.2 480.1,874.5 480.4,874.2 480.7,874.9 481.1,876.3 481.4,877.1 481.7,877.2 482.0,876.4 482.3,875.3 482.6,874.6 482.9,873.9 483.2,873.5 483.5,873.4 483.8,873.5 484.2,875.2 484.5,876.7 484.8,876.9 485.1,876.3 485.4,874.9 485.7,873.9 486.0,873.5 486.3,872.8 486.6,872.5 486.9,872.2 487.2,871.8 487.6,872.3 487.9,872.3 488.2,871.6 488.5,870.8 488.8,869.7 489.1,868.8 489.4,867.4 489.7,865.8 490.0,864.6 490.3,863.1 490.7,861.6 491.0,859.6 491.3,857.4 491.6,855.2 491.9,853.1 492.2,851.3 492.5,849.8 492.8,849.0 493.0,849.0 493.1,849.2 493.4,849.9 493.8,851.1 494.1,852.9 494.4,855.0 494.7,857.2 495.0,859.3 495.3,861.2 495.6,863.2 495.9,864.9 496.2,866.6 496.5,868.1 496.8,869.5 497.2,870.9 497.5,871.6 497.8,872.1 498.1,872.7 498.4,873.1 498.7,874.0 499.0,874.4 499.3,874.5 499.6,875.0 499.9,875.1 500.3,875.4 500.6,875.7 500.9,875.7 501.2,876.0 501.5,876.2 501.8,876.3 502.1,877.0 502.4,877.6 502.7,878.3 503.0,878.6 503.3,878.6 503.7,878.5 504.0,877.6 504.3,877.3 504.6,876.6 504.9,877.2 505.2,878.0 505.5,878.7 505.8,879.0 506.1,878.6 506.4,878.4 506.8,878.8 507.1,879.4 507.4,879.4 507.7,878.9 508.0,878.5 508.3,878.7 508.6,879.3 508.9,879.7 509.2,879.8 509.5,879.1 509.8,878.6 510.2,878.3 510.5,878.6 510.8,879.6 511.1,880.0 511.4,880.2 511.7,879.8 512.0,879.6 512.3,879.5 512.6,879.1 512.9,879.0 513.3,879.0 513.6,879.1 513.9,879.7 514.2,879.6 514.5,879.8 514.8,880.1 515.1,880.7 515.4,881.0 515.7,880.9 516.0,879.9 516.4,879.0 516.7,878.8 517.0,878.9 517.3,879.0 517.6,879.0 517.9,879.4 518.2,880.1 518.5,880.6 518.8,880.4 519.1,880.1 519.4,879.9 519.8,879.7 520.1,879.8 520.4,879.8 520.7,879.3 521.0,879.3 521.3,879.7 521.6,880.3 521.9,880.4 522.2,879.0 522.5,877.5 522.9,877.6 523.2,878.1 523.5,879.1 523.8,879.4 524.1,879.3 524.4,879.2 524.7,879.2 525.0,879.2 525.3,879.5 525.6,879.6 525.9,878.9 526.3,878.8 526.6,878.8 526.9,878.8 527.2,877.8 527.5,876.8 527.8,876.4 528.1,876.3 528.4,876.4 528.7,875.6 529.0,875.5 529.4,875.6 529.7,875.8 529.7,876.8 530.0,876.6 530.3,876.3 530.6,876.2 530.9,876.8 531.2,877.7 531.5,877.5 531.8,876.6 532.1,875.9 532.5,876.7 532.8,877.8 533.1,878.1 533.4,877.8 533.7,877.6 534.0,878.2 534.3,878.5 534.6,878.8 534.9,879.1 535.2,879.6 535.5,879.3 535.9,878.2 536.2,877.3 536.5,876.9 536.8,877.3 537.1,877.2 537.4,876.7 537.7,876.5 538.0,876.7 538.3,877.7 538.6,878.1 539.0,878.0 539.3,877.0 539.6,876.0 539.9,875.1 540.2,874.3 540.5,874.1 540.8,873.7 541.1,873.4 541.4,872.9 541.7,871.8 542.0,870.6 542.4,869.5 542.7,868.3 543.0,867.3 543.3,866.1 543.6,864.6 543.9,862.9 544.2,861.0 544.5,859.1 544.8,857.8 545.1,856.9 545.5,856.3 545.7,856.3 545.8,856.4 546.1,856.7 546.4,857.4 546.7,858.4 547.0,859.8 547.3,861.5 547.6,863.3 547.9,865.0 548.2,866.5 548.5,867.8 548.9,869.3 549.2,870.3 549.5,871.1 549.8,871.6 550.1,872.3 550.4,873.0 550.7,873.5 551.0,873.8 551.3,874.0 551.6,874.3 552.0,874.6 552.3,874.7 552.6,874.0 552.9,873.9 553.2,874.2 553.5,874.5 553.8,874.3 554.1,873.3 554.4,872.9 554.7,872.4 555.1,871.9 555.4,871.3 555.7,870.6 556.0,870.2 556.3,869.4 556.6,868.6 556.9,868.0 557.2,867.7 557.5,867.7 557.5,867.8 557.8,868.0 558.1,868.4 558.5,869.0 558.8,869.8 559.1,870.7 559.4,871.5 559.7,872.4 560.0,873.1 560.3,873.9 560.6,874.5 560.9,875.0 561.2,875.4 561.6,875.6 561.9,876.3 562.2,876.9 562.5,877.3 562.8,877.3 563.1,877.4 563.4,877.9 563.7,878.7 564.0,879.0 564.3,878.9 564.6,879.0 565.0,879.6 565.3,880.0 565.6,879.7 565.9,878.9 566.2,878.8 566.5,879.4 566.8,879.5 567.1,879.6 567.4,879.4 567.7,879.3 568.1,879.7 568.4,880.5 568.7,880.7 569.0,880.9 569.3,880.5 569.6,879.6 569.9,879.3 570.2,879.1 570.5,879.1 570.8,878.8 571.2,878.9 571.5,879.8 571.8,881.3 572.1,882.2 572.4,881.7 572.7,880.9 573.0,880.3 573.3,879.9 573.6,880.1 573.9,880.2 574.2,880.6 574.6,881.0 574.9,881.3 575.2,881.5 575.5,881.0 575.8,880.3 576.1,879.8 576.4,879.9 576.7,880.6 577.0,880.7 577.3,880.6 577.7,880.7 578.0,880.3 578.3,880.4 578.6,880.4 578.9,880.6 579.2,880.5 579.5,880.4 579.8,880.4 580.1,880.9 580.4,881.1 580.7,881.0 581.1,881.0 581.4,880.7 581.7,880.8 582.0,880.4 582.3,880.6 582.6,881.0 582.9,881.4 583.2,881.5 583.5,881.1 583.8,881.1 584.2,881.2 584.5,881.1 584.8,880.5 585.1,879.6 585.4,879.7 585.7,880.2 586.0,880.4 586.3,880.3 586.6,880.1 586.9,880.7 587.2,881.4 587.6,881.6 587.9,882.2 588.2,881.8 588.5,881.8 588.8,881.5 589.1,881.3 589.4,881.2 589.7,880.5 590.0,880.6 590.3,880.6 590.7,880.4 591.0,880.5 591.3,880.7 591.6,881.2 591.9,880.9 592.2,880.3 592.5,880.4 592.8,880.7 593.1,881.0 593.4,881.1 593.8,881.4 594.1,881.4 594.4,881.2 594.7,881.1 595.0,880.9 595.3,881.1 595.6,880.5 595.9,879.9 596.2,879.6 596.5,879.8 596.8,880.6 597.2,881.7 597.5,882.3 597.8,882.6 598.1,882.1 598.4,881.3 598.7,880.7 599.0,880.2 599.3,880.6 599.6,880.8 599.9,880.9 600.3,881.2 600.6,881.0 600.9,881.3 601.2,881.4 601.5,881.7 601.8,882.0 602.1,881.6 602.4,881.0 602.7,880.5 603.0,880.4 603.3,880.3 603.7,880.4 604.0,881.1 604.3,881.8 604.6,881.4 604.9,881.2 605.2,881.0 605.5,881.3 605.8,881.5 606.1,880.8 606.4,881.1 606.8,881.5 607.1,881.9 607.4,882.1 607.7,881.8 608.0,881.7 608.3,881.4 608.6,881.0 608.9,880.8 609.2,880.8 609.5,881.0 609.9,880.8 610.2,880.3 610.5,880.7 610.8,881.3 611.1,881.3 611.4,880.7 611.7,880.3 612.0,880.5 612.3,880.9 612.6,881.6 612.9,882.2 613.3,882.0 613.6,881.7 613.9,880.9 614.2,880.8 614.5,881.3 614.8,881.3 615.1,881.2 615.4,881.1 615.7,880.4 616.0,880.2 616.4,880.3 616.7,880.7 617.0,881.0 617.3,880.8 617.6,880.9 617.9,880.8 618.2,881.0 618.5,880.8 618.8,881.2 619.1,882.2 619.4,882.1 619.8,881.5 620.1,880.9 620.4,880.3 620.7,880.6 621.0,881.2 621.3,881.9 621.6,882.3 621.9,881.6 622.2,880.6 622.5,880.2 622.9,880.6 623.2,881.0 623.5,881.2 623.8,881.2 624.1,881.0 624.4,881.2 624.7,881.1 625.0,881.0 625.3,881.3 625.6,881.1 625.9,881.2 626.3,881.0 626.6,881.2 626.9,881.5 627.2,880.8 627.5,880.2 627.8,880.4 628.1,881.1 628.4,881.5 628.7,881.1 629.0,880.1 629.4,880.1 629.7,880.7 630.0,881.0 630.3,880.6 630.6,880.0 630.9,879.3 631.2,879.3 631.5,880.0 631.8,880.6 632.1,880.9 632.5,881.0 632.8,880.6 633.1,880.7 633.4,880.4 633.7,879.3 634.0,878.6 634.3,877.9 634.6,878.1 634.9,878.5 635.2,878.8 635.5,878.6 635.9,878.6 636.2,879.1 636.5,879.0 636.8,878.5 637.1,877.2 637.4,876.0 637.7,874.8 638.0,874.1 638.3,874.2 638.5,875.5 638.6,876.6 639.0,877.1 639.3,877.5 639.6,877.0 639.9,877.3 640.2,877.6 640.5,878.0 640.8,878.8 641.1,878.3 641.4,878.3 641.7,878.7 642.0,879.0 642.4,879.9 642.7,879.5 643.0,879.1 643.3,879.0 643.6,879.0 643.9,879.9 644.2,880.1 644.5,880.4 644.8,880.4 645.1,880.4 645.5,880.7 645.8,880.4 646.1,880.7 646.4,880.4 646.7,880.3 647.0,880.6 647.3,880.6 647.6,881.1 647.9,881.0 648.2,880.4 648.6,880.3 648.9,880.6 649.2,881.1 649.5,881.9 649.8,881.6 650.1,881.1 650.4,881.1 650.7,881.0 651.0,881.3 651.3,881.0 651.6,880.4 652.0,880.5 652.3,881.5 652.6,882.3 652.9,882.5 653.2,882.0 653.5,881.3 653.8,881.7 654.1,881.7 654.4,882.1 654.7,882.4 655.1,881.8 655.4,881.6 655.7,880.9 656.0,881.1 656.3,881.1 656.6,880.7 656.9,880.6 657.2,880.6 657.5,881.2 657.8,882.0 658.1,882.6 658.5,882.6 658.8,882.6 659.1,882.0 659.4,881.7 659.7,881.3 660.0,881.1 660.3,881.0 660.6,881.2 660.9,881.6 661.2,881.8 661.6,882.2 661.9,882.0 662.2,882.1 662.5,882.3 662.8,881.7 663.1,881.3 663.4,881.1 663.7,881.2 664.0,881.9 664.3,881.6 664.6,881.1 665.0,880.7 665.3,880.9 665.6,881.9 665.9,882.0 666.2,882.1 666.5,882.4 666.8,883.3 667.1,883.1 667.4,881.8 667.7,880.9 668.1,880.9 668.4,881.7 668.7,882.0 669.0,882.2 669.3,882.2"/>
<polyline stroke="#ec2430" stroke-width="3.6" points="49.8,975.0 50.1,974.8 50.4,974.2 50.7,973.4 51.0,972.8 51.3,973.1 51.6,974.3 52.0,975.6 52.3,976.2 52.6,975.9 52.9,975.3 53.2,975.4 53.5,975.1 53.8,975.2 54.1,975.2 54.4,975.0 54.7,974.6 55.0,974.0 55.4,975.0 55.7,975.9 56.0,976.3 56.3,975.8 56.6,975.4 56.9,976.2 57.2,976.3 57.5,975.4 57.8,974.2 58.1,973.8 58.5,973.6 58.8,974.4 59.1,975.0 59.4,975.3 59.7,976.2 60.0,975.9 60.3,975.9 60.6,975.4 60.9,975.1 61.2,975.4 61.5,975.4 61.9,975.3 62.2,975.4 62.5,975.6 62.8,975.1 63.1,974.9 63.4,973.9 63.7,974.4 64.0,975.3 64.3,975.9 64.6,976.4 65.0,976.1 65.3,976.1 65.6,975.8 65.9,975.2 66.2,974.6 66.5,975.3 66.8,975.5 67.1,975.7 67.4,975.5 67.7,975.4 68.1,976.2 68.4,976.5 68.7,976.1 69.0,975.3 69.3,974.0 69.6,973.7 69.9,973.7 70.2,974.4 70.5,975.3 70.8,974.6 71.1,974.4 71.5,973.8 71.8,973.8 72.1,974.5 72.4,975.1 72.7,976.7 73.0,976.9 73.3,975.4 73.6,974.3 73.9,974.0 74.2,974.2 74.6,974.5 74.9,974.3 75.2,974.5 75.5,974.0 75.8,973.1 76.1,973.0 76.4,973.0 76.7,973.0 77.0,972.5 77.3,972.4 77.6,972.5 78.0,972.9 78.3,973.1 78.6,973.1 78.9,973.4 79.2,973.5 79.5,973.9 79.8,974.2 80.1,973.6 80.4,972.7 80.7,971.9 81.1,971.6 81.4,972.3 81.7,971.8 82.0,971.4 82.3,971.4 82.6,971.1 82.9,970.8 83.2,970.9 83.5,971.6 83.8,972.6 84.1,972.1 84.5,971.2 84.8,970.9 85.1,970.6 85.4,970.8 85.7,971.1 86.0,971.7 86.3,971.1 86.6,970.1 86.9,969.0 87.2,969.3 87.6,969.9 87.9,969.8 88.2,969.4 88.5,968.7 88.8,969.1 89.1,970.3 89.4,971.2 89.7,970.6 90.0,969.2 90.3,968.4 90.7,968.3 91.0,968.9 91.3,968.5 91.6,967.2 91.9,966.6 92.2,966.7 92.5,968.1 92.8,968.9 93.1,968.8 93.4,968.9 93.7,969.1 94.1,969.0 94.4,967.9 94.7,966.8 95.0,966.2 95.3,966.8 95.6,967.3 95.9,967.4 96.2,967.9 96.5,967.6 96.8,967.5 97.2,966.6 97.5,965.7 97.8,965.4 98.1,965.3 98.4,965.9 98.7,966.0 99.0,965.9 99.3,965.2 99.6,964.2 99.9,963.0 100.2,962.3 100.6,962.6 100.9,963.2 101.2,963.4 101.5,962.3 101.8,961.5 102.1,961.0 102.4,961.5 102.7,961.2 103.0,962.1 103.3,962.9 103.7,962.9 104.0,963.3 104.3,961.6 104.6,960.8 104.9,959.2 105.2,958.2 105.5,958.4 105.8,958.6 106.1,959.1 106.4,958.0 106.8,957.5 107.1,957.0 107.4,957.4 107.7,958.4 108.0,957.2 108.3,955.9 108.6,954.0 108.9,952.9 109.2,953.0 109.5,953.6 109.8,953.8 110.2,953.1 110.5,951.5 110.8,950.4 111.1,951.2 111.4,950.9 111.7,949.9 112.0,948.9 112.3,948.3 112.6,948.7 112.9,949.5 113.3,949.7 113.6,949.2 113.9,947.2 114.2,945.0 114.5,943.7 114.8,943.6 115.1,944.0 115.4,943.9 115.7,943.8 116.0,943.2 116.3,942.9 116.7,942.8 117.0,942.8 117.3,941.6 117.6,939.7 117.9,937.5 118.2,935.8 118.5,935.8 118.8,936.0 119.1,935.9 119.4,935.8 119.8,935.9 120.1,935.7 120.4,934.6 120.7,931.7 121.0,929.8 121.3,930.2 121.6,931.2 121.9,932.0 122.2,931.2 122.5,929.6 122.8,927.6 123.2,925.7 123.5,924.8 123.8,923.9 124.1,923.0 124.4,921.7 124.7,921.0 125.0,920.7 125.3,920.6 125.6,920.0 125.9,918.6 126.3,917.6 126.6,916.7 126.9,916.6 127.2,915.5 127.5,914.0 127.8,912.8 128.1,911.8 128.4,911.7 128.7,911.4 129.0,910.4 129.4,909.5 129.7,908.7 130.0,907.6 130.3,905.8 130.6,903.8 130.9,902.8 131.2,902.7 131.5,904.0 131.8,904.3 132.1,903.6 132.4,901.8 132.8,899.5 133.1,898.9 133.4,898.6 133.7,896.4 134.0,894.2 134.3,892.9 134.6,893.1 134.9,893.8 135.2,892.9 135.5,893.7 135.9,894.1 136.2,894.5 136.5,893.2 136.8,890.7 137.1,888.4 137.4,886.5 137.7,886.3 138.0,886.2 138.3,886.9 138.6,887.7 138.9,887.9 139.3,887.6 139.6,886.6 139.9,885.5 140.2,885.9 140.5,886.0 140.8,885.1 141.1,884.7 141.4,884.0 141.7,884.7 142.0,885.2 142.4,885.2 142.7,885.2 143.0,885.3 143.3,886.2 143.6,886.8 143.9,887.8 144.2,887.7 144.5,887.3 144.8,886.5 145.1,886.3 145.5,887.2 145.8,888.4 146.1,889.3 146.4,890.5 146.7,891.9 147.0,892.9 147.3,893.2 147.6,892.2 147.9,892.4 148.2,894.5 148.5,895.7 148.9,897.5 149.2,897.8 149.5,897.9 149.8,898.8 150.1,898.8 150.4,900.1 150.7,901.5 151.0,902.3 151.3,903.4 151.6,904.2 152.0,904.3 152.3,904.6 152.6,905.0 152.9,906.9 153.2,909.0 153.5,910.6 153.8,911.5 154.1,912.6 154.4,914.6 154.7,915.4 155.0,916.1 155.4,916.5 155.7,917.8 156.0,920.0 156.3,921.4 156.6,921.9 156.9,922.5 157.2,922.6 157.5,922.9 157.8,923.5 158.1,924.7 158.5,925.8 158.8,926.4 159.1,927.6 159.4,929.5 159.7,931.1 160.0,930.6 160.3,929.9 160.6,930.7 160.9,932.9 161.2,935.1 161.5,935.9 161.9,935.9 162.2,935.8 162.5,936.2 162.8,937.7 163.1,938.8 163.4,938.5 163.7,937.9 164.0,937.4 164.3,937.4 164.6,939.2 165.0,941.1 165.3,942.2 165.6,941.8 165.9,940.3 166.2,941.5 166.5,942.5 166.8,943.2 167.1,942.2 167.4,940.2 167.7,940.1 168.1,939.2 168.4,939.2 168.7,937.6 169.0,935.0 169.3,932.1 169.6,928.9 169.9,926.0 170.2,922.4 170.5,918.1 170.8,913.8 171.1,910.6 171.5,908.9 171.7,908.7 171.8,908.8 172.1,910.5 172.4,914.4 172.7,919.3 173.0,924.4 173.3,929.5 173.6,934.0 173.9,938.5 174.2,942.7 174.6,946.3 174.9,948.7 175.2,950.0 175.5,951.0 175.8,952.8 176.1,955.0 176.4,956.4 176.7,957.2 177.0,957.5 177.3,958.2 177.6,958.9 178.0,959.5 178.3,959.7 178.6,960.2 178.9,960.3 179.2,960.0 179.5,959.4 179.8,958.1 180.1,958.2 180.4,959.1 180.7,959.6 181.1,959.4 181.4,957.3 181.7,955.1 182.0,953.7 182.3,953.3 182.6,953.1 182.9,952.5 183.2,951.1 183.5,949.6 183.8,948.6 184.2,946.7 184.5,945.4 184.8,945.4 185.1,944.9 185.4,945.2 185.7,944.9 186.0,944.9 186.3,945.8 186.6,946.9 186.9,947.8 187.2,946.7 187.6,945.8 187.9,945.2 188.2,946.9 188.5,949.8 188.8,952.1 189.1,953.7 189.4,953.8 189.7,953.0 190.0,953.4 190.3,954.5 190.7,955.1 191.0,955.4 191.3,955.6 191.6,956.0 191.9,956.6 192.2,955.9 192.5,954.8 192.8,953.8 193.1,954.0 193.4,954.9 193.7,954.5 194.1,953.8 194.4,953.6 194.7,954.0 195.0,954.5 195.3,954.4 195.6,953.9 195.9,952.8 196.2,950.8 196.5,948.6 196.8,946.3 197.2,944.4 197.5,942.3 197.8,939.8 198.1,936.9 198.4,934.1 198.7,932.1 199.0,931.3 199.1,931.2 199.3,931.9 199.6,934.2 199.9,937.7 200.2,941.5 200.6,945.1 200.9,948.5 201.2,951.1 201.5,953.8 201.8,956.3 202.1,958.9 202.4,960.9 202.7,961.4 203.0,962.2 203.3,963.1 203.7,964.8 204.0,965.4 204.3,965.3 204.6,965.5 204.9,965.5 205.2,966.2 205.5,966.5 205.8,967.4 206.1,968.1 206.4,968.1 206.8,967.9 207.1,967.2 207.4,967.2 207.7,967.6 208.0,968.0 208.3,968.1 208.6,967.5 208.9,967.2 209.2,966.9 209.5,966.4 209.8,965.4 210.2,964.7 210.5,964.5 210.8,964.7 211.1,964.7 211.4,964.7 211.7,964.4 212.0,964.0 212.3,963.3 212.6,962.5 212.9,961.7 213.3,960.2 213.6,959.1 213.9,957.7 214.2,956.7 214.5,954.6 214.8,951.8 215.1,948.6 215.4,944.6 215.7,939.8 216.0,934.4 216.3,928.5 216.7,922.1 217.0,915.2 217.3,908.5 217.6,903.2 217.9,900.1 218.1,899.7 218.2,900.0 218.5,902.6 218.8,907.7 219.1,914.5 219.4,921.8 219.8,928.9 220.1,935.0 220.4,940.6 220.7,945.6 221.0,949.8 221.3,953.5 221.6,956.3 221.9,958.8 222.2,960.5 222.5,962.3 222.9,964.0 223.2,965.5 223.5,967.1 223.8,968.1 224.1,969.2 224.4,970.5 224.7,971.3 225.0,972.4 225.3,972.9 225.6,972.2 225.9,972.5 226.3,972.7 226.6,973.5 226.9,974.7 227.2,975.2 227.5,975.7 227.8,975.7 228.1,975.4 228.4,975.4 228.7,975.4 229.0,975.6 229.4,975.6 229.7,976.1 230.0,976.3 230.3,976.3 230.6,976.4 230.9,976.7 231.2,977.6 231.5,978.2 231.8,978.3 232.1,978.9 232.4,979.5 232.8,980.3 233.1,980.3 233.4,979.5 233.7,978.9 234.0,978.6 234.3,978.6 234.6,979.0 234.9,979.5 235.2,979.7 235.5,980.1 235.9,979.6 236.2,979.4 236.5,979.4 236.8,979.7 237.1,980.2 237.4,980.7 237.7,980.9 238.0,981.3 238.3,981.3 238.6,980.6 238.9,980.5 239.3,980.4 239.6,980.8 239.9,981.5 240.2,981.7 240.5,981.6 240.8,981.8 241.1,981.7 241.4,981.4 241.7,981.0 242.0,980.3 242.4,980.7 242.7,980.5 243.0,981.1 243.3,982.4 243.6,983.2 243.9,983.7 244.2,982.6 244.5,981.9 244.8,981.4 245.1,981.0 245.5,981.0 245.8,981.3 246.1,982.0 246.4,982.5 246.7,983.4 247.0,984.1 247.3,983.7 247.6,983.0 247.9,981.5 248.2,980.5 248.5,980.8 248.9,981.4 249.2,982.7 249.5,982.9 249.8,982.4 250.1,982.7 250.4,983.4 250.7,983.6 251.0,982.9 251.3,982.4 251.6,982.4 252.0,983.1 252.3,983.6 252.6,983.7 252.9,983.9 253.2,983.4 253.5,983.1 253.8,983.9 254.1,984.4 254.4,984.0 254.7,982.8 255.0,981.5 255.4,981.1 255.7,980.9 256.0,981.4 256.3,982.1 256.6,983.4 256.9,984.5 257.2,984.7 257.5,984.2 257.8,983.4 258.1,983.3 258.5,982.6 258.8,982.6 259.1,982.2 259.4,982.2 259.7,982.8 260.0,982.9 260.3,983.5 260.6,983.4 260.9,982.7 261.2,982.7 261.6,983.7 261.9,984.0 262.2,983.4 262.5,982.3 262.8,982.1 263.1,983.4 263.4,984.6 263.7,984.7 264.0,984.0 264.3,983.0 264.6,982.1 265.0,982.5 265.3,983.1 265.6,983.6 265.9,983.6 266.2,982.6 266.5,982.2 266.8,982.1 267.1,982.8 267.4,983.8 267.7,984.3 268.1,984.4 268.4,983.7 268.7,983.1 269.0,982.4 269.3,982.6 269.6,983.1 269.9,983.3 270.2,982.8 270.5,982.7 270.8,983.2 271.1,983.8 271.5,984.2 271.8,983.9 272.1,983.5 272.4,983.3 272.7,983.2 273.0,983.2 273.3,983.3 273.6,983.1 273.9,982.9 274.2,982.8 274.6,982.5 274.9,982.3 275.2,982.1 275.5,981.8 275.8,981.9 276.1,982.1 276.4,983.1 276.7,983.9 277.0,984.1 277.3,984.6 277.6,984.5 278.0,984.3 278.3,983.5 278.6,983.0 278.9,982.8 279.2,982.9 279.5,983.0 279.8,983.1 280.1,982.9 280.4,982.8 280.7,982.2 281.1,982.2 281.4,982.3 281.7,982.5 282.0,983.3 282.3,983.8 282.6,984.5 282.9,984.4 283.2,983.4 283.5,982.6 283.8,981.6 284.2,981.5 284.5,982.1 284.8,982.3 285.1,982.7 285.4,982.6 285.7,982.7 286.0,982.9 286.3,982.7 286.6,983.0 286.9,983.1 287.2,983.4 287.6,983.4 287.9,982.7 288.2,982.5 288.5,982.8 288.8,982.6 289.1,982.0 289.4,980.8 289.7,980.1 290.0,980.3 290.3,980.3 290.7,980.1 291.0,979.5 291.3,978.2 291.6,977.3 291.9,977.0 292.2,977.4 292.5,978.7 292.8,979.1 293.1,979.4 293.4,979.6 293.7,980.0 294.1,980.7 294.4,981.5 294.7,982.1 295.0,982.5 295.3,982.7 295.6,982.5 295.9,982.5 296.2,982.0 296.5,981.7 296.8,981.3 297.2,981.1 297.5,981.1 297.8,981.0 298.1,981.0 298.4,981.3 298.7,980.9 299.0,979.9 299.3,979.5 299.6,980.6 299.9,982.1 300.3,982.8 300.6,981.6 300.9,980.5 301.2,980.9 301.5,981.0 301.8,981.3 302.1,980.6 302.4,980.0 302.7,980.4 303.0,980.6 303.3,980.4 303.7,979.8 304.0,979.6 304.3,980.3 304.6,980.9 304.9,980.4 305.2,979.5 305.5,978.2 305.8,977.9 306.1,978.3 306.4,979.0 306.8,980.1 307.1,979.7 307.4,979.3 307.7,978.8 308.0,978.8 308.3,978.8 308.6,977.6 308.9,977.3 309.2,977.6 309.5,978.3 309.8,978.7 310.2,977.8 310.5,977.5 310.8,977.4 311.1,977.1 311.4,977.1 311.7,976.4 312.0,975.9 312.3,976.0 312.6,976.2 312.9,976.9 313.3,976.5 313.6,975.7 313.9,975.4 314.2,975.2 314.5,975.4 314.8,975.1 315.1,974.2 315.4,973.3 315.7,972.7 316.0,972.4 316.3,973.2 316.7,974.2 317.0,974.9 317.3,974.2 317.6,972.9 317.9,971.7 318.2,971.3 318.5,971.4 318.8,970.7 319.1,970.2 319.4,969.9 319.8,970.5 320.1,970.5 320.4,970.2 320.7,969.3 321.0,969.1 321.3,970.1 321.6,969.9 321.9,969.0 322.2,967.2 322.5,966.5 322.9,967.0 323.2,967.1 323.5,966.2 323.8,966.3 324.1,966.4 324.4,965.9 324.7,965.2 325.0,964.0 325.3,964.3 325.6,964.4 325.9,964.8 326.3,964.9 326.6,964.2 326.9,963.7 327.2,962.6 327.5,961.7 327.8,961.0 328.1,960.5 328.4,960.6 328.7,959.7 329.0,959.1 329.4,958.3 329.7,957.2 330.0,956.8 330.3,956.5 330.6,957.5 330.9,957.2 331.2,955.9 331.5,954.3 331.8,952.7 332.1,951.6 332.4,950.3 332.8,949.1 333.1,948.4 333.4,947.4 333.7,946.2 334.0,945.1 334.3,943.9 334.6,943.2 334.9,942.7 334.9,942.8 335.2,942.7 335.5,942.9 335.9,943.4 336.2,944.1 336.5,944.8 336.8,945.5 337.1,946.0 337.4,946.6 337.7,947.5 338.0,948.2 338.3,949.1 338.6,950.0 339.0,950.2 339.3,950.1 339.6,949.6 339.9,948.7 340.2,948.9 340.5,949.4 340.8,950.2 341.1,950.6 341.4,950.4 341.7,951.0 342.0,951.7 342.4,952.1 342.7,951.7 343.0,950.8 343.3,951.2 343.6,952.1 343.9,953.3 344.2,952.5 344.5,950.6 344.8,949.2 345.1,948.6 345.5,950.1 345.8,951.1 346.1,952.0 346.4,952.4 346.7,951.8 347.0,950.8 347.3,950.7 347.6,952.2 347.9,954.0 348.2,954.8 348.5,954.1 348.9,953.2 349.2,953.8 349.5,953.3 349.8,953.0 350.1,953.0 350.4,952.8 350.7,954.0 351.0,953.8 351.3,953.8 351.6,954.5 352.0,955.6 352.3,956.9 352.6,957.1 352.9,956.5 353.2,956.0 353.5,956.5 353.8,956.9 354.1,957.0 354.4,956.9 354.7,956.7 355.0,956.9 355.4,956.8 355.7,957.6 356.0,958.6 356.3,959.5 356.6,959.7 356.9,960.2 357.2,961.6 357.5,961.9 357.8,961.7 358.1,960.7 358.5,961.0 358.8,962.5 359.1,962.8 359.4,963.5 359.7,963.2 360.0,962.8 360.3,962.8 360.6,963.0 360.9,963.8 361.2,965.1 361.6,966.1 361.9,966.4 362.2,966.3 362.5,965.4 362.8,965.4 363.1,966.0 363.4,967.3 363.7,967.6 364.0,966.7 364.3,966.0 364.6,966.1 365.0,966.8 365.3,967.1 365.6,967.4 365.9,969.0 366.2,970.2 366.5,970.4 366.8,970.1 367.1,969.3 367.4,969.0 367.7,968.8 368.1,969.6 368.4,971.1 368.7,971.7 369.0,971.4 369.3,970.7 369.6,970.8 369.9,971.9 370.2,972.3 370.5,972.0 370.8,971.0 371.1,970.5 371.5,971.5 371.8,972.2 372.1,972.7 372.4,973.2 372.7,973.1 373.0,974.3 373.3,975.0 373.6,975.2 373.9,973.9 374.2,972.1 374.6,972.2 374.9,973.2 375.2,974.2 375.5,974.0 375.8,973.5 376.1,974.1 376.4,974.5 376.7,975.3 377.0,975.0 377.3,974.0 377.7,974.7 378.0,975.3 378.3,976.3 378.6,975.5 378.9,974.3 379.2,974.7 379.5,975.6 379.8,975.8 380.1,974.8 380.4,973.8 380.7,974.0 381.1,974.9 381.4,975.3 381.7,975.3 382.0,976.1 382.3,977.1 382.6,977.2 382.9,977.0 383.2,977.1 383.5,977.6 383.8,977.7 384.2,977.0 384.5,976.2 384.8,975.2 385.1,974.7 385.4,974.6 385.7,974.7 386.0,975.3 386.3,975.7 386.6,976.6 386.9,977.4 387.2,977.7 387.6,977.0 387.9,977.4 388.2,977.5 388.5,977.5 388.8,977.2 389.1,976.6 389.4,976.7 389.7,977.2 390.0,977.7 390.3,977.7 390.7,977.4 391.0,976.3 391.3,975.9 391.6,976.4 391.9,976.7 392.2,977.0 392.5,977.6 392.8,978.1 393.1,978.6 393.4,978.6 393.7,978.1 394.1,977.4 394.4,976.6 394.7,976.5 395.0,976.9 395.3,978.0 395.6,977.5 395.9,976.3 396.2,976.1 396.5,975.8 396.8,976.6 397.2,977.0 397.5,977.2 397.8,978.2 398.1,978.5 398.4,978.6 398.7,978.2 399.0,977.7 399.3,977.8 399.6,977.6 399.9,977.6 400.3,977.2 400.6,976.8 400.9,977.0 401.2,976.7 401.5,977.2 401.8,977.2 402.1,977.2 402.4,977.6 402.7,977.5 403.0,977.1 403.3,977.0 403.7,977.3 404.0,977.8 404.3,977.4 404.6,975.4 404.9,974.5 405.2,975.0 405.5,976.3 405.8,977.3 406.1,976.3 406.4,975.1 406.8,974.8 407.1,975.0 407.4,975.6 407.7,975.5 408.0,976.0 408.3,976.8 408.6,976.9 408.9,975.6 409.2,974.4 409.5,974.4 409.8,974.4 410.2,974.7 410.5,974.2 410.8,974.6 411.1,974.8 411.4,974.6 411.7,974.9 412.0,975.1 412.3,974.8 412.6,973.4 412.9,972.3 413.3,972.8 413.6,973.6 413.9,974.0 414.2,973.0 414.5,972.1 414.8,972.3 415.1,972.7 415.4,973.5 415.7,973.2 416.0,973.0 416.4,972.4 416.7,972.5 417.0,971.7 417.3,970.4 417.6,970.4 417.9,970.1 418.2,969.8 418.5,968.9 418.8,968.4 419.1,968.8 419.4,969.7 419.8,969.7 420.1,969.9 420.4,969.9 420.7,969.5 421.0,969.0 421.3,967.8 421.6,967.3 421.9,966.9 422.2,967.3 422.5,967.6 422.9,967.1 423.2,966.5 423.5,965.4 423.8,964.5 424.1,963.3 424.4,962.2 424.7,961.8 425.0,961.1 425.3,959.8 425.6,958.3 425.9,956.9 426.3,955.8 426.6,954.5 426.9,952.9 427.2,951.3 427.5,949.5 427.8,948.1 428.1,947.1 428.4,946.8 428.5,946.9 428.7,947.1 429.0,947.5 429.4,948.2 429.7,949.5 430.0,951.0 430.3,952.6 430.6,953.6 430.9,954.7 431.2,955.8 431.5,957.0 431.8,958.0 432.1,958.1 432.4,958.3 432.8,959.0 433.1,960.1 433.4,961.5 433.7,963.1 434.0,963.8 434.3,964.3 434.6,963.8 434.9,963.6 435.2,964.5 435.5,964.1 435.9,964.6 436.2,964.8 436.5,965.4 436.8,965.8 437.1,964.4 437.4,963.8 437.7,963.6 438.0,964.6 438.3,965.3 438.6,965.7 439.0,966.2 439.3,966.9 439.6,967.4 439.9,966.5 440.2,966.1 440.5,965.7 440.8,966.1 441.1,965.9 441.4,966.2 441.7,967.4 442.0,968.7 442.4,969.7 442.7,969.7 443.0,969.5 443.3,968.8 443.6,968.9 443.9,969.2 444.2,970.0 444.5,970.1 444.8,969.5 445.1,968.8 445.5,967.8 445.8,968.0 446.1,968.3 446.4,969.2 446.7,969.6 447.0,970.2 447.3,970.8 447.6,970.3 447.9,969.8 448.2,969.3 448.5,969.5 448.9,970.0 449.2,969.6 449.5,970.0 449.8,970.9 450.1,971.3 450.4,971.5 450.7,970.7 451.0,969.7 451.3,969.3 451.6,968.8 452.0,968.2 452.3,968.1 452.6,967.8 452.9,968.1 453.2,969.0 453.5,969.2 453.8,969.6 454.1,969.5 454.4,969.9 454.7,970.5 455.1,970.6 455.4,970.7 455.7,970.4 456.0,970.7 456.3,970.1 456.6,969.8 456.9,970.4 457.2,971.3 457.5,972.6 457.8,973.2 458.1,973.6 458.5,973.3 458.8,973.1 459.1,974.2 459.4,975.0 459.7,976.1 460.0,976.3 460.3,976.5 460.6,976.9 460.9,976.5 461.2,976.3 461.6,976.6 461.9,977.2 462.2,977.7 462.5,978.5 462.8,978.9 463.1,979.4 463.4,979.6 463.7,980.4 464.0,980.8 464.3,980.8 464.6,980.8 465.0,981.2 465.3,982.4 465.6,983.2 465.9,983.0 466.2,982.5 466.5,982.5 466.8,982.8 467.1,983.7 467.4,983.4 467.7,983.0 468.1,982.4 468.4,982.6 468.7,983.7 469.0,984.2 469.3,984.2 469.6,983.8 469.9,984.4 470.2,985.1 470.5,985.6 470.8,985.7 471.1,985.6 471.5,985.9 471.8,985.0 472.1,984.5 472.4,984.4 472.7,985.0 473.0,985.5 473.3,985.9 473.6,985.9 473.9,986.2 474.2,986.9 474.6,987.5 474.9,988.2 475.2,987.7 475.5,987.2 475.8,986.9 476.1,987.3 476.4,987.9 476.7,987.4 477.0,986.9 477.3,986.4 477.7,987.5 478.0,988.2 478.3,988.4 478.6,988.5 478.9,988.0 479.2,988.0 479.5,988.1 479.8,988.7 480.1,989.4 480.4,989.2 480.7,988.7 481.1,988.0 481.4,987.4 481.7,987.6 482.0,988.4 482.3,989.5 482.6,989.5 482.9,989.3 483.2,988.3 483.5,987.6 483.8,987.1 484.2,986.9 484.5,987.2 484.8,987.4 485.1,988.2 485.4,988.1 485.7,987.3 486.0,986.4 486.3,986.4 486.6,987.2 486.9,987.4 487.2,986.9 487.6,986.2 487.9,985.7 488.2,984.8 488.5,984.0 488.8,983.4 489.1,983.0 489.4,982.8 489.7,982.1 490.0,981.1 490.3,979.8 490.7,978.2 491.0,976.9 491.3,975.6 491.6,974.1 491.9,972.9 492.2,972.1 492.5,971.6 492.8,971.5 493.0,971.4 493.1,971.4 493.4,971.7 493.8,972.5 494.1,973.5 494.4,974.4 494.7,975.6 495.0,976.9 495.3,978.1 495.6,979.5 495.9,981.0 496.2,982.4 496.5,983.5 496.8,984.0 497.2,984.4 497.5,985.3 497.8,986.3 498.1,986.9 498.4,986.7 498.7,986.5 499.0,986.8 499.3,987.8 499.6,988.8 499.9,989.6 500.3,990.1 500.6,990.4 500.9,990.4 501.2,990.2 501.5,991.2 501.8,991.7 502.1,991.7 502.4,990.7 502.7,989.7 503.0,989.7 503.3,990.0 503.7,990.6 504.0,991.6 504.3,992.2 504.6,992.1 504.9,991.9 505.2,991.5 505.5,991.5 505.8,991.2 506.1,990.7 506.4,991.0 506.8,991.5 507.1,992.1 507.4,992.3 507.7,992.2 508.0,992.2 508.3,992.4 508.6,993.4 508.9,993.8 509.2,993.8 509.5,993.0 509.8,991.9 510.2,992.0 510.5,992.3 510.8,992.8 511.1,993.2 511.4,993.0 511.7,992.8 512.0,992.6 512.3,992.7 512.6,992.7 512.9,992.4 513.3,992.4 513.6,992.8 513.9,992.9 514.2,993.4 514.5,993.9 514.8,994.6 515.1,994.4 515.4,993.4 515.7,992.7 516.0,992.7 516.4,992.8 516.7,992.5 517.0,992.3 517.3,992.2 517.6,993.2 517.9,993.9 518.2,994.1 518.5,993.8 518.8,993.1 519.1,993.0 519.4,992.8 519.8,992.8 520.1,993.1 520.4,993.5 520.7,993.7 521.0,993.8 521.3,993.4 521.6,993.1 521.9,992.8 522.2,992.1 522.5,992.4 522.9,992.4 523.2,992.9 523.5,993.1 523.8,993.5 524.1,993.5 524.4,993.0 524.7,992.6 525.0,992.8 525.3,993.7 525.6,993.7 525.9,992.9 526.3,991.9 526.6,991.4 526.9,991.0 527.2,990.9 527.5,990.7 527.8,990.5 528.1,990.9 528.4,991.4 528.7,991.5 529.0,991.9 529.4,991.9 529.7,992.2 529.7,992.6 530.0,992.0 530.3,991.8 530.6,991.4 530.9,990.9 531.2,990.9 531.5,991.2 531.8,992.4 532.1,992.8 532.5,992.6 532.8,992.2 533.1,991.5 533.4,991.1 533.7,991.3 534.0,991.8 534.3,992.1 534.6,991.8 534.9,991.6 535.2,991.9 535.5,991.8 535.9,991.5 536.2,991.3 536.5,992.1 536.8,992.1 537.1,992.0 537.4,991.9 537.7,992.1 538.0,992.4 538.3,991.6 538.6,990.8 539.0,990.5 539.3,990.7 539.6,990.5 539.9,989.8 540.2,989.2 540.5,989.2 540.8,989.3 541.1,989.1 541.4,988.4 541.7,987.6 542.0,986.9 542.4,986.2 542.7,985.4 543.0,984.7 543.3,984.0 543.6,983.3 543.9,982.4 544.2,981.5 544.5,980.7 544.8,980.2 545.1,979.8 545.5,979.5 545.7,979.4 545.8,979.3 546.1,979.4 546.4,979.8 546.7,980.5 547.0,981.1 547.3,981.8 547.6,982.5 547.9,983.4 548.2,984.4 548.5,985.1 548.9,985.7 549.2,986.2 549.5,986.7 549.8,987.3 550.1,988.0 550.4,988.4 550.7,988.5 551.0,988.4 551.3,988.3 551.6,988.6 552.0,988.9 552.3,989.5 552.6,990.0 552.9,990.3 553.2,990.2 553.5,989.9 553.8,989.7 554.1,989.4 554.4,989.2 554.7,988.9 555.1,988.7 555.4,988.4 555.7,988.1 556.0,987.7 556.3,987.5 556.6,987.4 556.9,987.3 557.2,987.2 557.5,987.2 557.5,987.3 557.8,987.4 558.1,987.5 558.5,987.7 558.8,988.0 559.1,988.3 559.4,988.9 559.7,989.2 560.0,989.5 560.3,989.9 560.6,990.0 560.9,990.4 561.2,990.6 561.6,991.1 561.9,991.6 562.2,992.1 562.5,992.3 562.8,992.1 563.1,992.1 563.4,992.2 563.7,992.4 564.0,992.1 564.3,992.0 564.6,992.5 565.0,993.3 565.3,993.3 565.6,993.1 565.9,993.1 566.2,993.3 566.5,993.7 566.8,993.5 567.1,993.5 567.4,993.6 567.7,993.2 568.1,993.1 568.4,993.0 568.7,993.7 569.0,994.7 569.3,994.6 569.6,994.3 569.9,993.9 570.2,993.6 570.5,993.5 570.8,993.5 571.2,994.0 571.5,994.5 571.8,994.2 572.1,993.8 572.4,993.4 572.7,993.5 573.0,993.9 573.3,994.2 573.6,994.2 573.9,994.4 574.2,994.9 574.6,994.6 574.9,994.1 575.2,993.6 575.5,993.5 575.8,993.6 576.1,992.8 576.4,992.6 576.7,993.3 577.0,994.3 577.3,995.6 577.7,996.1 578.0,995.6 578.3,994.8 578.6,993.4 578.9,992.9 579.2,993.8 579.5,994.8 579.8,995.5 580.1,995.1 580.4,994.2 580.7,993.9 581.1,993.7 581.4,993.8 581.7,994.4 582.0,994.7 582.3,995.0 582.6,995.3 582.9,995.3 583.2,995.2 583.5,994.5 583.8,994.0 584.2,994.1 584.5,994.1 584.8,994.7 585.1,995.0 585.4,994.9 585.7,994.1 586.0,993.6 586.3,993.9 586.6,993.9 586.9,993.6 587.2,993.4 587.6,993.8 587.9,995.0 588.2,994.9 588.5,994.4 588.8,994.0 589.1,993.8 589.4,993.9 589.7,993.8 590.0,994.1 590.3,994.7 590.7,995.1 591.0,995.2 591.3,995.3 591.6,995.1 591.9,994.7 592.2,994.1 592.5,993.6 592.8,993.3 593.1,993.6 593.4,993.9 593.8,994.1 594.1,994.4 594.4,994.7 594.7,994.9 595.0,994.8 595.3,995.0 595.6,995.0 595.9,994.7 596.2,994.6 596.5,994.9 596.8,995.6 597.2,995.6 597.5,995.3 597.8,994.6 598.1,994.0 598.4,993.8 598.7,993.9 599.0,994.3 599.3,994.8 599.6,994.9 599.9,995.1 600.3,994.5 600.6,993.6 600.9,993.2 601.2,992.8 601.5,993.7 601.8,994.4 602.1,995.1 602.4,995.7 602.7,995.6 603.0,995.6 603.3,995.2 603.7,995.2 604.0,994.8 604.3,994.5 604.6,994.4 604.9,994.1 605.2,994.5 605.5,994.6 605.8,994.5 606.1,994.6 606.4,994.4 606.8,994.8 607.1,995.2 607.4,995.1 607.7,995.2 608.0,994.8 608.3,994.5 608.6,994.2 608.9,993.7 609.2,994.0 609.5,994.3 609.9,994.4 610.2,994.5 610.5,994.1 610.8,994.1 611.1,994.2 611.4,994.4 611.7,994.6 612.0,994.7 612.3,994.6 612.6,994.7 612.9,995.2 613.3,995.6 613.6,996.0 613.9,995.6 614.2,995.2 614.5,994.4 614.8,994.1 615.1,993.9 615.4,993.3 615.7,993.0 616.0,993.1 616.4,994.0 616.7,995.6 617.0,996.1 617.3,995.8 617.6,995.0 617.9,994.4 618.2,994.7 618.5,995.0 618.8,994.9 619.1,994.4 619.4,993.8 619.8,993.6 620.1,993.9 620.4,994.3 620.7,994.6 621.0,994.4 621.3,994.1 621.6,994.0 621.9,994.3 622.2,994.6 622.5,994.3 622.9,994.5 623.2,994.5 623.5,994.5 623.8,995.0 624.1,995.1 624.4,995.1 624.7,994.6 625.0,993.8 625.3,993.9 625.6,994.2 625.9,994.5 626.3,994.9 626.6,994.7 626.9,994.1 627.2,993.9 627.5,994.1 627.8,994.4 628.1,994.5 628.4,993.8 628.7,993.7 629.0,994.5 629.4,995.0 629.7,995.0 630.0,994.2 630.3,993.1 630.6,993.4 630.9,993.8 631.2,994.1 631.5,994.4 631.8,993.7 632.1,993.5 632.5,993.6 632.8,993.6 633.1,994.1 633.4,993.6 633.7,992.7 634.0,992.0 634.3,992.0 634.6,992.7 634.9,992.9 635.2,992.4 635.5,991.6 635.9,991.9 636.2,992.6 636.5,993.2 636.8,992.7 637.1,991.7 637.4,991.4 637.7,991.3 638.0,991.5 638.3,991.5 638.5,990.8 638.6,991.2 639.0,991.3 639.3,991.9 639.6,992.3 639.9,991.9 640.2,991.8 640.5,991.1 640.8,990.9 641.1,991.3 641.4,991.8 641.7,992.6 642.0,993.0 642.4,993.3 642.7,993.2 643.0,992.7 643.3,992.6 643.6,992.9 643.9,993.4 644.2,994.2 644.5,994.4 644.8,994.3 645.1,994.3 645.5,993.7 645.8,992.9 646.1,993.0 646.4,993.1 646.7,993.5 647.0,993.7 647.3,993.8 647.6,994.4 647.9,994.1 648.2,993.7 648.6,994.1 648.9,994.8 649.2,995.1 649.5,994.7 649.8,994.6 650.1,995.0 650.4,995.1 650.7,995.1 651.0,994.8 651.3,994.1 651.6,993.8 652.0,994.1 652.3,994.8 652.6,994.9 652.9,994.5 653.2,993.9 653.5,993.5 653.8,993.8 654.1,994.5 654.4,995.5 654.7,996.3 655.1,995.7 655.4,994.9 655.7,994.3 656.0,994.3 656.3,994.4 656.6,994.2 656.9,994.3 657.2,994.7 657.5,995.0 657.8,994.9 658.1,994.9 658.5,994.9 658.8,994.8 659.1,994.3 659.4,993.9 659.7,994.2 660.0,995.0 660.3,995.1 660.6,994.5 660.9,993.7 661.2,993.9 661.6,994.7 661.9,994.8 662.2,994.8 662.5,994.4 662.8,994.5 663.1,994.7 663.4,994.2 663.7,994.5 664.0,994.8 664.3,995.6 664.6,996.3 665.0,996.3 665.3,995.8 665.6,994.4 665.9,993.3 666.2,993.0 666.5,994.0 666.8,994.8 667.1,995.4 667.4,995.1 667.7,994.4 668.1,994.2 668.4,994.5 668.7,995.5 669.0,995.9 669.3,995.7"/>
<polyline stroke="#232d2f" stroke-width="3.3" points="49.8,1090.5 50.1,1091.3 50.4,1091.4 50.7,1091.3 51.0,1091.0 51.3,1090.4 51.6,1091.1 52.0,1090.6 52.3,1090.1 52.6,1089.8 52.9,1090.5 53.2,1091.8 53.5,1092.6 53.8,1091.9 54.1,1090.6 54.4,1090.5 54.7,1090.7 55.0,1091.5 55.4,1092.0 55.7,1091.3 56.0,1090.6 56.3,1090.2 56.6,1089.9 56.9,1090.3 57.2,1090.6 57.5,1090.7 57.8,1091.1 58.1,1091.2 58.5,1091.7 58.8,1092.8 59.1,1093.0 59.4,1092.3 59.7,1091.6 60.0,1091.6 60.3,1092.1 60.6,1091.9 60.9,1091.6 61.2,1091.9 61.5,1091.7 61.9,1091.8 62.2,1091.7 62.5,1091.6 62.8,1091.3 63.1,1090.5 63.4,1090.6 63.7,1091.1 64.0,1091.1 64.3,1090.6 64.6,1090.6 65.0,1091.1 65.3,1091.8 65.6,1092.2 65.9,1092.2 66.2,1092.8 66.5,1092.8 66.8,1092.2 67.1,1091.1 67.4,1090.3 67.7,1090.5 68.1,1090.5 68.4,1090.5 68.7,1090.3 69.0,1091.5 69.3,1092.3 69.6,1092.6 69.9,1092.1 70.2,1091.0 70.5,1091.0 70.8,1090.6 71.1,1090.5 71.5,1090.3 71.8,1089.8 72.1,1089.4 72.4,1089.4 72.7,1089.5 73.0,1089.9 73.3,1090.5 73.6,1090.7 73.9,1090.3 74.2,1089.9 74.6,1089.7 74.9,1089.7 75.2,1089.4 75.5,1088.8 75.8,1089.2 76.1,1089.8 76.4,1089.6 76.7,1088.7 77.0,1087.7 77.3,1087.3 77.6,1088.0 78.0,1087.7 78.3,1087.7 78.6,1087.4 78.9,1087.7 79.2,1087.8 79.5,1087.2 79.8,1087.5 80.1,1087.6 80.4,1088.4 80.7,1089.3 81.1,1089.4 81.4,1088.6 81.7,1087.0 82.0,1085.4 82.3,1085.3 82.6,1085.3 82.9,1084.7 83.2,1084.3 83.5,1085.1 83.8,1086.6 84.1,1087.2 84.5,1086.3 84.8,1085.6 85.1,1085.9 85.4,1086.4 85.7,1086.6 86.0,1086.6 86.3,1086.4 86.6,1086.2 86.9,1085.7 87.2,1086.2 87.6,1086.2 87.9,1085.8 88.2,1085.3 88.5,1084.3 88.8,1083.9 89.1,1083.3 89.4,1083.4 89.7,1084.2 90.0,1084.7 90.3,1085.3 90.7,1084.7 91.0,1084.2 91.3,1084.0 91.6,1084.6 91.9,1085.2 92.2,1084.8 92.5,1084.2 92.8,1084.3 93.1,1084.7 93.4,1084.1 93.7,1083.4 94.1,1082.9 94.4,1083.1 94.7,1083.3 95.0,1082.9 95.3,1082.8 95.6,1082.2 95.9,1082.1 96.2,1082.0 96.5,1082.0 96.8,1081.9 97.2,1081.9 97.5,1082.6 97.8,1083.3 98.1,1083.1 98.4,1081.6 98.7,1080.3 99.0,1080.0 99.3,1081.1 99.6,1081.5 99.9,1081.5 100.2,1080.5 100.6,1079.7 100.9,1079.6 101.2,1080.0 101.5,1080.0 101.8,1078.8 102.1,1077.0 102.4,1075.7 102.7,1075.5 103.0,1075.9 103.3,1076.4 103.7,1076.3 104.0,1077.2 104.3,1077.6 104.6,1077.7 104.9,1077.1 105.2,1076.2 105.5,1076.3 105.8,1076.0 106.1,1075.2 106.4,1074.3 106.8,1073.6 107.1,1073.2 107.4,1072.9 107.7,1073.1 108.0,1072.4 108.3,1071.3 108.6,1070.2 108.9,1070.1 109.2,1070.8 109.5,1071.1 109.8,1070.6 110.2,1069.5 110.5,1068.7 110.8,1068.5 111.1,1068.4 111.4,1067.7 111.7,1066.4 112.0,1065.4 112.3,1065.6 112.6,1065.8 112.9,1065.5 113.3,1064.6 113.6,1063.0 113.9,1062.0 114.2,1060.3 114.5,1059.5 114.8,1059.2 115.1,1059.5 115.4,1060.1 115.7,1059.5 116.0,1058.5 116.3,1057.7 116.7,1057.6 117.0,1056.8 117.3,1055.9 117.6,1055.1 117.9,1054.9 118.2,1054.3 118.5,1051.9 118.8,1050.4 119.1,1049.6 119.4,1048.5 119.8,1047.9 120.1,1047.5 120.4,1048.0 120.7,1047.9 121.0,1046.5 121.3,1045.5 121.6,1044.7 121.9,1043.8 122.2,1042.8 122.5,1041.9 122.8,1040.8 123.2,1039.6 123.5,1037.7 123.8,1035.9 124.1,1035.7 124.4,1035.5 124.7,1035.1 125.0,1033.6 125.3,1032.2 125.6,1031.3 125.9,1031.2 126.3,1030.7 126.6,1029.8 126.9,1029.8 127.2,1029.6 127.5,1028.9 127.8,1026.6 128.1,1023.6 128.4,1021.9 128.7,1022.1 129.0,1021.6 129.4,1020.6 129.7,1018.7 130.0,1017.8 130.3,1018.3 130.6,1017.1 130.9,1015.8 131.2,1013.7 131.5,1013.0 131.8,1013.4 132.1,1012.6 132.4,1012.0 132.8,1011.0 133.1,1010.7 133.4,1010.6 133.7,1008.9 134.0,1007.5 134.3,1006.1 134.6,1005.1 134.9,1004.7 135.2,1003.6 135.5,1004.0 135.9,1005.1 136.2,1004.8 136.5,1003.5 136.8,1002.6 137.1,1002.1 137.4,1001.7 137.7,999.9 138.0,998.6 138.3,998.6 138.6,999.1 138.9,999.5 139.3,998.1 139.6,997.6 139.9,998.5 140.2,999.8 140.5,1000.2 140.8,998.8 141.1,997.2 141.4,996.5 141.7,997.2 142.0,998.4 142.4,998.8 142.7,998.4 143.0,997.3 143.3,998.1 143.6,999.1 143.9,1000.3 144.2,1001.0 144.5,1000.9 144.8,1001.8 145.1,1001.3 145.5,1001.7 145.8,1001.4 146.1,1001.3 146.4,1002.4 146.7,1003.5 147.0,1004.5 147.3,1004.2 147.6,1003.6 147.9,1005.3 148.2,1007.5 148.5,1008.8 148.9,1009.7 149.2,1010.5 149.5,1011.7 149.8,1012.5 150.1,1012.3 150.4,1012.5 150.7,1012.6 151.0,1013.4 151.3,1015.4 151.6,1016.8 152.0,1018.0 152.3,1018.1 152.6,1018.1 152.9,1019.7 153.2,1021.1 153.5,1022.0 153.8,1022.7 154.1,1023.5 154.4,1025.2 154.7,1026.9 155.0,1027.9 155.4,1028.6 155.7,1029.7 156.0,1031.1 156.3,1033.1 156.6,1034.9 156.9,1035.7 157.2,1035.5 157.5,1035.0 157.8,1036.1 158.1,1038.3 158.5,1040.1 158.8,1041.1 159.1,1041.2 159.4,1042.6 159.7,1044.8 160.0,1044.9 160.3,1045.1 160.6,1045.2 160.9,1046.1 161.2,1047.3 161.5,1047.3 161.9,1048.0 162.2,1049.4 162.5,1050.8 162.8,1051.0 163.1,1051.2 163.4,1051.6 163.7,1052.7 164.0,1054.0 164.3,1054.0 164.6,1053.5 165.0,1053.4 165.3,1054.3 165.6,1056.3 165.9,1057.5 166.2,1058.0 166.5,1057.6 166.8,1057.5 167.1,1057.8 167.4,1057.4 167.7,1056.5 168.1,1054.2 168.4,1052.3 168.7,1050.4 169.0,1048.4 169.3,1046.3 169.6,1043.3 169.9,1039.2 170.2,1034.2 170.5,1029.4 170.8,1025.1 171.1,1021.7 171.5,1019.9 171.7,1019.7 171.8,1019.9 172.1,1022.1 172.4,1026.2 172.7,1031.5 173.0,1037.1 173.3,1042.5 173.6,1047.1 173.9,1051.5 174.2,1055.6 174.6,1059.8 174.9,1063.9 175.2,1066.6 175.5,1068.5 175.8,1069.7 176.1,1071.1 176.4,1072.2 176.7,1072.5 177.0,1073.0 177.3,1073.9 177.6,1075.8 178.0,1077.5 178.3,1077.2 178.6,1076.3 178.9,1075.6 179.2,1075.7 179.5,1076.4 179.8,1076.3 180.1,1076.6 180.4,1077.0 180.7,1076.7 181.1,1075.8 181.4,1075.2 181.7,1074.9 182.0,1073.9 182.3,1072.8 182.6,1072.2 182.9,1072.6 183.2,1073.1 183.5,1071.8 183.8,1069.7 184.2,1069.0 184.5,1068.2 184.8,1067.1 185.1,1066.2 185.4,1065.2 185.7,1066.5 186.0,1068.1 186.3,1067.9 186.6,1067.2 186.9,1066.4 187.2,1066.6 187.6,1068.3 187.9,1070.3 188.2,1071.3 188.5,1072.5 188.8,1073.3 189.1,1073.6 189.4,1074.2 189.7,1074.1 190.0,1074.5 190.3,1075.5 190.7,1075.8 191.0,1076.3 191.3,1076.3 191.6,1076.5 191.9,1076.6 192.2,1076.2 192.5,1075.0 192.8,1073.6 193.1,1072.3 193.4,1073.1 193.7,1074.7 194.1,1075.1 194.4,1074.3 194.7,1072.8 195.0,1072.3 195.3,1071.9 195.6,1071.4 195.9,1070.2 196.2,1068.8 196.5,1066.9 196.8,1065.0 197.2,1063.0 197.5,1060.4 197.8,1057.2 198.1,1053.8 198.4,1050.7 198.7,1048.5 199.0,1047.6 199.1,1047.5 199.3,1047.9 199.6,1049.9 199.9,1053.2 200.2,1057.4 200.6,1061.5 200.9,1065.6 201.2,1069.2 201.5,1072.1 201.8,1074.7 202.1,1076.7 202.4,1078.3 202.7,1079.2 203.0,1080.3 203.3,1081.5 203.7,1082.7 204.0,1082.9 204.3,1083.0 204.6,1083.3 204.9,1083.5 205.2,1084.8 205.5,1085.2 205.8,1085.6 206.1,1084.6 206.4,1083.8 206.8,1083.7 207.1,1084.7 207.4,1085.7 207.7,1085.9 208.0,1085.5 208.3,1084.8 208.6,1084.9 208.9,1085.5 209.2,1086.0 209.5,1085.5 209.8,1084.3 210.2,1083.2 210.5,1083.4 210.8,1084.4 211.1,1084.4 211.4,1083.5 211.7,1081.9 212.0,1080.9 212.3,1080.8 212.6,1081.0 212.9,1081.3 213.3,1080.5 213.6,1078.9 213.9,1076.4 214.2,1074.4 214.5,1072.7 214.8,1070.5 215.1,1067.7 215.4,1063.7 215.7,1059.2 216.0,1054.0 216.3,1048.1 216.7,1041.5 217.0,1034.3 217.3,1027.3 217.6,1021.6 217.9,1018.1 218.1,1017.6 218.2,1017.8 218.5,1020.7 218.8,1026.4 219.1,1033.6 219.4,1040.8 219.8,1047.6 220.1,1054.0 220.4,1060.6 220.7,1066.5 221.0,1070.8 221.3,1074.2 221.6,1076.9 221.9,1079.6 222.2,1082.1 222.5,1083.4 222.9,1084.2 223.2,1085.0 223.5,1086.5 223.8,1088.3 224.1,1089.5 224.4,1090.4 224.7,1091.4 225.0,1092.8 225.3,1093.5 225.6,1093.7 225.9,1093.6 226.3,1093.8 226.6,1094.2 226.9,1094.1 227.2,1094.0 227.5,1094.0 227.8,1094.9 228.1,1096.2 228.4,1096.4 228.7,1096.6 229.0,1096.6 229.4,1097.3 229.7,1098.6 230.0,1098.2 230.3,1098.0 230.6,1098.2 230.9,1098.5 231.2,1099.3 231.5,1098.9 231.8,1098.4 232.1,1098.1 232.4,1098.2 232.8,1099.4 233.1,1100.2 233.4,1100.4 233.7,1099.8 234.0,1099.7 234.3,1099.7 234.6,1100.0 234.9,1100.3 235.2,1100.3 235.5,1100.4 235.9,1100.4 236.2,1099.9 236.5,1100.3 236.8,1100.7 237.1,1101.0 237.4,1100.9 237.7,1100.1 238.0,1099.9 238.3,1100.3 238.6,1101.2 238.9,1101.8 239.3,1102.2 239.6,1102.0 239.9,1101.8 240.2,1101.7 240.5,1101.7 240.8,1101.7 241.1,1101.3 241.4,1101.2 241.7,1101.9 242.0,1102.7 242.4,1102.6 242.7,1102.2 243.0,1101.9 243.3,1102.1 243.6,1101.9 243.9,1102.0 244.2,1102.7 244.5,1102.9 244.8,1102.3 245.1,1101.7 245.5,1101.8 245.8,1102.2 246.1,1101.9 246.4,1101.1 246.7,1101.5 247.0,1102.3 247.3,1103.2 247.6,1103.6 247.9,1103.4 248.2,1103.1 248.5,1102.8 248.9,1103.1 249.2,1103.3 249.5,1103.3 249.8,1102.8 250.1,1102.5 250.4,1102.7 250.7,1103.0 251.0,1103.5 251.3,1103.4 251.6,1103.5 252.0,1103.5 252.3,1103.2 252.6,1103.1 252.9,1103.0 253.2,1102.6 253.5,1103.0 253.8,1103.2 254.1,1103.5 254.4,1103.5 254.7,1103.1 255.0,1103.2 255.4,1103.3 255.7,1103.7 256.0,1103.2 256.3,1103.3 256.6,1103.8 256.9,1104.2 257.2,1104.3 257.5,1103.4 257.8,1102.6 258.1,1102.5 258.5,1103.4 258.8,1104.1 259.1,1104.4 259.4,1103.2 259.7,1102.1 260.0,1102.0 260.3,1102.2 260.6,1103.2 260.9,1103.6 261.2,1103.3 261.6,1103.5 261.9,1103.0 262.2,1103.2 262.5,1103.9 262.8,1104.2 263.1,1104.9 263.4,1104.2 263.7,1103.5 264.0,1103.1 264.3,1103.2 264.6,1104.1 265.0,1104.6 265.3,1104.3 265.6,1103.5 265.9,1103.0 266.2,1102.9 266.5,1103.2 266.8,1103.2 267.1,1103.1 267.4,1103.7 267.7,1103.6 268.1,1103.4 268.4,1102.9 268.7,1103.0 269.0,1103.5 269.3,1103.6 269.6,1103.4 269.9,1103.5 270.2,1103.4 270.5,1102.9 270.8,1102.4 271.1,1102.3 271.5,1103.2 271.8,1103.7 272.1,1103.7 272.4,1103.5 272.7,1103.9 273.0,1104.5 273.3,1104.5 273.6,1104.9 273.9,1104.6 274.2,1103.5 274.6,1101.8 274.9,1100.5 275.2,1100.7 275.5,1101.5 275.8,1102.5 276.1,1103.3 276.4,1103.7 276.7,1103.9 277.0,1103.0 277.3,1103.4 277.6,1104.1 278.0,1104.9 278.3,1105.0 278.6,1103.5 278.9,1102.4 279.2,1102.4 279.5,1103.2 279.8,1104.0 280.1,1103.8 280.4,1103.1 280.7,1103.0 281.1,1103.0 281.4,1102.9 281.7,1102.5 282.0,1102.2 282.3,1102.1 282.6,1101.7 282.9,1102.2 283.2,1103.3 283.5,1104.3 283.8,1104.2 284.2,1103.2 284.5,1102.3 284.8,1102.1 285.1,1102.0 285.4,1102.5 285.7,1102.4 286.0,1102.0 286.3,1102.0 286.6,1101.7 286.9,1102.0 287.2,1102.1 287.6,1103.2 287.9,1103.7 288.2,1103.9 288.5,1103.4 288.8,1102.4 289.1,1102.2 289.4,1101.9 289.7,1101.8 290.0,1101.6 290.3,1101.4 290.7,1102.2 291.0,1102.8 291.3,1102.5 291.6,1101.9 291.9,1101.8 292.2,1102.2 292.5,1102.3 292.8,1101.4 293.1,1100.8 293.4,1101.2 293.7,1101.8 294.1,1102.4 294.4,1102.5 294.7,1102.7 295.0,1102.3 295.3,1101.8 295.6,1101.0 295.9,1101.3 296.2,1101.6 296.5,1101.3 296.8,1100.8 297.2,1100.5 297.5,1100.7 297.8,1100.5 298.1,1099.8 298.4,1099.9 298.7,1100.7 299.0,1101.0 299.3,1100.7 299.6,1100.7 299.9,1100.8 300.3,1100.9 300.6,1100.9 300.9,1100.2 301.2,1100.2 301.5,1100.1 301.8,1099.9 302.1,1100.1 302.4,1099.8 302.7,1099.1 303.0,1098.7 303.3,1098.4 303.7,1098.5 304.0,1098.8 304.3,1099.0 304.6,1098.7 304.9,1098.6 305.2,1098.0 305.5,1097.7 305.8,1097.8 306.1,1097.9 306.4,1097.9 306.8,1097.6 307.1,1097.4 307.4,1096.9 307.7,1096.7 308.0,1096.7 308.3,1097.0 308.6,1097.4 308.9,1097.4 309.2,1097.4 309.5,1097.4 309.8,1096.8 310.2,1095.6 310.5,1094.4 310.8,1093.7 311.1,1093.9 311.4,1093.8 311.7,1094.0 312.0,1094.1 312.3,1093.9 312.6,1093.6 312.9,1093.3 313.3,1093.4 313.6,1093.8 313.9,1094.0 314.2,1093.2 314.5,1092.6 314.8,1091.7 315.1,1091.4 315.4,1091.7 315.7,1092.1 316.0,1092.2 316.3,1091.1 316.7,1089.8 317.0,1089.2 317.3,1089.3 317.6,1089.9 317.9,1089.6 318.2,1088.9 318.5,1088.0 318.8,1087.3 319.1,1087.5 319.4,1087.4 319.8,1087.3 320.1,1087.2 320.4,1087.3 320.7,1087.4 321.0,1086.7 321.3,1085.5 321.6,1084.8 321.9,1084.6 322.2,1085.1 322.5,1085.1 322.9,1084.7 323.2,1084.6 323.5,1083.5 323.8,1083.1 324.1,1083.1 324.4,1083.0 324.7,1082.9 325.0,1081.9 325.3,1081.5 325.6,1081.4 325.9,1081.1 326.3,1080.8 326.6,1080.2 326.9,1079.5 327.2,1079.1 327.5,1078.7 327.8,1078.9 328.1,1078.4 328.4,1077.7 328.7,1077.1 329.0,1076.1 329.4,1075.8 329.7,1075.6 330.0,1075.3 330.3,1075.1 330.6,1074.7 330.9,1074.1 331.2,1073.1 331.5,1071.7 331.8,1070.9 332.1,1070.1 332.4,1069.1 332.8,1067.7 333.1,1066.3 333.4,1065.2 333.7,1064.1 334.0,1062.9 334.3,1061.6 334.6,1060.6 334.9,1060.0 334.9,1060.2 335.2,1060.3 335.5,1060.8 335.9,1061.5 336.2,1062.4 336.5,1063.4 336.8,1064.5 337.1,1065.4 337.4,1066.2 337.7,1067.0 338.0,1067.9 338.3,1068.4 338.6,1068.9 339.0,1068.9 339.3,1069.0 339.6,1069.6 339.9,1070.1 340.2,1070.5 340.5,1070.0 340.8,1069.7 341.1,1070.5 341.4,1071.5 341.7,1071.6 342.0,1071.5 342.4,1071.9 342.7,1073.3 343.0,1073.7 343.3,1072.3 343.6,1070.8 343.9,1070.4 344.2,1071.2 344.5,1071.4 344.8,1071.6 345.1,1072.2 345.5,1073.9 345.8,1075.0 346.1,1074.9 346.4,1074.5 346.7,1073.5 347.0,1072.6 347.3,1071.7 347.6,1071.6 347.9,1072.7 348.2,1073.4 348.5,1073.6 348.9,1073.8 349.2,1074.8 349.5,1076.2 349.8,1076.5 350.1,1076.2 350.4,1075.4 350.7,1076.0 351.0,1077.3 351.3,1077.0 351.6,1076.7 352.0,1076.2 352.3,1076.3 352.6,1077.1 352.9,1076.6 353.2,1076.9 353.5,1077.7 353.8,1078.4 354.1,1079.0 354.4,1079.2 354.7,1080.0 355.0,1080.4 355.4,1081.2 355.7,1082.1 356.0,1082.1 356.3,1081.9 356.6,1080.3 356.9,1080.0 357.2,1081.3 357.5,1082.3 357.8,1082.9 358.1,1082.7 358.5,1082.5 358.8,1083.5 359.1,1084.6 359.4,1085.0 359.7,1085.6 360.0,1085.4 360.3,1085.4 360.6,1086.3 360.9,1087.0 361.2,1087.9 361.6,1088.0 361.9,1087.4 362.2,1086.8 362.5,1086.8 362.8,1087.5 363.1,1087.9 363.4,1088.4 363.7,1088.2 364.0,1088.2 364.3,1088.6 364.6,1089.4 365.0,1090.3 365.3,1090.7 365.6,1090.8 365.9,1090.9 366.2,1091.4 366.5,1091.0 366.8,1090.5 367.1,1090.3 367.4,1090.7 367.7,1091.2 368.1,1091.7 368.4,1092.3 368.7,1092.2 369.0,1091.8 369.3,1091.1 369.6,1090.9 369.9,1091.3 370.2,1092.5 370.5,1093.6 370.8,1094.5 371.1,1094.2 371.5,1093.8 371.8,1093.8 372.1,1094.3 372.4,1094.8 372.7,1095.3 373.0,1095.3 373.3,1094.7 373.6,1094.5 373.9,1094.3 374.2,1094.9 374.6,1094.7 374.9,1094.7 375.2,1094.8 375.5,1094.5 375.8,1095.0 376.1,1095.3 376.4,1095.5 376.7,1095.6 377.0,1095.4 377.3,1095.7 377.7,1095.8 378.0,1096.3 378.3,1097.0 378.6,1097.2 378.9,1097.5 379.2,1096.6 379.5,1096.7 379.8,1096.5 380.1,1096.1 380.4,1096.3 380.7,1096.1 381.1,1096.7 381.4,1096.9 381.7,1096.6 382.0,1096.1 382.3,1095.5 382.6,1096.3 382.9,1096.8 383.2,1097.4 383.5,1097.4 383.8,1097.2 384.2,1097.9 384.5,1098.4 384.8,1098.2 385.1,1097.8 385.4,1096.3 385.7,1096.0 386.0,1096.8 386.3,1097.5 386.6,1098.2 386.9,1098.0 387.2,1097.8 387.6,1098.0 387.9,1097.5 388.2,1097.4 388.5,1097.2 388.8,1096.6 389.1,1096.2 389.4,1095.9 389.7,1096.6 390.0,1097.7 390.3,1098.3 390.7,1098.1 391.0,1097.6 391.3,1097.7 391.6,1098.2 391.9,1098.6 392.2,1098.6 392.5,1098.1 392.8,1098.1 393.1,1097.8 393.4,1098.0 393.7,1098.4 394.1,1098.4 394.4,1098.4 394.7,1098.1 395.0,1097.5 395.3,1097.6 395.6,1098.1 395.9,1097.9 396.2,1097.6 396.5,1096.7 396.8,1097.3 397.2,1098.0 397.5,1097.9 397.8,1098.0 398.1,1097.6 398.4,1097.9 398.7,1097.6 399.0,1097.5 399.3,1097.6 399.6,1097.6 399.9,1097.1 400.3,1096.3 400.6,1096.4 400.9,1096.8 401.2,1097.2 401.5,1097.2 401.8,1097.0 402.1,1096.4 402.4,1096.0 402.7,1095.8 403.0,1096.3 403.3,1096.8 403.7,1096.5 404.0,1096.6 404.3,1096.7 404.6,1097.0 404.9,1096.9 405.2,1096.8 405.5,1096.7 405.8,1096.3 406.1,1095.6 406.4,1094.7 406.8,1094.2 407.1,1093.4 407.4,1093.6 407.7,1094.0 408.0,1094.3 408.3,1094.5 408.6,1094.3 408.9,1093.6 409.2,1093.1 409.5,1093.5 409.8,1094.4 410.2,1095.1 410.5,1094.2 410.8,1093.9 411.1,1093.7 411.4,1094.1 411.7,1094.0 412.0,1093.3 412.3,1092.6 412.6,1091.9 412.9,1091.6 413.3,1092.3 413.6,1093.1 413.9,1092.8 414.2,1092.4 414.5,1091.5 414.8,1091.0 415.1,1091.0 415.4,1090.6 415.7,1090.6 416.0,1090.9 416.4,1091.3 416.7,1091.4 417.0,1091.2 417.3,1091.4 417.6,1091.8 417.9,1091.7 418.2,1091.0 418.5,1090.0 418.8,1089.3 419.1,1088.8 419.4,1088.9 419.8,1089.3 420.1,1089.7 420.4,1090.2 420.7,1089.6 421.0,1088.4 421.3,1086.9 421.6,1086.3 421.9,1087.1 422.2,1087.4 422.5,1087.3 422.9,1086.1 423.2,1084.9 423.5,1084.4 423.8,1083.7 424.1,1083.2 424.4,1082.2 424.7,1080.7 425.0,1079.4 425.3,1077.8 425.6,1076.3 425.9,1074.8 426.3,1073.1 426.6,1071.2 426.9,1069.4 427.2,1067.5 427.5,1065.6 427.8,1063.8 428.1,1062.6 428.4,1062.0 428.5,1061.9 428.7,1062.1 429.0,1062.9 429.4,1064.1 429.7,1065.7 430.0,1067.5 430.3,1069.2 430.6,1071.0 430.9,1072.8 431.2,1074.5 431.5,1076.1 431.8,1077.0 432.1,1077.9 432.4,1078.9 432.8,1080.1 433.1,1081.0 433.4,1081.0 433.7,1081.2 434.0,1081.1 434.3,1082.0 434.6,1083.0 434.9,1083.5 435.2,1084.3 435.5,1084.9 435.9,1085.0 436.2,1085.0 436.5,1084.6 436.8,1084.3 437.1,1084.9 437.4,1085.1 437.7,1085.4 438.0,1085.0 438.3,1085.8 438.6,1087.2 439.0,1088.4 439.3,1087.6 439.6,1085.8 439.9,1085.7 440.2,1086.8 440.5,1088.2 440.8,1087.8 441.1,1086.6 441.4,1086.1 441.7,1086.4 442.0,1087.1 442.4,1087.3 442.7,1087.2 443.0,1087.5 443.3,1088.2 443.6,1089.3 443.9,1089.0 444.2,1088.7 444.5,1087.9 444.8,1088.4 445.1,1089.5 445.5,1089.4 445.8,1089.6 446.1,1089.1 446.4,1088.6 446.7,1088.2 447.0,1087.5 447.3,1088.1 447.6,1089.3 447.9,1090.1 448.2,1090.9 448.5,1091.3 448.9,1091.5 449.2,1090.7 449.5,1089.5 449.8,1089.5 450.1,1090.5 450.4,1091.3 450.7,1090.9 451.0,1089.6 451.3,1089.5 451.6,1090.0 452.0,1090.8 452.3,1091.5 452.6,1091.5 452.9,1092.0 453.2,1092.0 453.5,1092.0 453.8,1091.5 454.1,1091.2 454.4,1091.1 454.7,1091.3 455.1,1091.8 455.4,1091.0 455.7,1090.8 456.0,1091.4 456.3,1093.5 456.6,1094.4 456.9,1094.3 457.2,1094.3 457.5,1094.1 457.8,1094.9 458.1,1094.7 458.5,1094.5 458.8,1095.1 459.1,1095.6 459.4,1096.0 459.7,1096.2 460.0,1096.2 460.3,1096.7 460.6,1097.5 460.9,1098.4 461.2,1098.8 461.6,1098.5 461.9,1098.2 462.2,1097.9 462.5,1098.7 462.8,1099.8 463.1,1100.7 463.4,1100.5 463.7,1099.9 464.0,1099.6 464.3,1099.6 464.6,1100.0 465.0,1099.6 465.3,1099.9 465.6,1100.3 465.9,1101.6 466.2,1102.7 466.5,1102.5 466.8,1101.9 467.1,1101.3 467.4,1102.1 467.7,1103.1 468.1,1103.8 468.4,1103.9 468.7,1103.6 469.0,1103.7 469.3,1103.2 469.6,1103.0 469.9,1103.1 470.2,1103.2 470.5,1103.4 470.8,1103.2 471.1,1104.0 471.5,1105.5 471.8,1106.3 472.1,1106.0 472.4,1105.3 472.7,1105.2 473.0,1105.4 473.3,1105.6 473.6,1105.8 473.9,1106.4 474.2,1106.9 474.6,1106.9 474.9,1106.5 475.2,1105.9 475.5,1105.9 475.8,1106.5 476.1,1107.2 476.4,1107.4 476.7,1106.8 477.0,1106.3 477.3,1106.5 477.7,1107.5 478.0,1108.1 478.3,1107.8 478.6,1107.3 478.9,1107.4 479.2,1107.8 479.5,1108.0 479.8,1107.9 480.1,1107.6 480.4,1107.7 480.7,1107.9 481.1,1108.2 481.4,1108.5 481.7,1108.4 482.0,1108.1 482.3,1107.9 482.6,1108.4 482.9,1109.2 483.2,1109.6 483.5,1109.0 483.8,1107.6 484.2,1106.7 484.5,1106.6 484.8,1106.6 485.1,1106.6 485.4,1107.2 485.7,1107.9 486.0,1108.5 486.3,1108.1 486.6,1107.5 486.9,1107.1 487.2,1106.6 487.6,1106.1 487.9,1105.3 488.2,1105.0 488.5,1104.9 488.8,1104.6 489.1,1103.9 489.4,1102.8 489.7,1101.8 490.0,1101.0 490.3,1100.1 490.7,1099.1 491.0,1098.0 491.3,1096.8 491.6,1095.8 491.9,1095.0 492.2,1094.2 492.5,1093.6 492.8,1093.3 493.0,1093.2 493.1,1093.2 493.4,1093.4 493.8,1094.0 494.1,1094.8 494.4,1095.9 494.7,1096.9 495.0,1098.0 495.3,1099.3 495.6,1100.5 495.9,1101.6 496.2,1102.6 496.5,1103.7 496.8,1105.1 497.2,1106.1 497.5,1106.7 497.8,1106.9 498.1,1106.9 498.4,1107.2 498.7,1107.9 499.0,1108.9 499.3,1109.7 499.6,1109.6 499.9,1109.2 500.3,1109.1 500.6,1109.8 500.9,1110.4 501.2,1110.1 501.5,1110.0 501.8,1110.2 502.1,1111.1 502.4,1111.6 502.7,1111.4 503.0,1111.4 503.3,1111.7 503.7,1111.8 504.0,1111.8 504.3,1111.7 504.6,1112.0 504.9,1112.4 505.2,1112.9 505.5,1113.0 505.8,1112.9 506.1,1112.5 506.4,1111.8 506.8,1111.4 507.1,1111.6 507.4,1112.3 507.7,1113.0 508.0,1113.2 508.3,1113.4 508.6,1113.3 508.9,1113.3 509.2,1113.0 509.5,1112.8 509.8,1112.8 510.2,1112.6 510.5,1112.6 510.8,1112.7 511.1,1113.0 511.4,1113.8 511.7,1114.2 512.0,1114.4 512.3,1114.2 512.6,1113.9 512.9,1114.1 513.3,1113.9 513.6,1113.2 513.9,1112.3 514.2,1112.1 514.5,1112.8 514.8,1113.9 515.1,1114.5 515.4,1114.4 515.7,1114.0 516.0,1113.3 516.4,1113.1 516.7,1113.5 517.0,1114.0 517.3,1114.6 517.6,1114.6 517.9,1113.6 518.2,1112.8 518.5,1112.2 518.8,1112.5 519.1,1113.4 519.4,1113.5 519.8,1113.6 520.1,1113.8 520.4,1114.2 520.7,1114.8 521.0,1114.4 521.3,1113.8 521.6,1113.5 521.9,1113.4 522.2,1113.8 522.5,1114.0 522.9,1114.4 523.2,1114.0 523.5,1113.3 523.8,1112.8 524.1,1112.5 524.4,1112.9 524.7,1113.0 525.0,1112.9 525.3,1112.7 525.6,1112.4 525.9,1112.8 526.3,1112.9 526.6,1113.2 526.9,1112.9 527.2,1112.0 527.5,1111.7 527.8,1111.5 528.1,1111.5 528.4,1110.9 528.7,1110.4 529.0,1110.7 529.4,1111.0 529.7,1111.5 529.7,1111.2 530.0,1111.6 530.3,1112.1 530.6,1112.4 530.9,1112.8 531.2,1112.5 531.5,1112.3 531.8,1111.5 532.1,1110.7 532.5,1110.8 532.8,1111.4 533.1,1112.4 533.4,1112.8 533.7,1112.5 534.0,1112.2 534.3,1112.1 534.6,1112.4 534.9,1112.9 535.2,1113.5 535.5,1113.4 535.9,1112.6 536.2,1111.9 536.5,1111.6 536.8,1112.0 537.1,1112.7 537.4,1112.6 537.7,1112.7 538.0,1112.5 538.3,1111.8 538.6,1111.7 539.0,1110.8 539.3,1110.2 539.6,1110.3 539.9,1110.3 540.2,1110.7 540.5,1110.6 540.8,1109.9 541.1,1109.3 541.4,1108.3 541.7,1107.8 542.0,1107.5 542.4,1107.3 542.7,1106.6 543.0,1105.6 543.3,1104.7 543.6,1103.7 543.9,1103.0 544.2,1102.2 544.5,1101.4 544.8,1100.7 545.1,1100.2 545.5,1100.0 545.7,1100.0 545.8,1100.0 546.1,1100.2 546.4,1100.6 546.7,1101.1 547.0,1101.9 547.3,1102.7 547.6,1103.4 547.9,1104.1 548.2,1104.8 548.5,1105.7 548.9,1106.3 549.2,1106.6 549.5,1107.2 549.8,1108.1 550.1,1108.8 550.4,1109.1 550.7,1109.0 551.0,1109.4 551.3,1109.8 551.6,1110.0 552.0,1110.2 552.3,1109.9 552.6,1110.0 552.9,1110.3 553.2,1110.5 553.5,1110.6 553.8,1110.2 554.1,1109.8 554.4,1109.6 554.7,1109.2 555.1,1109.0 555.4,1108.9 555.7,1108.7 556.0,1108.5 556.3,1108.2 556.6,1108.1 556.9,1108.0 557.2,1107.9 557.5,1107.9 557.5,1107.9 557.8,1107.9 558.1,1108.0 558.5,1108.3 558.8,1108.6 559.1,1109.0 559.4,1109.4 559.7,1109.9 560.0,1110.6 560.3,1110.9 560.6,1111.1 560.9,1111.2 561.2,1111.3 561.6,1111.6 561.9,1111.8 562.2,1111.9 562.5,1112.0 562.8,1112.5 563.1,1112.7 563.4,1113.1 563.7,1113.1 564.0,1113.4 564.3,1113.9 564.6,1113.9 565.0,1113.6 565.3,1113.3 565.6,1113.3 565.9,1113.7 566.2,1114.3 566.5,1114.7 566.8,1114.8 567.1,1114.3 567.4,1114.1 567.7,1114.1 568.1,1114.1 568.4,1114.1 568.7,1113.7 569.0,1113.7 569.3,1113.9 569.6,1114.3 569.9,1114.8 570.2,1115.0 570.5,1114.6 570.8,1114.3 571.2,1114.3 571.5,1114.7 571.8,1114.8 572.1,1114.5 572.4,1114.5 572.7,1114.2 573.0,1114.4 573.3,1114.2 573.6,1114.7 573.9,1115.2 574.2,1115.5 574.6,1115.1 574.9,1114.6 575.2,1114.5 575.5,1114.8 575.8,1115.3 576.1,1115.1 576.4,1114.8 576.7,1114.3 577.0,1113.8 577.3,1113.9 577.7,1114.5 578.0,1115.2 578.3,1115.4 578.6,1114.9 578.9,1114.2 579.2,1114.6 579.5,1115.3 579.8,1116.0 580.1,1115.7 580.4,1115.5 580.7,1115.3 581.1,1115.0 581.4,1114.8 581.7,1114.5 582.0,1114.6 582.3,1114.8 582.6,1114.4 582.9,1114.5 583.2,1115.1 583.5,1115.3 583.8,1115.8 584.2,1115.3 584.5,1115.0 584.8,1114.7 585.1,1114.3 585.4,1114.6 585.7,1114.8 586.0,1115.4 586.3,1115.6 586.6,1115.4 586.9,1115.4 587.2,1114.9 587.6,1114.8 587.9,1115.5 588.2,1116.0 588.5,1116.0 588.8,1115.7 589.1,1115.4 589.4,1115.6 589.7,1115.2 590.0,1114.3 590.3,1114.1 590.7,1114.2 591.0,1115.1 591.3,1115.8 591.6,1115.6 591.9,1115.3 592.2,1114.7 592.5,1114.6 592.8,1115.0 593.1,1115.4 593.4,1115.5 593.8,1115.6 594.1,1115.2 594.4,1114.5 594.7,1114.2 595.0,1114.6 595.3,1115.4 595.6,1115.5 595.9,1115.1 596.2,1115.0 596.5,1115.3 596.8,1116.0 597.2,1115.6 597.5,1115.1 597.8,1114.8 598.1,1114.6 598.4,1115.3 598.7,1115.4 599.0,1115.4 599.3,1115.3 599.6,1115.0 599.9,1114.9 600.3,1114.6 600.6,1115.0 600.9,1115.1 601.2,1115.4 601.5,1115.4 601.8,1115.5 602.1,1115.8 602.4,1115.9 602.7,1116.1 603.0,1115.9 603.3,1115.7 603.7,1115.3 604.0,1115.1 604.3,1115.3 604.6,1115.6 604.9,1115.7 605.2,1115.3 605.5,1115.0 605.8,1114.7 606.1,1114.6 606.4,1115.0 606.8,1115.0 607.1,1114.7 607.4,1114.8 607.7,1115.0 608.0,1115.7 608.3,1116.0 608.6,1115.6 608.9,1115.3 609.2,1115.1 609.5,1115.4 609.9,1115.9 610.2,1115.9 610.5,1115.3 610.8,1114.5 611.1,1114.5 611.4,1114.9 611.7,1115.2 612.0,1115.2 612.3,1114.9 612.6,1115.1 612.9,1115.5 613.3,1115.8 613.6,1116.3 613.9,1116.1 614.2,1115.6 614.5,1114.9 614.8,1114.7 615.1,1114.8 615.4,1115.1 615.7,1115.3 616.0,1115.1 616.4,1115.0 616.7,1115.2 617.0,1115.5 617.3,1115.9 617.6,1115.9 617.9,1115.9 618.2,1115.7 618.5,1115.2 618.8,1114.7 619.1,1114.2 619.4,1114.2 619.8,1114.4 620.1,1115.1 620.4,1115.6 620.7,1115.7 621.0,1115.5 621.3,1115.5 621.6,1116.0 621.9,1116.4 622.2,1115.9 622.5,1115.1 622.9,1114.5 623.2,1114.4 623.5,1114.8 623.8,1115.0 624.1,1115.2 624.4,1115.3 624.7,1115.6 625.0,1115.9 625.3,1115.7 625.6,1115.5 625.9,1114.9 626.3,1114.7 626.6,1114.8 626.9,1115.2 627.2,1115.4 627.5,1115.2 627.8,1115.3 628.1,1115.1 628.4,1114.8 628.7,1114.5 629.0,1114.6 629.4,1115.5 629.7,1116.1 630.0,1115.6 630.3,1115.0 630.6,1114.6 630.9,1114.6 631.2,1114.6 631.5,1114.2 631.8,1113.8 632.1,1114.1 632.5,1114.9 632.8,1115.4 633.1,1115.2 633.4,1114.3 633.7,1114.0 634.0,1114.1 634.3,1114.4 634.6,1114.4 634.9,1114.2 635.2,1114.0 635.5,1113.8 635.9,1113.9 636.2,1113.6 636.5,1113.2 636.8,1112.3 637.1,1111.4 637.4,1111.2 637.7,1111.4 638.0,1112.4 638.3,1113.3 638.5,1113.6 638.6,1113.0 639.0,1112.4 639.3,1112.6 639.6,1113.2 639.9,1113.7 640.2,1113.2 640.5,1113.0 640.8,1113.0 641.1,1113.2 641.4,1113.5 641.7,1113.7 642.0,1113.6 642.4,1113.7 642.7,1113.6 643.0,1113.3 643.3,1113.5 643.6,1113.7 643.9,1114.5 644.2,1115.2 644.5,1115.3 644.8,1115.2 645.1,1114.5 645.5,1114.3 645.8,1114.6 646.1,1115.4 646.4,1116.1 646.7,1115.9 647.0,1115.7 647.3,1115.2 647.6,1115.3 647.9,1115.4 648.2,1115.1 648.6,1114.6 648.9,1114.2 649.2,1114.0 649.5,1113.9 649.8,1114.3 650.1,1114.7 650.4,1115.3 650.7,1115.6 651.0,1115.5 651.3,1115.4 651.6,1114.8 652.0,1114.8 652.3,1114.9 652.6,1115.4 652.9,1115.8 653.2,1115.9 653.5,1115.8 653.8,1115.9 654.1,1115.6 654.4,1115.6 654.7,1115.4 655.1,1115.2 655.4,1115.0 655.7,1114.7 656.0,1115.0 656.3,1115.5 656.6,1115.7 656.9,1115.3 657.2,1115.2 657.5,1115.5 657.8,1115.7 658.1,1115.8 658.5,1115.9 658.8,1115.7 659.1,1115.6 659.4,1115.4 659.7,1115.6 660.0,1116.1 660.3,1115.9 660.6,1115.6 660.9,1115.5 661.2,1115.9 661.6,1116.2 661.9,1115.5 662.2,1114.6 662.5,1114.0 662.8,1114.7 663.1,1115.8 663.4,1116.2 663.7,1116.0 664.0,1115.1 664.3,1114.8 664.6,1115.3 665.0,1116.0 665.3,1116.5 665.6,1116.1 665.9,1115.4 666.2,1114.8 666.5,1115.3 666.8,1115.7 667.1,1116.0 667.4,1115.7 667.7,1115.3 668.1,1115.4 668.4,1115.6 668.7,1116.2 669.0,1116.5 669.3,1116.3"/>
</g>
<text transform="translate(50.0 1168.0) scale(0.925 1)" font-size="31.8" text-anchor="middle">20</text>
<text transform="translate(153.3 1168.0) scale(0.925 1)" font-size="31.8" text-anchor="middle">30</text>
<text transform="translate(256.7 1168.0) scale(0.925 1)" font-size="31.8" text-anchor="middle">40</text>
<text transform="translate(360.0 1168.0) scale(0.925 1)" font-size="31.8" text-anchor="middle">50</text>
<text transform="translate(463.4 1168.0) scale(0.925 1)" font-size="31.8" text-anchor="middle">60</text>
<text transform="translate(566.8 1168.0) scale(0.925 1)" font-size="31.8" text-anchor="middle">70</text>
<text transform="translate(670.1 1168.0) scale(0.925 1)" font-size="31.8" text-anchor="middle">80</text>
<text transform="translate(360.0 1199.8) scale(1.025 1)" font-size="31.0" text-anchor="middle">2θ, deg</text>
<text transform="translate(27.0 571.3) rotate(-90) scale(1.042 1)" font-size="31.4" text-anchor="middle">Intensity, arb. units</text>
<text transform="translate(119.6 36.4) scale(1.055 1)" font-size="31.0" text-anchor="start">Zincite</text>
<text transform="translate(292.2 36.1) scale(1.022 1)" font-size="31.2" text-anchor="start">Sphalerite</text>
<text transform="translate(513.9 36.0) scale(1.012 1)" font-size="31.0" text-anchor="start">Wurtzite</text>
<text transform="translate(647.2 157.4) scale(1.043 1)" font-size="29.7" text-anchor="middle">(a)</text>
<text transform="translate(647.2 268.0) scale(1.066 1)" font-size="29.7" text-anchor="middle">(b)</text>
<text transform="translate(647.2 464.1) scale(1.043 1)" font-size="29.7" text-anchor="middle">(c)</text>
<text transform="translate(647.2 713.3) scale(1.084 1)" font-size="29.7" text-anchor="middle">(d)</text>
<text transform="translate(647.2 858.7) scale(1.043 1)" font-size="29.7" text-anchor="middle">(e)</text>
<text transform="translate(647.2 975.2) scale(1.056 1)" font-size="29.7" text-anchor="middle">(f)</text>
<text transform="translate(647.2 1095.0) scale(1.003 1)" font-size="29.7" text-anchor="middle">(g)</text>
<text class="ast" x="104.0" y="46.7" font-size="38.8" text-anchor="middle">*</text>
<text class="ast" x="173.3" y="83.8" font-size="38.8" text-anchor="middle">*</text>
<text class="ast" x="200.3" y="114.6" font-size="38.8" text-anchor="middle">*</text>
<text class="ast" x="219.0" y="83.8" font-size="38.8" text-anchor="middle">*</text>
<text class="ast" x="334.7" y="125.4" font-size="38.8" text-anchor="middle">*</text>
<text class="ast" x="429.3" y="124.6" font-size="38.8" text-anchor="middle">*</text>
<text class="ast" x="493.6" y="157.3" font-size="38.8" text-anchor="middle">*</text>
<text class="ast" x="546.1" y="159.3" font-size="38.8" text-anchor="middle">*</text>
<text class="ast" x="557.9" y="173.6" font-size="38.8" text-anchor="middle">*</text>
<circle cx="275.30" cy="28.10" r="6.45" fill="none" stroke="#000" stroke-width="1.95"/>
<circle cx="143.55" cy="163.30" r="6.45" fill="none" stroke="#000" stroke-width="1.95"/>
<circle cx="347.50" cy="228.50" r="6.45" fill="none" stroke="#000" stroke-width="1.95"/>
<circle cx="446.60" cy="245.60" r="6.45" fill="none" stroke="#000" stroke-width="1.95"/>
<path d="M493.8 12.3 V31.6" stroke="#1a1718" stroke-width="2.1" fill="none"/>
<path d="M493.8 39.8 L487.5 26.0 Q491.3 28.4 493.8 28.6 Q496.3 28.4 500.1 26.0 Z" fill="#1a1718"/>
<path d="M117.6 392.3 V412.3" stroke="#1a1718" stroke-width="2.1" fill="none"/>
<path d="M117.6 420.5 L111.3 406.7 Q115.1 409.1 117.6 409.3 Q120.1 409.1 123.9 406.7 Z" fill="#1a1718"/>
<path d="M133.2 331.3 V350.9" stroke="#1a1718" stroke-width="2.1" fill="none"/>
<path d="M133.2 359.1 L126.9 345.3 Q130.7 347.7 133.2 347.9 Q135.7 347.7 139.5 345.3 Z" fill="#1a1718"/>
<path d="M159.1 369.6 V389.8" stroke="#1a1718" stroke-width="2.1" fill="none"/>
<path d="M159.1 398.0 L152.8 384.2 Q156.6 386.6 159.1 386.8 Q161.6 386.6 165.4 384.2 Z" fill="#1a1718"/>
<path d="M343.0 389.0 V408.8" stroke="#1a1718" stroke-width="2.1" fill="none"/>
<path d="M343.0 417.0 L336.7 403.2 Q340.5 405.6 343.0 405.8 Q345.5 405.6 349.3 403.2 Z" fill="#1a1718"/>
<path d="M428.8 363.8 V383.4" stroke="#1a1718" stroke-width="2.1" fill="none"/>
<path d="M428.8 391.6 L422.5 377.8 Q426.3 380.2 428.8 380.4 Q431.3 380.2 435.1 377.8 Z" fill="#1a1718"/>
<path d="M413.4 427.5 V447.8" stroke="#1a1718" stroke-width="2.1" fill="none"/>
<path d="M413.4 456.0 L407.1 442.2 Q410.9 444.6 413.4 444.8 Q415.9 444.6 419.7 442.2 Z" fill="#1a1718"/>
<path d="M443.2 422.5 V442.9" stroke="#1a1718" stroke-width="2.1" fill="none"/>
<path d="M443.2 451.1 L436.9 437.3 Q440.7 439.7 443.2 439.9 Q445.7 439.7 449.5 437.3 Z" fill="#1a1718"/>
<path d="M455.4 436.2 V456.7" stroke="#1a1718" stroke-width="2.1" fill="none"/>
<path d="M455.4 464.9 L449.1 451.1 Q452.9 453.5 455.4 453.7 Q457.9 453.5 461.7 451.1 Z" fill="#1a1718"/>
</svg></body></html>
